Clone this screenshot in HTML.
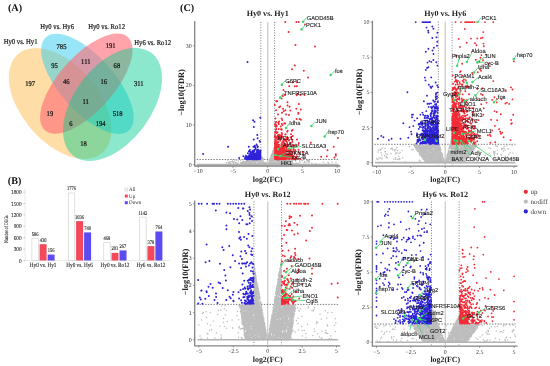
<!DOCTYPE html>
<html><head><meta charset="utf-8"><style>
html,body{margin:0;padding:0;background:#fff;}
svg{display:block;will-change:transform;text-rendering:geometricPrecision;}
</style></head><body>
<svg width="550" height="366" viewBox="0 0 550 366">
<rect width="550" height="366" fill="#fff"/>
<text x="7.9" y="10.8" font-family="Liberation Serif" font-size="10.2" font-weight="bold" text-anchor="start" fill="#111" >(A)</text>
<ellipse cx="60.14" cy="103.5" rx="64.9" ry="38.6" transform="rotate(49.7 60.14 103.5)" fill="rgb(255,182,67)" fill-opacity="0.467"/>
<ellipse cx="87.4" cy="83.9" rx="62.4" ry="27.5" transform="rotate(48.4 87.4 83.9)" fill="rgb(42,202,237)" fill-opacity="0.491"/>
<ellipse cx="86.3" cy="83.6" rx="62.4" ry="27.5" transform="rotate(-48.4 86.3 83.6)" fill="rgb(255,106,116)" fill-opacity="0.609"/>
<ellipse cx="112.5" cy="104.4" rx="64.6" ry="38.4" transform="rotate(-53.0 112.5 104.4)" fill="rgb(0,203,141)" fill-opacity="0.452"/>
<text x="0" y="0" transform="translate(20.60 43.60) scale(0.9 1)" font-family="Liberation Serif" font-size="7.4" font-weight="normal" text-anchor="middle" fill="#1a1a1a" stroke="#1a1a1a" stroke-width="0.22">Hy0 vs. Hy1</text>
<text x="0" y="0" transform="translate(57.10 29.40) scale(0.9 1)" font-family="Liberation Serif" font-size="7.4" font-weight="normal" text-anchor="middle" fill="#1a1a1a" stroke="#1a1a1a" stroke-width="0.22">Hy0 vs. Hy6</text>
<text x="0" y="0" transform="translate(106.60 29.40) scale(0.9 1)" font-family="Liberation Serif" font-size="7.4" font-weight="normal" text-anchor="middle" fill="#1a1a1a" stroke="#1a1a1a" stroke-width="0.22">Hy0 vs. Ro12</text>
<text x="0" y="0" transform="translate(152.70 44.60) scale(0.9 1)" font-family="Liberation Serif" font-size="7.4" font-weight="normal" text-anchor="middle" fill="#1a1a1a" stroke="#1a1a1a" stroke-width="0.22">Hy6 vs. Ro12</text>
<text x="0" y="0" transform="translate(61.50 48.80) scale(0.9 1)" font-family="Liberation Serif" font-size="7.3" font-weight="normal" text-anchor="middle" fill="#111" stroke="#111" stroke-width="0.22">785</text>
<text x="0" y="0" transform="translate(54.60 67.80) scale(0.9 1)" font-family="Liberation Serif" font-size="7.3" font-weight="normal" text-anchor="middle" fill="#111" stroke="#111" stroke-width="0.22">95</text>
<text x="0" y="0" transform="translate(30.20 86.30) scale(0.9 1)" font-family="Liberation Serif" font-size="7.3" font-weight="normal" text-anchor="middle" fill="#111" stroke="#111" stroke-width="0.22">197</text>
<text x="0" y="0" transform="translate(85.80 63.80) scale(0.9 1)" font-family="Liberation Serif" font-size="7.3" font-weight="normal" text-anchor="middle" fill="#111" stroke="#111" stroke-width="0.22">111</text>
<text x="0" y="0" transform="translate(66.30 84.30) scale(0.9 1)" font-family="Liberation Serif" font-size="7.3" font-weight="normal" text-anchor="middle" fill="#111" stroke="#111" stroke-width="0.22">46</text>
<text x="0" y="0" transform="translate(85.70 104.30) scale(0.9 1)" font-family="Liberation Serif" font-size="7.3" font-weight="normal" text-anchor="middle" fill="#111" stroke="#111" stroke-width="0.22">11</text>
<text x="0" y="0" transform="translate(49.90 116.30) scale(0.9 1)" font-family="Liberation Serif" font-size="7.3" font-weight="normal" text-anchor="middle" fill="#111" stroke="#111" stroke-width="0.22">19</text>
<text x="0" y="0" transform="translate(110.60 48.00) scale(0.9 1)" font-family="Liberation Serif" font-size="7.3" font-weight="normal" text-anchor="middle" fill="#111" stroke="#111" stroke-width="0.22">191</text>
<text x="0" y="0" transform="translate(116.90 67.80) scale(0.9 1)" font-family="Liberation Serif" font-size="7.3" font-weight="normal" text-anchor="middle" fill="#111" stroke="#111" stroke-width="0.22">68</text>
<text x="0" y="0" transform="translate(103.70 84.00) scale(0.9 1)" font-family="Liberation Serif" font-size="7.3" font-weight="normal" text-anchor="middle" fill="#111" stroke="#111" stroke-width="0.22">16</text>
<text x="0" y="0" transform="translate(138.80 85.90) scale(0.9 1)" font-family="Liberation Serif" font-size="7.3" font-weight="normal" text-anchor="middle" fill="#111" stroke="#111" stroke-width="0.22">311</text>
<text x="0" y="0" transform="translate(70.80 125.90) scale(0.9 1)" font-family="Liberation Serif" font-size="7.3" font-weight="normal" text-anchor="middle" fill="#111" stroke="#111" stroke-width="0.22">6</text>
<text x="0" y="0" transform="translate(100.70 125.90) scale(0.9 1)" font-family="Liberation Serif" font-size="7.3" font-weight="normal" text-anchor="middle" fill="#111" stroke="#111" stroke-width="0.22">194</text>
<text x="0" y="0" transform="translate(117.70 116.30) scale(0.9 1)" font-family="Liberation Serif" font-size="7.3" font-weight="normal" text-anchor="middle" fill="#111" stroke="#111" stroke-width="0.22">518</text>
<text x="0" y="0" transform="translate(83.60 145.50) scale(0.9 1)" font-family="Liberation Serif" font-size="7.3" font-weight="normal" text-anchor="middle" fill="#111" stroke="#111" stroke-width="0.22">18</text>
<text x="7.8" y="183.6" font-family="Liberation Serif" font-size="10.2" font-weight="bold" text-anchor="start" fill="#111" >(B)</text>
<line x1="25" y1="189" x2="25" y2="260.5" stroke="#ddd" stroke-width="0.6"/>
<line x1="25" y1="260.5" x2="170" y2="260.5" stroke="#ddd" stroke-width="0.6"/>
<line x1="23.4" y1="260.5" x2="25" y2="260.5" stroke="#999" stroke-width="0.5"/>
<text x="0" y="0" transform="translate(21.60 262.50) scale(0.9 1)" font-family="Liberation Serif" font-size="5.9" font-weight="normal" text-anchor="end" fill="#222" stroke="#222" stroke-width="0.08">0</text>
<line x1="23.4" y1="249.1" x2="25" y2="249.1" stroke="#999" stroke-width="0.5"/>
<text x="0" y="0" transform="translate(21.60 251.10) scale(0.9 1)" font-family="Liberation Serif" font-size="5.9" font-weight="normal" text-anchor="end" fill="#222" stroke="#222" stroke-width="0.08">300</text>
<line x1="23.4" y1="237.7" x2="25" y2="237.7" stroke="#999" stroke-width="0.5"/>
<text x="0" y="0" transform="translate(21.60 239.70) scale(0.9 1)" font-family="Liberation Serif" font-size="5.9" font-weight="normal" text-anchor="end" fill="#222" stroke="#222" stroke-width="0.08">600</text>
<line x1="23.4" y1="226.3" x2="25" y2="226.3" stroke="#999" stroke-width="0.5"/>
<text x="0" y="0" transform="translate(21.60 228.30) scale(0.9 1)" font-family="Liberation Serif" font-size="5.9" font-weight="normal" text-anchor="end" fill="#222" stroke="#222" stroke-width="0.08">900</text>
<line x1="23.4" y1="214.9" x2="25" y2="214.9" stroke="#999" stroke-width="0.5"/>
<text x="0" y="0" transform="translate(21.60 216.90) scale(0.9 1)" font-family="Liberation Serif" font-size="5.9" font-weight="normal" text-anchor="end" fill="#222" stroke="#222" stroke-width="0.08">1200</text>
<line x1="23.4" y1="203.5" x2="25" y2="203.5" stroke="#999" stroke-width="0.5"/>
<text x="0" y="0" transform="translate(21.60 205.50) scale(0.9 1)" font-family="Liberation Serif" font-size="5.9" font-weight="normal" text-anchor="end" fill="#222" stroke="#222" stroke-width="0.08">1500</text>
<line x1="23.4" y1="192.1" x2="25" y2="192.1" stroke="#999" stroke-width="0.5"/>
<text x="0" y="0" transform="translate(21.60 194.10) scale(0.9 1)" font-family="Liberation Serif" font-size="5.9" font-weight="normal" text-anchor="end" fill="#222" stroke="#222" stroke-width="0.08">1800</text>
<text x="0" y="0" transform="translate(8.0 229.2) rotate(-90) scale(0.74 1)" font-family="Liberation Serif" font-size="5.3" text-anchor="middle" fill="#222" stroke="#222" stroke-width="0.1">Number of DEGs</text>
<rect x="31.9" y="238.2" width="6.4" height="22.3" fill="#fff" stroke="#ccc" stroke-width="0.6"/>
<text x="0" y="0" transform="translate(35.00 235.63) scale(0.8 1)" font-family="Liberation Serif" font-size="5.6" font-weight="normal" text-anchor="middle" fill="#222" stroke="#222" stroke-width="0.12">586</text>
<rect x="39.6" y="244.2" width="7" height="16.3" fill="#F5485B"/>
<text x="0" y="0" transform="translate(43.00 241.56) scale(0.8 1)" font-family="Liberation Serif" font-size="5.6" font-weight="normal" text-anchor="middle" fill="#222" stroke="#222" stroke-width="0.12">430</text>
<rect x="47.6" y="254.6" width="7" height="5.9" fill="#5B4BF0"/>
<text x="0" y="0" transform="translate(51.00 251.97) scale(0.8 1)" font-family="Liberation Serif" font-size="5.6" font-weight="normal" text-anchor="middle" fill="#222" stroke="#222" stroke-width="0.12">156</text>
<text x="0" y="0" transform="translate(43.10 267.30) scale(0.82 1)" font-family="Liberation Serif" font-size="6.4" font-weight="normal" text-anchor="middle" fill="#1a1a1a" stroke="#1a1a1a" stroke-width="0.1">Hy0 vs. Hy1</text>
<rect x="68.4" y="193.0" width="6.4" height="67.5" fill="#fff" stroke="#ccc" stroke-width="0.6"/>
<text x="0" y="0" transform="translate(71.50 190.41) scale(0.8 1)" font-family="Liberation Serif" font-size="5.6" font-weight="normal" text-anchor="middle" fill="#222" stroke="#222" stroke-width="0.12">1776</text>
<rect x="76.1" y="221.1" width="7" height="39.4" fill="#F5485B"/>
<text x="0" y="0" transform="translate(79.50 218.53) scale(0.8 1)" font-family="Liberation Serif" font-size="5.6" font-weight="normal" text-anchor="middle" fill="#222" stroke="#222" stroke-width="0.12">1036</text>
<rect x="84.1" y="232.4" width="7" height="28.1" fill="#5B4BF0"/>
<text x="0" y="0" transform="translate(87.50 229.78) scale(0.8 1)" font-family="Liberation Serif" font-size="5.6" font-weight="normal" text-anchor="middle" fill="#222" stroke="#222" stroke-width="0.12">740</text>
<text x="0" y="0" transform="translate(79.60 267.30) scale(0.82 1)" font-family="Liberation Serif" font-size="6.4" font-weight="normal" text-anchor="middle" fill="#1a1a1a" stroke="#1a1a1a" stroke-width="0.1">Hy0 vs. Hy6</text>
<rect x="103.8" y="242.7" width="6.4" height="17.8" fill="#fff" stroke="#ccc" stroke-width="0.6"/>
<text x="0" y="0" transform="translate(106.90 240.12) scale(0.8 1)" font-family="Liberation Serif" font-size="5.6" font-weight="normal" text-anchor="middle" fill="#222" stroke="#222" stroke-width="0.12">468</text>
<rect x="111.5" y="252.9" width="7" height="7.6" fill="#F5485B"/>
<text x="0" y="0" transform="translate(114.90 250.26) scale(0.8 1)" font-family="Liberation Serif" font-size="5.6" font-weight="normal" text-anchor="middle" fill="#222" stroke="#222" stroke-width="0.12">201</text>
<rect x="119.5" y="250.4" width="7" height="10.1" fill="#5B4BF0"/>
<text x="0" y="0" transform="translate(122.90 247.75) scale(0.8 1)" font-family="Liberation Serif" font-size="5.6" font-weight="normal" text-anchor="middle" fill="#222" stroke="#222" stroke-width="0.12">267</text>
<text x="0" y="0" transform="translate(115.00 267.30) scale(0.82 1)" font-family="Liberation Serif" font-size="6.4" font-weight="normal" text-anchor="middle" fill="#1a1a1a" stroke="#1a1a1a" stroke-width="0.1">Hy0 vs. Ro12</text>
<rect x="139.7" y="217.1" width="6.4" height="43.4" fill="#fff" stroke="#ccc" stroke-width="0.6"/>
<text x="0" y="0" transform="translate(142.80 214.50) scale(0.8 1)" font-family="Liberation Serif" font-size="5.6" font-weight="normal" text-anchor="middle" fill="#222" stroke="#222" stroke-width="0.12">1142</text>
<rect x="147.4" y="246.1" width="7" height="14.4" fill="#F5485B"/>
<text x="0" y="0" transform="translate(150.80 243.54) scale(0.8 1)" font-family="Liberation Serif" font-size="5.6" font-weight="normal" text-anchor="middle" fill="#222" stroke="#222" stroke-width="0.12">378</text>
<rect x="155.4" y="231.5" width="7" height="29.0" fill="#5B4BF0"/>
<text x="0" y="0" transform="translate(158.80 228.87) scale(0.8 1)" font-family="Liberation Serif" font-size="5.6" font-weight="normal" text-anchor="middle" fill="#222" stroke="#222" stroke-width="0.12">764</text>
<text x="0" y="0" transform="translate(150.90 267.30) scale(0.82 1)" font-family="Liberation Serif" font-size="6.4" font-weight="normal" text-anchor="middle" fill="#1a1a1a" stroke="#1a1a1a" stroke-width="0.1">Hy6 vs. Ro12</text>
<rect x="125" y="188.0" width="2.6" height="3" fill="#fff" stroke="#bbb" stroke-width="0.5"/>
<text x="0" y="0" transform="translate(129.10 191.10) scale(0.9 1)" font-family="Liberation Serif" font-size="5.5" font-weight="normal" text-anchor="start" fill="#222" >All</text>
<rect x="124.8" y="194.6" width="3" height="3" fill="#F5485B"/>
<text x="0" y="0" transform="translate(129.10 197.70) scale(0.9 1)" font-family="Liberation Serif" font-size="5.5" font-weight="normal" text-anchor="start" fill="#222" >Up</text>
<rect x="124.8" y="201.2" width="3" height="3" fill="#5B4BF0"/>
<text x="0" y="0" transform="translate(129.10 204.30) scale(0.9 1)" font-family="Liberation Serif" font-size="5.5" font-weight="normal" text-anchor="start" fill="#222" >Down</text>
<text x="180.0" y="10.8" font-family="Liberation Serif" font-size="10.2" font-weight="bold" text-anchor="start" fill="#111" >(C)</text>
<line x1="267.7" y1="22" x2="267.7" y2="165" stroke="#cfcfcf" stroke-width="1.4"/>
<line x1="260.8" y1="22" x2="260.8" y2="165" stroke="#444" stroke-width="0.7" stroke-dasharray="1 1.6"/>
<line x1="274.6" y1="22" x2="274.6" y2="165" stroke="#444" stroke-width="0.7" stroke-dasharray="1 1.6"/>
<line x1="196.7" y1="159.5" x2="338.3" y2="159.5" stroke="#444" stroke-width="0.7" stroke-dasharray="1.4 1.4"/>
<line x1="445.2" y1="21.7" x2="445.2" y2="165.2" stroke="#cfcfcf" stroke-width="1.4"/>
<line x1="438.3" y1="21.7" x2="438.3" y2="165.2" stroke="#444" stroke-width="0.7" stroke-dasharray="1 1.6"/>
<line x1="452.1" y1="21.7" x2="452.1" y2="165.2" stroke="#444" stroke-width="0.7" stroke-dasharray="1 1.6"/>
<line x1="374.4" y1="144.3" x2="515.5" y2="144.3" stroke="#444" stroke-width="0.7" stroke-dasharray="1.4 1.4"/>
<line x1="267.7" y1="201.5" x2="267.7" y2="344.8" stroke="#cfcfcf" stroke-width="1.4"/>
<line x1="253.9" y1="201.5" x2="253.9" y2="344.8" stroke="#444" stroke-width="0.7" stroke-dasharray="1 1.6"/>
<line x1="281.5" y1="201.5" x2="281.5" y2="344.8" stroke="#444" stroke-width="0.7" stroke-dasharray="1 1.6"/>
<line x1="196.7" y1="304.4" x2="338.3" y2="304.4" stroke="#444" stroke-width="0.7" stroke-dasharray="1.4 1.4"/>
<line x1="445.3" y1="201.5" x2="445.3" y2="345.2" stroke="#cfcfcf" stroke-width="1.4"/>
<line x1="431.5" y1="201.5" x2="431.5" y2="345.2" stroke="#444" stroke-width="0.7" stroke-dasharray="1 1.6"/>
<line x1="459.1" y1="201.5" x2="459.1" y2="345.2" stroke="#444" stroke-width="0.7" stroke-dasharray="1 1.6"/>
<line x1="374.4" y1="324.0" x2="515.5" y2="324.0" stroke="#444" stroke-width="0.7" stroke-dasharray="1.4 1.4"/>
<circle cx="525.8" cy="191.8" r="2.1" fill="#F42A36"/>
<text x="530.6" y="194.0" font-family="Liberation Serif" font-size="7.0" font-weight="normal" text-anchor="start" fill="#444" >up</text>
<circle cx="525.8" cy="201.6" r="2.1" fill="#bdbdbd"/>
<text x="530.6" y="203.8" font-family="Liberation Serif" font-size="7.0" font-weight="normal" text-anchor="start" fill="#444" >nodiff</text>
<circle cx="525.8" cy="211.4" r="2.1" fill="#2E22D8"/>
<text x="530.6" y="213.6" font-family="Liberation Serif" font-size="7.0" font-weight="normal" text-anchor="start" fill="#444" >down</text><path d="M278.5 163.8h0M248.7 164.3h0M269.3 163.5h0M250.5 160.1h0M257.4 160.3h0M256.0 163.3h0M283.2 159.6h0M246.5 160.0h0M245.5 163.5h0M284.2 161.3h0M271.0 156.3h0M251.7 159.6h0M251.8 159.8h0M256.4 163.2h0M250.1 161.7h0M253.8 161.1h0M263.3 162.7h0M273.1 159.1h0M274.1 159.4h0M264.7 163.5h0M271.7 162.2h0M247.7 163.9h0M274.6 157.5h0M272.3 153.3h0M254.1 164.4h0M251.2 161.4h0M272.3 158.7h0M255.3 161.5h0M244.1 164.0h0M288.4 163.8h0M265.2 164.1h0M286.0 160.2h0M247.7 163.7h0M278.0 160.9h0M279.6 161.3h0M274.1 150.5h0M290.3 163.0h0M276.1 160.8h0M267.0 164.1h0M284.9 163.4h0M284.4 161.4h0M247.7 161.8h0M292.7 163.0h0M271.8 160.9h0M273.6 164.1h0M271.2 155.5h0M278.3 163.4h0M291.3 162.2h0M283.2 164.2h0M250.7 160.4h0M253.8 160.9h0M260.8 156.9h0M269.3 161.6h0M287.5 160.3h0M289.2 162.1h0M254.3 162.8h0M283.8 162.3h0M250.4 163.3h0M245.8 163.9h0M271.5 161.9h0M250.2 160.8h0M291.4 162.8h0M273.3 164.4h0M250.7 161.5h0M268.4 164.3h0M273.2 155.2h0M280.1 163.3h0M294.4 164.2h0M274.1 150.8h0M260.8 162.8h0M284.9 163.2h0M273.1 150.5h0M273.9 163.5h0M256.4 164.3h0M253.5 163.8h0M281.5 163.7h0M273.5 162.5h0M274.6 156.1h0M251.2 163.6h0M269.3 162.3h0M272.3 156.8h0M280.7 160.2h0M259.9 159.5h0M272.8 152.8h0M281.8 161.1h0M242.1 163.5h0M274.6 162.7h0M270.0 163.3h0M244.0 162.4h0M282.6 160.6h0M263.5 159.8h0M244.3 163.1h0M271.3 155.6h0M283.0 163.2h0M255.6 161.9h0M260.3 162.4h0M261.9 157.4h0M284.6 163.4h0M244.6 163.1h0M276.0 160.0h0M261.8 158.3h0M263.3 161.9h0M260.8 161.5h0M283.0 161.3h0M250.2 160.6h0M273.0 160.4h0M276.5 160.2h0M248.6 161.7h0M257.8 159.8h0M279.7 162.8h0M290.9 162.9h0M285.8 160.7h0M279.4 160.2h0M271.3 156.1h0M284.3 160.8h0M274.2 159.2h0M254.2 160.9h0M285.9 162.9h0M247.7 162.8h0M248.6 162.3h0M262.5 163.2h0M261.4 158.4h0M262.8 164.3h0M274.8 160.9h0M271.1 159.7h0M286.1 161.1h0M270.4 163.2h0M284.6 164.3h0M271.6 161.4h0M271.5 158.4h0M275.6 163.9h0M277.2 161.9h0M274.6 151.8h0M257.7 163.6h0M272.9 163.3h0M253.0 163.3h0M292.8 164.6h0M258.0 163.4h0M262.0 158.0h0M272.5 163.7h0M289.8 161.0h0M242.7 162.6h0M279.6 162.1h0M264.7 163.1h0M279.4 160.9h0M250.0 160.2h0M269.4 163.8h0M273.2 159.3h0M281.9 160.0h0M283.2 161.5h0M273.7 160.2h0M273.1 151.3h0M249.9 161.8h0M271.5 154.5h0M283.9 160.2h0M274.4 154.8h0M249.4 159.9h0M260.2 160.6h0M293.9 163.8h0M289.4 162.0h0M261.7 159.1h0M263.5 163.2h0M252.7 159.9h0M270.6 160.1h0M276.0 163.5h0M249.0 160.8h0M287.9 160.8h0M261.2 163.2h0M255.2 164.3h0M250.0 159.7h0M279.7 159.6h0M260.0 161.7h0M290.3 164.2h0M268.8 163.6h0M261.8 160.2h0M273.0 164.0h0M270.1 162.1h0M279.2 159.8h0M248.1 160.8h0M262.4 157.4h0M288.0 160.4h0M251.9 163.8h0M288.2 160.2h0M275.1 162.9h0M255.5 161.6h0M253.2 162.9h0M278.8 164.2h0M261.7 157.8h0M272.5 155.9h0M258.0 159.9h0M290.5 163.9h0M250.6 160.3h0M277.7 160.2h0M261.8 160.1h0M253.1 160.0h0M258.0 161.3h0M243.4 163.3h0M288.3 163.6h0M279.7 159.9h0M271.5 156.8h0M277.1 160.3h0M250.2 164.3h0M246.5 163.8h0M258.3 164.1h0M274.2 150.4h0M284.4 161.9h0M249.6 162.6h0M257.9 164.2h0M271.4 161.9h0M260.2 159.8h0M242.7 163.4h0M280.2 161.3h0M246.5 163.2h0M293.2 164.4h0M279.1 159.9h0M290.5 164.2h0M272.0 160.4h0M261.5 157.7h0M281.1 160.7h0M277.7 161.3h0M245.8 161.9h0M262.3 158.6h0M279.2 161.3h0M275.7 160.6h0M274.2 148.1h0M261.3 160.3h0M273.3 153.9h0M268.5 164.0h0M272.9 153.5h0M288.0 161.0h0M284.2 161.8h0M260.2 162.7h0M246.4 161.2h0M274.2 147.8h0M263.9 164.3h0M273.4 151.7h0M249.9 162.2h0M247.1 162.4h0M259.8 160.9h0M264.8 163.4h0M263.2 159.4h0M277.3 160.0h0M262.8 162.1h0M272.7 154.4h0M281.1 163.0h0M274.5 150.8h0M247.1 163.0h0M283.1 160.0h0M262.9 163.6h0M270.9 156.1h0M287.2 162.7h0M287.2 161.7h0M262.9 164.4h0M261.8 159.0h0M281.0 159.8h0M252.3 162.8h0M293.6 164.5h0M273.8 153.6h0M242.8 162.9h0M253.9 159.6h0M275.4 164.2h0M272.1 164.5h0M290.9 163.2h0M280.7 163.3h0M246.2 162.4h0M266.2 164.0h0M272.8 154.9h0M272.4 155.7h0M278.7 160.3h0M271.9 159.8h0M281.8 162.7h0M258.4 161.8h0M284.7 162.8h0M283.5 160.5h0M273.8 162.4h0M280.3 159.7h0M253.8 164.2h0M269.8 159.9h0M256.2 159.9h0M288.5 161.6h0M273.8 154.5h0M283.0 159.8h0M271.4 158.1h0M276.4 163.3h0M290.0 162.7h0M271.3 162.4h0M288.4 163.5h0M276.9 163.3h0M268.9 163.2h0M269.2 161.2h0M272.7 151.8h0M274.0 153.2h0M291.8 163.0h0M241.2 164.0h0M249.7 161.8h0M250.2 160.3h0M253.5 160.5h0M261.4 162.1h0M261.0 159.3h0M272.9 150.8h0M261.1 163.4h0M290.7 161.9h0M260.6 162.4h0M259.2 163.7h0M257.0 161.2h0M292.6 163.1h0M252.3 163.2h0M271.5 159.1h0M294.3 164.1h0M251.7 164.2h0M274.3 157.7h0M288.9 161.6h0M255.9 161.4h0M280.1 160.2h0M272.3 161.7h0M264.5 163.0h0M284.4 160.2h0M250.8 160.6h0M284.5 161.3h0M274.5 162.3h0M280.3 163.5h0M261.3 158.0h0M284.1 160.3h0M281.3 160.0h0M243.8 163.6h0M269.2 161.1h0M282.5 163.5h0M263.9 162.6h0M289.3 163.6h0M247.0 163.6h0M266.2 164.3h0M266.0 162.6h0M274.6 156.9h0M282.5 159.8h0M274.0 160.5h0M263.3 161.9h0M273.6 156.0h0M269.8 164.2h0M253.8 161.3h0M246.4 163.0h0M278.6 164.1h0M288.7 160.5h0M279.2 160.6h0M245.2 163.8h0M243.4 162.7h0M254.4 164.3h0M254.8 162.5h0M274.5 152.3h0M252.4 164.2h0M256.6 164.0h0M255.8 161.0h0M295.1 164.4h0M275.5 162.5h0M272.8 153.8h0M270.1 158.3h0M276.4 160.6h0M271.0 162.7h0M275.3 159.7h0M282.1 163.5h0M247.7 160.8h0M257.8 159.8h0M285.9 161.2h0M291.9 163.8h0M271.2 157.5h0M285.7 159.9h0M279.7 161.2h0M242.6 164.1h0M258.2 161.8h0M271.3 160.2h0M274.4 150.7h0M248.1 161.6h0M242.0 164.1h0M244.7 163.7h0M290.8 163.9h0M250.5 162.5h0M249.2 161.5h0M266.3 163.9h0M274.1 161.0h0M258.6 164.4h0M290.4 163.8h0M271.3 162.2h0M283.3 163.4h0M278.5 161.1h0M287.1 160.9h0M270.9 158.3h0M240.0 164.6h0M275.4 163.4h0M279.7 160.3h0M263.3 158.7h0M262.0 158.8h0M278.0 161.8h0M248.9 163.9h0M262.9 161.2h0M243.1 162.8h0M260.6 162.5h0M275.6 164.1h0M252.7 164.0h0M248.9 163.4h0M269.5 162.2h0M273.5 149.3h0M259.0 162.4h0M273.6 151.9h0M262.1 163.1h0M277.6 161.8h0M273.4 150.4h0M251.8 164.4h0M247.3 162.1h0M273.5 163.7h0M246.0 163.9h0M251.4 163.8h0M273.4 155.8h0M257.5 161.5h0M265.7 162.4h0M245.2 161.4h0M260.4 161.3h0M273.1 153.2h0M260.9 162.4h0M289.5 163.0h0M263.5 159.4h0M280.4 164.0h0M258.0 161.0h0M246.6 163.2h0M273.2 158.7h0M245.3 162.9h0M262.7 161.7h0M277.1 161.7h0M245.0 161.9h0M271.3 159.4h0M277.5 162.6h0M247.5 160.9h0M246.6 161.5h0M271.4 161.9h0M259.9 164.0h0M249.7 162.6h0M283.9 163.0h0M284.0 159.7h0M284.6 162.3h0M285.5 163.3h0M258.8 160.4h0M243.4 163.7h0M256.1 164.3h0M254.9 163.6h0M246.3 164.1h0M266.6 164.2h0M287.6 163.6h0M280.6 163.5h0M258.7 162.7h0M252.6 160.1h0M273.6 158.1h0M286.6 163.8h0M253.1 160.1h0M254.5 162.7h0M251.7 160.4h0M271.4 163.2h0M286.5 163.8h0M275.5 163.3h0M245.9 164.5h0M262.0 160.0h0M252.5 160.5h0M273.8 151.0h0M274.0 158.0h0M258.8 163.3h0M276.8 163.6h0M265.5 164.3h0M274.1 152.7h0M260.1 164.5h0M261.9 159.5h0M278.3 162.8h0M252.5 164.3h0M269.6 163.4h0M274.6 153.3h0M254.3 160.5h0M244.1 162.8h0M264.7 164.1h0M278.8 163.9h0M277.6 162.4h0M272.1 156.9h0M260.3 161.1h0M272.6 163.4h0M249.0 163.7h0M273.9 153.0h0M252.9 160.5h0M248.1 164.1h0M269.5 162.7h0M288.5 163.7h0M278.9 160.3h0M280.3 160.0h0M270.0 163.6h0M259.6 163.1h0M259.7 160.8h0M276.5 162.8h0M269.6 163.6h0M284.0 164.5h0M278.5 160.4h0M263.1 163.7h0M273.6 155.7h0M247.5 162.1h0M272.9 152.6h0M284.7 160.6h0M259.1 163.6h0M264.4 163.6h0M262.6 161.9h0M265.4 163.4h0M246.6 163.1h0M263.5 162.0h0M254.3 163.7h0M271.0 157.0h0M251.3 164.3h0M288.3 161.7h0M272.3 159.8h0M246.2 163.9h0M273.8 160.1h0M274.5 153.8h0M271.6 160.0h0M280.0 160.4h0M273.6 154.3h0M270.6 160.2h0M255.4 160.8h0M250.7 163.1h0M269.0 161.4h0M274.6 155.7h0M274.0 159.1h0M274.2 154.4h0M261.3 163.0h0M259.8 161.5h0M289.3 161.3h0M279.5 161.4h0M273.2 159.6h0M248.8 160.3h0M273.3 159.6h0M274.4 155.8h0M270.3 158.4h0M272.0 154.9h0M272.6 162.9h0M253.3 161.1h0M245.6 164.0h0M250.8 159.7h0M283.6 160.0h0M283.3 162.7h0M262.1 162.3h0M280.6 159.9h0M262.3 160.0h0M273.1 156.6h0M281.0 161.7h0M274.9 162.4h0M252.2 162.2h0M276.8 163.8h0M282.5 163.3h0M282.6 160.2h0M273.5 154.8h0M250.2 163.3h0M273.0 156.0h0M253.7 162.7h0M276.7 160.0h0M273.9 154.4h0M273.7 156.6h0M260.1 164.4h0M247.7 159.8h0M288.5 161.3h0M277.7 163.7h0M270.6 159.8h0M248.2 159.9h0M246.5 164.1h0M273.7 152.3h0M277.9 161.3h0M280.6 161.7h0M261.3 157.6h0M272.9 163.3h0M274.5 164.5h0M281.8 163.2h0M259.3 160.1h0M292.2 163.1h0M277.4 162.9h0M256.8 161.2h0M255.9 162.5h0M282.0 161.6h0M244.3 162.0h0M269.9 161.7h0M273.3 155.7h0M277.8 162.7h0M279.7 161.5h0M273.8 150.9h0M261.5 157.2h0M281.9 164.1h0M278.4 163.1h0M274.1 155.5h0M249.9 160.9h0M254.7 161.1h0M249.2 163.8h0M274.5 152.8h0M280.7 162.5h0M252.7 163.1h0M278.9 160.7h0M281.6 164.4h0M293.1 163.9h0M282.3 159.6h0M271.4 163.0h0M282.1 161.5h0M270.6 158.6h0M283.6 163.4h0M251.3 164.3h0M265.0 163.7h0M273.5 154.5h0M252.3 161.7h0M272.5 152.1h0M259.8 159.6h0M274.7 162.2h0M249.7 162.8h0M257.7 163.6h0M256.5 164.4h0M244.3 163.1h0M269.4 162.9h0M271.4 161.4h0M247.8 163.1h0M293.0 163.7h0M282.1 162.4h0M272.4 157.2h0M259.4 162.0h0M274.4 160.9h0M265.4 164.3h0M268.5 163.3h0M269.8 160.6h0M272.3 158.8h0M279.0 163.6h0M274.8 162.8h0M262.7 163.2h0M250.3 161.3h0M247.9 160.5h0M273.5 160.1h0M287.4 160.6h0M274.1 152.9h0M270.7 160.2h0M253.2 163.0h0M273.0 152.3h0M275.3 164.6h0M266.0 162.5h0M274.0 153.2h0M251.7 160.3h0M291.3 162.9h0M274.1 150.6h0M255.5 162.7h0M249.5 159.8h0M271.6 158.6h0M248.2 163.0h0M292.2 163.5h0M276.6 163.6h0M280.2 162.9h0M262.9 158.4h0M249.4 163.2h0M273.2 153.2h0M259.7 164.5h0M289.3 162.2h0M279.7 162.4h0M274.4 162.2h0M269.4 162.9h0M259.4 160.7h0M251.7 161.0h0M242.5 161.7h0M229.4 163.4h0M295.6 161.1h0M300.0 163.9h0M241.7 163.0h0M295.6 160.2h0M227.4 164.5h0M226.5 162.8h0M236.7 160.2h0M240.6 160.3h0M235.4 162.4h0M308.9 161.0h0M307.5 159.7h0M230.1 161.8h0M309.3 160.5h0M246.2 159.6h0M243.3 159.7h0M292.4 160.8h0M304.1 163.1h0M302.6 160.4h0M240.6 162.8h0M306.8 160.5h0M236.5 162.7h0M232.6 160.0h0M294.0 160.1h0M236.8 160.1h0M306.0 162.8h0M291.9 160.9h0M291.3 159.8h0M231.7 161.7h0M227.7 160.1h0M291.1 161.0h0M242.2 162.5h0M288.9 159.6h0M301.9 160.3h0M307.4 160.9h0M234.8 160.0h0M232.8 161.9h0M239.1 164.4h0M230.6 163.4h0M234.0 161.8h0M229.1 161.9h0M298.2 163.2h0M243.4 161.5h0M232.2 161.4h0M299.6 160.7h0M296.8 163.2h0M304.6 161.4h0M233.6 162.9h0M302.0 164.6h0M241.3 162.8h0M309.3 161.6h0M233.3 164.0h0M291.2 161.2h0M235.6 164.0h0M236.1 159.8h0M308.1 160.0h0M237.4 163.6h0M299.3 164.5h0M238.4 161.3h0M332.2 162.0h0M315.6 163.7h0M300.2 162.0h0M323.3 161.9h0M304.1 162.4h0M295.8 163.4h0M277.9 162.0h0M277.7 164.5h0M260.4 162.2h0M296.8 163.3h0M328.0 162.5h0M229.4 162.7h0M319.1 164.6h0M328.4 163.4h0M316.1 164.6h0M242.7 163.8h0M228.4 162.8h0M308.8 162.8h0M324.7 164.3h0M238.1 163.5h0M308.4 162.6h0M335.9 162.2h0M271.9 162.6h0M311.9 163.2h0M292.6 162.2h0" stroke="#BDBDBD" stroke-width="1.5" stroke-linecap="round" fill="none"/>
<line x1="196.8" y1="164.6" x2="338.6" y2="164.6" stroke="#b3b3b3" stroke-width="1.6"/>
<path d="M245.7 158.8h0M260.4 155.5h0M246.5 158.7h0M259.1 158.8h0M251.7 156.3h0M259.2 151.8h0M258.6 153.7h0M250.5 156.8h0M256.2 158.5h0M245.0 158.2h0M249.9 149.9h0M257.4 156.5h0M256.2 159.2h0M245.4 157.2h0M247.1 159.3h0M259.1 158.5h0M246.5 159.3h0M260.4 157.9h0M256.5 153.4h0M249.3 158.0h0M248.5 156.0h0M260.0 157.4h0M256.0 157.4h0M253.9 155.7h0M256.3 157.1h0M246.0 155.8h0M258.8 158.9h0M258.0 149.8h0M256.5 152.7h0M256.8 155.0h0M254.8 149.7h0M254.8 156.2h0M251.0 156.2h0M259.0 156.7h0M255.9 155.8h0M248.2 158.6h0M256.8 158.4h0M255.6 148.8h0M247.9 153.2h0M254.8 158.9h0M256.7 159.1h0M256.4 157.5h0M255.2 147.2h0M254.3 158.8h0M259.0 155.8h0M254.6 157.7h0M254.9 157.7h0M251.2 156.5h0M260.2 157.2h0M258.2 156.6h0M255.4 154.8h0M252.6 157.1h0M259.6 155.2h0M258.8 157.9h0M253.3 158.4h0M255.4 158.1h0M253.5 156.1h0M253.2 150.5h0M255.8 157.9h0M249.1 156.8h0M258.0 151.3h0M258.5 159.1h0M254.2 151.7h0M252.7 157.1h0M257.7 158.8h0M255.7 153.7h0M253.9 146.7h0M247.2 156.9h0M253.2 157.7h0M259.0 152.0h0M251.2 158.0h0M249.2 157.6h0M250.7 157.1h0M252.3 151.3h0M256.5 155.4h0M251.4 159.1h0M254.7 158.3h0M251.9 158.8h0M257.7 158.5h0M257.9 156.7h0M251.9 154.8h0M256.5 157.6h0M251.8 158.6h0M248.9 151.3h0M259.4 156.3h0M257.1 158.7h0M252.8 156.9h0M254.2 157.1h0M252.6 154.6h0M250.0 155.5h0M246.0 157.4h0M252.1 159.0h0M259.9 157.5h0M251.1 158.5h0M255.0 157.4h0M258.2 156.2h0M256.9 158.0h0M259.4 151.5h0M255.7 156.6h0M258.3 150.7h0M259.7 155.6h0M260.0 157.0h0M257.3 149.8h0M255.8 153.6h0M260.4 158.5h0M260.3 158.4h0M256.9 157.0h0M256.6 158.2h0M255.2 157.4h0M258.9 157.1h0M253.4 156.7h0M249.4 157.5h0M258.6 150.3h0M259.6 158.2h0M256.1 157.7h0M258.6 153.1h0M257.6 156.9h0M252.8 158.9h0M255.9 158.9h0M254.1 155.2h0M259.6 157.4h0M251.5 157.9h0M256.5 155.6h0M245.4 157.2h0M256.2 155.5h0M254.6 159.0h0M248.1 159.2h0M254.8 158.2h0M254.7 157.8h0M254.0 157.6h0M248.7 156.0h0M257.9 158.7h0M258.3 158.1h0M256.0 157.2h0M258.1 158.3h0M254.5 159.4h0M252.2 159.3h0M253.1 156.6h0M256.6 144.6h0M257.5 159.3h0M259.7 158.5h0M249.4 155.1h0M257.0 152.6h0M259.1 158.6h0M253.6 157.0h0M247.6 158.2h0M250.9 156.7h0M258.6 156.7h0M257.3 158.2h0M258.2 154.7h0M251.9 158.9h0M250.4 152.7h0M260.0 159.3h0M252.9 152.6h0M253.9 157.1h0M256.3 156.7h0M249.2 157.4h0M254.7 158.2h0M257.6 147.1h0M252.1 159.1h0M254.5 157.6h0M253.0 158.3h0M245.9 158.4h0M254.0 157.6h0M254.2 157.9h0M255.5 158.4h0M255.7 158.4h0M259.9 157.9h0M260.4 155.9h0M259.8 151.9h0M257.4 158.4h0M254.0 158.3h0M249.9 158.2h0M260.1 152.6h0M250.9 158.4h0M252.0 158.0h0M254.7 158.4h0M254.1 156.1h0M245.0 158.4h0M253.6 156.7h0M256.2 157.7h0M254.3 154.6h0M252.9 157.1h0M251.7 158.4h0M256.7 159.3h0M250.0 153.9h0M248.9 159.0h0M257.4 151.3h0M259.7 152.7h0M247.3 158.9h0M258.7 155.2h0M251.8 159.3h0M254.3 158.7h0M260.5 157.8h0M260.5 151.9h0M260.6 150.6h0M258.1 156.0h0M248.6 156.8h0M259.6 158.5h0M249.7 159.0h0M256.7 150.9h0M256.2 158.8h0M251.9 158.0h0M247.6 157.9h0M259.0 156.9h0M255.7 159.0h0M252.7 159.2h0M251.0 158.9h0M251.5 157.4h0M255.3 158.6h0M259.6 140.9h0M254.8 145.8h0M252.2 154.3h0M255.6 155.8h0M254.0 153.8h0M251.0 156.0h0M257.6 158.5h0M260.4 157.0h0M260.5 153.9h0M257.6 138.2h0M260.3 117.8h0M260.0 141.8h0M257.8 156.6h0M254.7 155.0h0M260.5 158.0h0M253.5 146.8h0M251.4 155.2h0M256.1 156.1h0M257.3 135.1h0M258.8 153.9h0M250.1 151.8h0M257.9 146.8h0M254.0 154.6h0M248.8 146.7h0M252.9 153.0h0M252.0 158.9h0M253.7 139.5h0M257.3 146.0h0M253.2 152.5h0M251.4 152.8h0M203.1 153.9h0M228.1 146.8h0M239.2 157.9h0M247.5 62.0h0M243.4 156.3h0M253.1 120.2h0M254.5 121.8h0M253.8 127.0h0" stroke="#2E22D8" stroke-width="2.0" stroke-linecap="round" fill="none"/>
<path d="M275.6 153.5h0M284.0 158.0h0M278.9 145.1h0M274.9 143.6h0M277.6 155.8h0M282.7 152.6h0M277.0 158.0h0M278.4 141.9h0M282.7 150.2h0M291.0 158.0h0M275.8 144.7h0M274.9 153.5h0M278.2 139.5h0M281.3 157.4h0M275.2 154.3h0M280.1 154.4h0M280.5 158.9h0M277.7 145.3h0M277.0 157.7h0M276.1 137.3h0M288.2 155.3h0M277.4 155.7h0M288.9 140.4h0M282.3 158.4h0M293.6 157.9h0M283.7 155.9h0M275.0 150.9h0M276.7 142.0h0M276.1 150.7h0M278.6 159.0h0M277.0 156.4h0M284.6 147.7h0M292.9 157.9h0M276.4 155.7h0M277.3 157.5h0M284.0 159.3h0M279.9 158.2h0M277.3 156.6h0M278.9 137.2h0M283.6 154.9h0M276.2 151.4h0M284.5 149.2h0M279.5 149.2h0M277.5 135.9h0M283.7 146.6h0M279.9 139.6h0M279.0 135.5h0M278.7 135.5h0M277.3 153.6h0M280.2 153.1h0M287.0 144.5h0M276.1 149.7h0M279.7 155.3h0M275.6 140.3h0M280.4 158.7h0M277.3 156.2h0M275.4 155.6h0M277.8 155.2h0M275.3 158.3h0M294.8 153.0h0M276.5 154.6h0M277.8 154.1h0M276.1 148.6h0M292.6 151.5h0M279.9 153.5h0M282.5 155.7h0M275.3 154.6h0M286.0 150.5h0M275.1 145.5h0M275.1 153.6h0M276.1 156.5h0M276.5 151.8h0M283.0 142.3h0M279.4 158.9h0M275.0 158.7h0M275.7 157.8h0M277.1 158.1h0M287.3 155.8h0M279.1 147.2h0M276.1 153.9h0M275.1 154.1h0M292.2 152.7h0M277.2 151.4h0M279.4 153.9h0M281.5 149.5h0M282.4 146.6h0M276.2 157.6h0M287.0 154.8h0M274.9 148.6h0M275.7 156.9h0M291.6 157.7h0M286.4 156.9h0M285.2 155.6h0M280.2 150.3h0M283.1 157.5h0M282.1 157.9h0M276.6 147.4h0M275.9 155.1h0M275.6 152.5h0M276.1 155.8h0M279.4 159.1h0M276.8 158.5h0M281.2 158.0h0M276.1 158.1h0M283.7 151.0h0M277.1 156.4h0M276.9 153.1h0M280.4 158.2h0M275.9 151.6h0M277.0 150.7h0M276.1 158.6h0M275.3 144.0h0M279.9 159.2h0M277.7 151.5h0M276.4 145.3h0M274.8 153.5h0M280.4 157.7h0M275.7 148.2h0M275.0 150.3h0M286.7 151.3h0M274.9 158.8h0M286.5 144.5h0M276.9 138.5h0M285.9 158.5h0M289.1 159.3h0M277.4 157.5h0M276.3 153.9h0M275.1 132.7h0M276.3 150.3h0M277.7 139.6h0M280.2 153.9h0M284.2 152.8h0M278.7 157.9h0M285.4 151.5h0M278.9 124.1h0M278.9 148.7h0M276.0 155.8h0M281.4 157.0h0M281.6 149.3h0M276.9 147.7h0M287.8 154.5h0M280.3 151.0h0M276.7 159.0h0M276.1 153.5h0M281.5 144.0h0M276.8 157.9h0M278.4 158.0h0M276.8 154.1h0M282.4 158.5h0M276.0 154.3h0M279.6 157.8h0M281.9 152.8h0M281.3 158.6h0M279.7 156.9h0M276.9 158.7h0M282.5 150.9h0M276.9 157.3h0M282.7 157.1h0M293.6 149.3h0M279.5 158.4h0M278.6 159.2h0M276.3 147.3h0M275.6 157.6h0M277.5 132.2h0M276.0 155.1h0M279.8 159.0h0M280.3 158.8h0M277.3 156.3h0M277.1 156.2h0M277.1 158.0h0M277.3 150.1h0M277.7 157.3h0M275.0 147.1h0M277.1 156.9h0M287.2 131.8h0M280.1 158.8h0M286.7 148.0h0M274.9 156.7h0M286.7 154.3h0M276.1 126.2h0M276.4 157.8h0M282.6 125.1h0M282.9 159.2h0M274.9 157.5h0M282.0 134.0h0M275.6 150.6h0M282.2 159.1h0M290.2 156.4h0M277.9 146.9h0M280.0 151.6h0M275.2 151.7h0M275.9 145.6h0M284.6 151.1h0M281.6 129.7h0M286.5 149.4h0M277.7 159.3h0M275.1 152.2h0M276.3 159.2h0M276.0 155.8h0M277.6 156.9h0M282.7 158.0h0M278.9 153.9h0M277.3 147.2h0M276.4 146.5h0M284.4 151.5h0M275.3 158.3h0M285.6 134.2h0M276.6 150.7h0M284.2 143.3h0M275.8 157.6h0M275.2 150.0h0M277.7 149.9h0M276.0 151.3h0M276.9 154.8h0M280.7 135.5h0M276.2 147.3h0M275.1 157.8h0M282.7 158.7h0M286.9 142.0h0M276.4 149.7h0M281.7 129.2h0M279.3 155.7h0M288.7 156.9h0M290.9 155.8h0M278.2 145.1h0M284.1 157.8h0M281.9 123.9h0M278.2 152.9h0M281.8 149.3h0M278.1 155.6h0M276.1 151.6h0M277.4 147.1h0M275.1 148.1h0M275.9 143.3h0M286.2 155.9h0M275.5 157.5h0M276.3 128.9h0M285.6 159.2h0M274.8 152.9h0M278.8 153.0h0M286.9 145.0h0M275.7 131.9h0M278.8 154.3h0M275.9 157.2h0M276.1 156.8h0M280.0 157.0h0M276.9 158.4h0M275.3 140.2h0M278.6 154.6h0M275.7 126.7h0M274.9 147.2h0M275.1 156.7h0M279.2 154.6h0M282.8 152.7h0M282.8 158.8h0M277.1 156.8h0M279.1 155.1h0M275.5 158.3h0M275.2 158.9h0M281.7 133.1h0M280.7 157.6h0M281.0 154.0h0M277.0 146.5h0M276.8 156.5h0M275.1 157.2h0M291.7 154.2h0M283.4 154.0h0M276.8 155.9h0M279.5 156.5h0M279.6 159.2h0M278.0 158.4h0M279.1 153.4h0M290.8 143.1h0M289.6 154.7h0M277.1 144.5h0M275.6 155.6h0M275.2 146.1h0M283.8 138.7h0M276.1 145.0h0M282.7 153.1h0M278.7 146.4h0M279.0 136.3h0M291.9 155.7h0M279.9 154.9h0M290.1 144.1h0M278.2 155.7h0M277.3 150.7h0M282.0 151.7h0M279.7 150.6h0M274.8 154.2h0M282.6 149.0h0M285.9 157.3h0M281.2 145.8h0M276.2 157.7h0M276.4 153.3h0M289.6 156.0h0M292.7 145.3h0M275.1 159.1h0M284.8 143.7h0M277.2 159.3h0M288.1 138.1h0M278.2 150.8h0M274.9 137.2h0M281.0 129.2h0M282.5 155.8h0M276.1 153.7h0M288.0 153.3h0M279.9 157.4h0M275.8 157.2h0M277.2 154.3h0M293.6 156.9h0M276.5 148.7h0M293.1 157.2h0M277.1 155.1h0M275.2 158.6h0M280.1 157.1h0M276.5 146.4h0M279.1 152.8h0M281.8 148.6h0M275.6 148.7h0M275.0 158.4h0M276.7 158.3h0M275.9 157.3h0M285.8 147.1h0M279.4 153.1h0M283.9 152.3h0M275.3 154.5h0M276.3 154.3h0M277.4 152.5h0M281.9 156.5h0M278.1 153.9h0M292.3 159.0h0M289.4 152.9h0M291.2 155.5h0M281.7 159.2h0M276.5 151.1h0M277.4 153.6h0M282.1 152.8h0M276.7 125.6h0M277.9 159.2h0M278.4 155.1h0M276.3 155.0h0M275.3 137.0h0M279.6 156.7h0M280.0 152.3h0M278.0 146.2h0M278.8 139.1h0M284.4 150.0h0M276.0 149.7h0M275.1 156.7h0M274.8 150.7h0M289.2 150.2h0M282.0 153.2h0M283.4 153.1h0M285.4 158.0h0M279.0 151.5h0M275.3 152.8h0M291.1 158.6h0M283.5 149.3h0M281.5 152.2h0M281.5 150.2h0M284.4 152.8h0M291.5 146.8h0M280.7 147.9h0M287.7 130.7h0M292.4 139.8h0M277.7 159.4h0M276.1 158.0h0M282.2 158.1h0M281.5 137.0h0M280.8 126.6h0M279.4 148.9h0M278.0 157.2h0M283.8 157.3h0M276.5 153.9h0M277.3 155.0h0M286.0 154.9h0M274.8 104.9h0M285.7 155.2h0M281.5 153.7h0M290.3 151.3h0M275.7 124.5h0M279.0 156.3h0M287.3 157.2h0M284.5 150.1h0M276.1 110.3h0M287.1 158.5h0M298.8 143.0h0M292.8 136.0h0M276.7 153.4h0M276.8 133.0h0M282.5 150.2h0M276.1 156.0h0M294.6 158.9h0M277.1 147.5h0M277.6 151.7h0M275.1 141.9h0M275.6 154.0h0M275.9 140.5h0M277.3 146.6h0M275.1 146.1h0M279.2 121.6h0M277.0 153.8h0M296.0 158.4h0M281.8 148.9h0M278.4 156.5h0M282.0 158.9h0M274.9 154.0h0M279.7 154.6h0M287.7 150.9h0M284.6 145.3h0M283.4 140.6h0M283.3 158.1h0M293.5 147.5h0M275.2 137.9h0M282.0 112.7h0M280.4 149.3h0M290.1 150.1h0M280.7 138.3h0M298.5 149.7h0M287.4 146.3h0M283.1 155.6h0M278.2 154.7h0M277.4 155.8h0M292.4 141.7h0M278.6 157.6h0M286.4 137.6h0M285.5 139.5h0M284.3 158.9h0M276.7 151.7h0M292.5 130.0h0M276.6 126.4h0M292.8 155.8h0M275.8 156.4h0M291.9 156.4h0M279.3 134.7h0M293.3 151.3h0M280.3 140.5h0M279.2 155.0h0M276.9 144.4h0M288.1 155.4h0M289.0 144.7h0M283.7 147.5h0M280.3 159.1h0M282.8 142.2h0M285.7 156.6h0M295.2 150.9h0M275.8 158.5h0M275.3 141.5h0M281.9 143.9h0M278.9 145.1h0M275.8 155.7h0M288.6 155.3h0M276.0 142.8h0M297.0 139.6h0M274.9 156.7h0M283.9 147.3h0M293.7 158.9h0M285.0 158.2h0M289.5 157.9h0M281.7 135.9h0M290.7 153.8h0M285.4 147.0h0M281.9 145.0h0M280.9 151.8h0M289.8 142.9h0M291.6 157.5h0M282.1 148.5h0M277.1 159.2h0M279.1 144.8h0M279.9 151.7h0M285.4 140.7h0M298.9 152.2h0M281.9 149.9h0M275.1 136.0h0M276.0 148.5h0M285.2 158.1h0M283.8 140.7h0M279.2 147.1h0M280.0 156.8h0M277.9 114.5h0M285.3 147.0h0M291.9 130.7h0M289.5 151.3h0M282.9 153.2h0M275.5 118.4h0M275.7 152.0h0M294.7 153.5h0M300.1 159.0h0M276.5 150.0h0M285.3 134.4h0M276.9 101.2h0M275.3 149.4h0M279.3 159.0h0M277.2 101.2h0M275.1 144.8h0M277.2 154.2h0M288.0 155.7h0M279.3 159.3h0M278.8 153.6h0M276.0 157.8h0M280.2 158.0h0M303.5 154.6h0M279.6 158.3h0M292.2 156.1h0M275.6 152.0h0M281.3 145.6h0M275.6 122.4h0M289.4 154.9h0M293.9 156.6h0M281.7 154.0h0M283.5 154.8h0M283.0 154.7h0M275.0 157.5h0M291.0 150.0h0M282.3 142.3h0M277.9 156.1h0M280.3 137.3h0M288.5 149.6h0M284.5 154.7h0M291.8 152.1h0M283.8 139.7h0M282.7 136.7h0M278.1 135.0h0M278.8 147.9h0M276.4 151.2h0M297.5 158.9h0M277.0 147.0h0M286.0 141.0h0M286.9 139.2h0M284.4 156.7h0M283.0 154.2h0M274.8 148.2h0M289.7 143.9h0M275.2 146.8h0M278.5 122.1h0M294.5 145.5h0M281.4 147.4h0M278.8 129.0h0M276.2 101.2h0M279.1 150.2h0M284.6 153.5h0M284.6 158.5h0M296.0 157.6h0M290.9 137.4h0M276.9 146.1h0M275.5 137.7h0M291.0 155.6h0M280.9 157.9h0M286.3 140.4h0M275.4 144.3h0M296.8 156.3h0M299.6 154.3h0M275.0 158.0h0M289.5 156.0h0M295.3 150.3h0M275.7 132.5h0M278.9 157.1h0M274.8 153.7h0M281.2 148.5h0M283.9 158.0h0M274.8 124.8h0M280.6 139.0h0M298.3 145.1h0M288.9 155.4h0M277.3 148.0h0M277.5 143.4h0M278.4 152.3h0M279.8 149.5h0M275.7 129.5h0M275.7 131.4h0M277.6 155.1h0M275.2 152.5h0M279.0 137.8h0M277.5 137.0h0M275.2 135.3h0M291.0 134.3h0M283.8 157.6h0M286.6 145.6h0M281.7 136.3h0M276.9 151.9h0M285.2 123.4h0M278.0 150.7h0M282.5 149.6h0M275.6 152.2h0M302.7 151.9h0M282.3 120.0h0M278.7 152.2h0M276.5 125.5h0M283.4 145.2h0M284.3 123.3h0M282.4 146.7h0M281.0 152.9h0M281.9 157.9h0M285.4 158.7h0M281.4 155.6h0M280.0 155.4h0M277.4 150.3h0M276.1 154.8h0M288.1 157.7h0M298.4 112.7h0M281.6 98.4h0M286.0 114.4h0M276.1 121.9h0M300.8 109.4h0M287.5 105.6h0M278.4 123.0h0M298.8 104.0h0M284.5 94.8h0M283.7 111.3h0M296.8 95.2h0M283.5 90.1h0M281.6 118.4h0M289.6 106.7h0M290.3 110.5h0M296.6 119.0h0M287.5 102.2h0M299.6 118.9h0M285.4 110.3h0M283.1 108.7h0M300.9 119.7h0M298.0 93.8h0M289.0 115.1h0M279.2 107.2h0M298.3 113.8h0M282.8 96.1h0M280.2 106.6h0M296.3 108.8h0M326.8 156.3h0M333.7 146.8h0M334.4 157.5h0M337.9 138.1h0M327.5 150.3h0M335.8 154.3h0M321.2 156.7h0M335.8 155.5h0M310.8 142.8h0M285.3 22.0h0M296.4 22.0h0M298.7 22.0h0M305.0 24.4h0M288.6 31.9h0M295.5 45.0h0M315.0 46.6h0M294.8 65.6h0M292.0 69.2h0M303.8 70.7h0M308.0 77.5h0M288.6 82.2h0M292.7 82.2h0M296.9 82.2h0M289.2 86.2h0M294.8 86.2h0M296.9 86.2h0M285.1 94.9h0M296.9 94.9h0M300.4 94.9h0M304.5 94.9h0" stroke="#F42A36" stroke-width="2.0" stroke-linecap="round" fill="none"/>
<path d="M431.8 146.6h0M434.6 144.7h0M462.9 159.3h0M430.3 144.8h0M441.3 161.0h0M447.7 154.0h0M449.6 146.8h0M475.4 146.5h0M429.8 158.9h0M448.7 158.2h0M424.7 157.1h0M456.2 149.2h0M461.9 151.5h0M425.4 152.7h0M451.1 144.2h0M422.6 145.3h0M466.1 151.6h0M430.3 155.9h0M452.1 159.4h0M426.6 154.6h0M448.0 158.6h0M435.8 161.0h0M467.0 156.0h0M430.7 158.8h0M448.5 154.0h0M421.2 155.3h0M462.6 157.9h0M456.1 149.2h0M439.5 147.1h0M425.6 158.7h0M420.6 153.8h0M424.6 152.0h0M448.3 158.4h0M432.3 161.6h0M419.1 152.0h0M455.3 157.1h0M433.4 153.5h0M450.6 150.7h0M461.9 158.8h0M426.6 159.2h0M431.2 160.5h0M422.9 154.5h0M432.0 159.8h0M453.1 152.9h0M436.5 155.2h0M419.1 150.0h0M471.5 153.0h0M431.0 157.9h0M463.3 154.5h0M445.3 162.6h0M450.5 150.8h0M426.4 157.5h0M433.0 154.1h0M434.8 153.4h0M440.6 158.6h0M463.2 153.3h0M438.8 145.3h0M462.0 156.9h0M461.1 157.8h0M448.4 162.2h0M475.6 145.3h0M428.8 146.5h0M433.1 147.7h0M476.3 145.0h0M466.5 157.6h0M453.3 157.4h0M458.0 158.7h0M426.1 158.1h0M429.9 158.4h0M426.6 159.9h0M439.5 153.6h0M439.0 160.7h0M432.1 161.4h0M460.6 159.3h0M443.2 159.0h0M458.4 160.3h0M425.5 158.2h0M466.8 151.2h0M439.9 153.2h0M455.1 149.7h0M458.5 150.9h0M467.3 146.6h0M430.4 151.3h0M419.6 144.7h0M421.5 155.2h0M433.1 160.6h0M472.9 146.8h0M448.3 150.7h0M448.4 153.8h0M424.3 147.0h0M471.5 146.5h0M426.1 147.7h0M461.7 152.6h0M441.1 160.5h0M456.0 151.3h0M426.5 157.5h0M447.1 155.9h0M434.4 150.6h0M473.0 146.8h0M459.9 145.0h0M464.2 156.2h0M447.3 157.6h0M428.1 145.9h0M452.8 146.2h0M433.0 159.4h0M422.8 150.0h0M457.4 146.0h0M426.5 161.0h0M423.1 149.0h0M431.8 162.3h0M454.6 144.9h0M461.0 150.7h0M430.6 151.1h0M426.2 145.7h0M438.0 150.3h0M436.6 157.9h0M451.0 143.2h0M435.5 159.2h0M452.6 146.0h0M449.3 148.8h0M426.2 154.0h0M436.4 155.5h0M430.6 157.7h0M419.6 147.8h0M433.8 147.4h0M436.1 151.4h0M453.4 155.1h0M450.9 146.7h0M454.4 148.4h0M417.7 151.4h0M472.6 147.3h0M438.1 157.0h0M456.9 146.0h0M431.3 146.0h0M414.3 145.6h0M425.2 152.7h0M458.4 147.7h0M442.2 157.8h0M426.3 156.4h0M416.4 144.9h0M465.4 155.6h0M425.5 151.1h0M428.9 155.7h0M458.9 159.5h0M456.1 145.1h0M423.7 155.1h0M455.2 154.1h0M451.7 137.8h0M475.8 144.9h0M456.8 149.6h0M428.5 157.3h0M461.3 147.4h0M462.6 157.4h0M441.7 159.5h0M424.1 153.3h0M419.7 148.9h0M433.3 153.0h0M419.2 145.9h0M417.6 144.8h0M447.3 155.3h0M421.2 151.1h0M465.1 150.3h0M425.1 146.9h0M435.3 154.7h0M426.8 152.7h0M451.7 161.9h0M423.9 148.6h0M454.5 146.5h0M425.3 158.6h0M428.4 152.2h0M436.7 150.6h0M467.1 149.6h0M434.7 162.5h0M432.5 153.3h0M440.9 152.9h0M451.5 157.1h0M419.5 145.3h0M422.4 147.1h0M420.0 151.2h0M436.3 153.1h0M439.3 148.9h0M420.1 148.5h0M461.7 160.6h0M435.9 149.8h0M424.1 150.4h0M435.6 158.9h0M450.9 151.0h0M421.0 148.3h0M427.5 147.4h0M451.5 162.5h0M461.5 151.2h0M443.9 160.3h0M431.9 155.6h0M435.9 162.2h0M437.9 155.8h0M423.2 151.1h0M432.9 159.7h0M463.3 151.4h0M428.1 149.3h0M434.4 146.1h0M431.0 146.0h0M462.4 155.1h0M427.2 147.5h0M465.4 150.3h0M450.1 159.4h0M437.6 159.5h0M454.0 161.1h0M439.1 162.1h0M462.4 150.4h0M440.6 151.9h0M429.6 159.4h0M459.4 149.2h0M436.5 153.1h0M427.3 155.2h0M428.9 149.0h0M440.0 150.1h0M466.9 153.2h0M452.1 149.0h0M474.1 146.7h0M425.4 157.1h0M465.8 159.6h0M438.3 156.7h0M426.7 159.1h0M448.7 160.6h0M433.3 161.1h0M441.3 153.3h0M454.1 151.7h0M442.3 156.0h0M426.1 160.3h0M435.3 152.8h0M439.4 150.8h0M472.1 148.8h0M420.6 154.6h0M426.6 148.9h0M426.4 152.2h0M439.1 154.1h0M458.7 149.4h0M464.3 153.2h0M469.6 152.5h0M449.5 154.7h0M472.1 151.4h0M447.1 156.6h0M460.1 148.3h0M430.8 159.0h0M459.6 151.4h0M464.9 151.2h0M420.1 149.8h0M434.9 153.1h0M436.3 155.5h0M426.6 155.1h0M459.7 159.3h0M461.8 156.1h0M452.2 147.0h0M455.4 150.6h0M461.8 159.9h0M430.3 149.4h0M439.8 146.3h0M421.5 149.0h0M464.0 149.6h0M464.7 155.9h0M433.9 147.9h0M424.0 156.6h0M449.8 146.7h0M426.6 159.2h0M468.5 148.6h0M442.7 157.5h0M468.7 152.2h0M451.3 153.0h0M456.1 147.3h0M428.5 147.1h0M455.9 155.7h0M443.0 160.7h0M456.4 151.1h0M464.5 156.8h0M464.7 146.4h0M458.4 162.3h0M438.5 161.5h0M458.9 146.7h0M462.9 159.1h0M440.6 162.3h0M425.5 149.2h0M466.8 157.2h0M437.8 147.2h0M457.6 147.4h0M452.7 155.4h0M449.5 154.7h0M469.7 152.2h0M449.9 145.4h0M447.3 160.9h0M476.6 145.7h0M452.6 157.8h0M428.6 156.6h0M433.8 162.1h0M447.7 159.2h0M463.4 156.9h0M416.1 148.2h0M450.7 145.5h0M459.0 161.3h0M461.1 162.4h0M431.7 157.1h0M438.5 157.0h0M460.1 159.4h0M436.3 156.6h0M428.1 161.3h0M437.0 162.3h0M451.2 148.6h0M450.9 152.9h0M467.7 154.7h0M422.4 150.7h0M469.9 153.8h0M460.7 151.7h0M465.9 145.4h0M448.3 156.2h0M449.6 162.4h0M466.3 159.9h0M438.7 143.6h0M451.5 140.2h0M424.9 153.5h0M444.8 162.5h0M446.3 159.6h0M432.8 145.1h0M465.6 150.4h0M424.4 153.6h0M427.8 160.9h0M461.3 151.8h0M420.3 148.9h0M431.4 145.8h0M468.2 153.0h0M459.6 161.0h0M462.4 157.0h0M453.4 158.8h0M440.4 162.0h0M476.1 146.2h0M434.7 156.6h0M463.5 149.5h0M449.5 161.5h0M436.5 150.1h0M467.2 157.1h0M416.1 148.2h0M426.9 161.6h0M419.9 149.8h0M440.5 155.5h0M458.4 161.3h0M431.9 149.4h0M434.8 150.4h0M474.3 148.7h0M428.0 149.9h0M433.0 160.6h0M418.1 151.4h0M462.2 152.7h0M451.0 160.3h0M456.6 155.8h0M416.1 147.2h0M462.1 146.2h0M455.4 161.2h0M462.3 154.4h0M464.3 146.6h0M419.0 150.8h0M417.3 150.6h0M431.1 148.5h0M464.2 161.1h0M434.3 161.7h0M452.9 148.3h0M470.4 148.8h0M433.4 145.2h0M452.8 158.2h0M460.0 146.6h0M459.6 150.3h0M451.1 158.4h0M433.9 151.7h0M422.1 155.1h0M459.3 159.9h0M459.3 155.9h0M434.1 144.9h0M459.5 161.5h0M451.3 152.7h0M434.6 151.7h0M472.0 147.4h0M419.9 150.1h0M447.3 161.2h0M439.3 153.6h0M451.8 138.8h0M418.0 148.2h0M425.3 150.5h0M428.6 157.0h0M435.9 148.3h0M440.4 149.8h0M419.6 148.9h0M453.8 146.6h0M462.4 153.5h0M454.0 153.6h0M464.4 156.0h0M416.1 148.9h0M462.1 153.7h0M428.7 156.4h0M469.4 148.4h0M461.2 162.0h0M458.6 148.8h0M419.9 148.9h0M452.7 155.2h0M462.5 145.5h0M435.3 150.7h0M448.6 160.2h0M418.0 150.8h0M430.1 145.3h0M426.6 161.4h0M424.9 148.6h0M426.6 145.2h0M437.8 155.7h0M461.9 155.7h0M431.9 145.5h0M434.5 144.9h0M465.9 146.9h0M431.4 147.6h0M427.9 152.5h0M426.7 150.9h0M462.7 161.8h0M462.4 153.3h0M432.0 158.7h0M457.1 149.7h0M451.8 161.1h0M432.0 149.5h0M463.8 152.6h0M440.9 160.0h0M443.3 158.2h0M439.4 153.2h0M425.0 152.9h0M435.8 145.5h0M464.7 162.5h0M466.1 160.5h0M456.2 161.9h0M452.1 149.9h0M437.3 146.8h0M475.9 145.0h0M422.4 147.9h0M433.7 152.0h0M457.8 146.5h0M427.7 160.2h0M460.0 152.0h0M468.1 153.5h0M441.0 161.5h0M428.0 145.0h0M427.6 144.8h0M426.1 152.3h0M465.4 147.5h0M421.7 153.1h0M419.9 145.4h0M433.4 153.6h0M451.4 160.5h0M436.7 145.0h0M446.1 159.7h0M421.2 155.9h0M438.3 148.2h0M425.4 148.4h0M427.3 162.5h0M455.0 149.0h0M417.7 150.8h0M452.5 149.2h0M469.3 150.2h0M429.0 145.6h0M458.4 149.6h0M427.1 160.4h0M453.7 159.0h0M467.5 150.3h0M459.6 155.4h0M460.5 154.6h0M473.5 146.5h0M460.3 148.0h0M462.4 155.0h0M437.3 144.9h0M425.6 157.9h0M429.3 161.9h0M448.9 151.4h0M451.5 145.0h0M440.4 150.3h0M429.2 154.2h0M441.6 162.2h0M462.9 162.0h0M427.1 151.6h0M426.6 145.9h0M432.8 149.7h0M429.1 160.7h0M467.0 151.2h0M424.0 156.6h0M446.3 161.9h0M431.8 159.4h0M450.0 152.9h0M429.7 154.0h0M473.2 149.6h0M458.9 146.2h0M430.7 147.8h0M433.1 162.2h0M455.9 150.2h0M426.7 152.8h0M464.6 150.0h0M455.2 157.7h0M434.8 157.3h0M435.2 155.0h0M454.8 160.5h0M424.1 156.3h0M440.6 152.9h0M421.7 150.3h0M459.6 146.0h0M434.9 154.3h0M443.7 160.6h0M435.0 154.9h0M432.7 145.6h0M451.9 139.0h0M455.6 152.4h0M457.4 153.9h0M465.1 154.2h0M456.9 156.1h0M470.3 146.0h0M436.0 159.8h0M426.2 161.7h0M431.7 158.9h0M450.4 152.6h0M457.1 156.4h0M455.0 155.1h0M440.6 155.8h0M429.6 162.5h0M452.7 161.1h0M426.0 152.6h0M434.6 154.4h0M463.1 152.4h0M470.0 151.1h0M434.7 147.1h0M448.6 159.3h0M472.4 149.9h0M420.5 148.4h0M432.0 154.4h0M450.1 145.1h0M455.8 150.6h0M462.5 146.4h0M443.1 158.6h0M432.6 160.6h0M469.0 150.4h0M421.8 156.1h0M448.1 155.9h0M461.8 152.4h0M425.6 160.7h0M421.6 149.2h0M426.9 155.5h0M463.5 154.4h0M428.7 149.2h0M460.6 155.4h0M427.9 152.3h0M424.4 159.1h0M433.1 162.4h0M451.7 148.0h0M439.5 148.0h0M470.0 149.2h0M419.9 153.7h0M428.3 160.7h0M442.0 153.6h0M463.5 162.0h0M427.3 154.2h0M419.9 148.9h0M450.8 162.3h0M454.1 158.6h0M474.0 147.4h0M429.3 160.3h0M461.5 153.2h0M433.1 148.1h0M456.3 146.4h0M456.1 145.0h0M430.4 153.3h0M454.2 148.7h0M421.4 147.5h0M458.8 158.1h0M422.2 146.2h0M469.1 154.5h0M462.7 145.5h0M431.6 158.1h0M442.5 161.7h0M470.4 146.7h0M436.9 149.9h0M465.7 150.7h0M437.7 162.2h0M439.9 153.3h0M447.1 160.2h0M439.1 154.2h0M452.0 156.6h0M430.9 157.7h0M453.5 154.4h0M469.7 153.7h0M462.5 152.5h0M442.8 157.7h0M452.1 155.6h0M431.5 153.7h0M455.4 146.5h0M429.8 157.9h0M422.1 152.1h0M425.1 150.5h0M420.1 154.7h0M456.5 159.2h0M424.3 155.2h0M429.8 148.1h0M434.8 147.4h0M469.6 146.2h0M466.8 150.2h0M425.7 160.6h0M461.1 160.1h0M467.3 151.4h0M449.0 152.1h0M428.1 146.7h0M436.6 148.0h0M429.1 157.8h0M428.7 154.0h0M464.8 158.9h0M471.8 149.3h0M451.2 145.8h0M461.3 156.9h0M435.8 147.9h0M427.5 157.4h0M456.5 151.2h0M467.2 158.0h0M435.9 153.3h0M432.5 157.6h0M425.5 158.5h0M437.1 159.7h0M471.9 150.2h0M443.1 159.8h0M420.4 153.2h0M475.7 146.7h0M438.7 146.3h0M418.8 147.3h0M432.9 151.5h0M451.5 140.4h0M447.9 160.3h0M465.0 159.6h0M419.7 144.9h0M418.2 150.6h0M423.7 158.3h0M464.0 151.9h0M435.3 155.7h0M457.6 152.7h0M458.4 159.5h0M427.3 148.0h0M467.2 151.0h0M419.4 152.5h0M435.3 153.1h0M441.1 158.8h0M422.1 157.4h0M439.8 158.7h0M422.3 147.1h0M449.5 155.2h0M458.5 148.4h0M449.7 158.8h0M438.2 149.3h0M465.9 156.0h0M451.9 149.9h0M427.2 157.4h0M458.0 152.6h0M436.0 156.8h0M427.1 148.5h0M471.3 152.9h0M471.8 150.5h0M433.1 148.2h0M460.5 157.2h0M430.0 157.7h0M441.3 156.1h0M426.6 150.5h0M440.2 161.4h0M424.5 151.6h0M432.7 150.4h0M426.5 146.6h0M463.5 147.7h0M468.3 156.2h0M468.8 147.9h0M432.6 152.3h0M459.3 154.8h0M436.9 152.9h0M440.8 152.7h0M421.7 150.9h0M430.0 161.0h0M433.1 147.7h0M471.5 149.0h0M468.6 151.7h0M467.1 156.2h0M437.6 156.5h0M437.3 149.5h0M439.1 155.0h0M460.2 145.6h0M432.6 156.3h0M437.8 156.9h0M423.2 156.9h0M465.6 153.5h0M470.8 151.9h0M451.4 141.8h0M461.9 147.6h0M434.6 158.2h0M459.7 162.2h0M452.1 147.6h0M455.1 149.4h0M437.5 146.0h0M444.4 161.9h0M471.3 147.4h0M432.1 151.4h0M464.1 155.1h0M420.3 148.0h0M437.3 155.6h0M465.9 156.4h0M428.4 152.8h0M414.6 146.6h0M467.6 148.9h0M452.0 137.4h0M447.5 160.6h0M467.3 158.6h0M437.7 146.7h0M450.4 151.7h0M433.9 150.9h0M451.8 161.3h0M442.1 154.4h0M461.6 156.1h0M455.0 152.9h0M439.6 146.6h0M442.0 160.9h0M452.4 155.0h0M448.1 153.5h0M468.8 150.2h0M435.1 153.3h0M431.9 161.5h0M416.6 146.8h0M467.9 154.1h0M449.1 154.6h0M458.8 149.5h0M425.6 146.5h0M457.5 151.5h0M465.6 150.0h0M421.7 153.8h0M464.3 161.6h0M414.7 144.9h0M418.9 147.4h0M459.3 145.2h0M466.5 150.6h0M432.9 160.8h0M425.7 155.7h0M431.3 148.9h0M458.0 144.8h0M466.3 151.7h0M473.1 145.7h0M451.0 148.7h0M470.4 148.8h0M437.8 158.2h0M423.5 152.2h0M421.9 156.8h0M437.1 160.7h0M471.1 145.8h0M450.9 140.8h0M469.2 145.5h0M445.4 162.2h0M471.2 150.3h0M415.3 146.5h0M456.3 147.4h0M420.5 150.0h0M428.1 148.6h0M438.4 158.3h0M462.6 155.2h0M438.6 141.8h0M437.1 158.7h0M439.9 159.5h0M448.3 162.2h0M450.6 150.6h0M429.8 155.5h0M461.6 152.3h0M434.7 146.7h0M466.5 157.7h0M421.9 156.6h0M435.8 155.0h0M427.3 157.3h0M451.8 153.0h0M453.6 157.8h0M435.0 157.4h0M466.4 155.3h0M432.4 159.2h0M449.4 155.3h0M456.9 152.1h0M451.7 148.6h0M468.0 157.6h0M439.3 158.4h0M461.4 159.6h0M440.1 157.5h0M464.0 148.6h0M452.0 138.4h0M431.7 151.5h0M450.8 161.9h0M441.2 153.9h0M431.2 149.7h0M462.6 158.0h0M449.2 155.0h0M438.9 152.3h0M464.8 155.2h0M425.3 148.8h0M435.2 151.5h0M450.2 161.2h0M463.2 155.5h0M472.8 149.7h0M450.1 161.5h0M422.3 155.4h0M463.3 161.1h0M436.5 152.1h0M453.1 147.3h0M424.2 151.2h0M440.7 158.5h0M438.3 160.4h0M432.8 155.7h0M461.7 162.0h0M423.6 148.1h0M432.0 153.5h0M431.8 145.8h0M425.8 162.0h0M424.7 148.7h0M428.2 159.5h0M456.4 158.8h0M430.3 162.4h0M435.8 151.1h0M458.9 152.0h0M418.5 151.8h0M456.7 146.5h0M459.4 158.0h0M467.4 155.0h0M422.2 153.7h0M440.1 149.5h0M435.2 161.4h0M438.1 148.1h0M464.8 151.6h0M442.2 154.2h0M461.4 161.8h0M446.4 159.9h0M428.5 152.1h0M440.8 156.8h0M438.0 149.7h0M417.0 147.3h0M451.1 151.5h0M428.3 152.9h0M461.1 160.8h0M457.3 158.0h0M462.8 151.5h0M460.8 157.9h0M452.1 147.6h0M449.3 161.3h0M468.3 150.5h0M456.0 162.4h0M427.0 154.8h0M438.6 142.2h0M473.9 144.7h0M431.8 161.7h0M439.1 159.8h0M428.5 160.6h0M429.8 157.3h0M440.0 151.1h0M435.6 147.8h0M471.5 147.4h0M420.9 149.2h0M429.4 152.4h0M434.0 146.9h0M435.6 160.8h0M421.9 156.0h0M467.6 148.8h0M427.9 158.9h0M437.6 144.9h0M459.4 161.4h0M436.8 145.6h0M464.9 159.2h0M455.0 153.9h0M474.4 148.1h0M447.4 154.1h0M430.1 155.5h0M466.4 145.1h0M449.3 147.9h0M471.6 150.2h0M462.9 153.3h0M447.1 155.8h0M429.0 158.8h0M450.7 148.1h0M418.9 148.0h0M468.2 156.3h0M455.1 151.2h0M421.7 145.9h0M473.9 146.3h0M463.1 159.4h0M424.4 150.6h0M463.1 161.2h0M451.1 148.7h0M451.0 147.7h0M426.9 152.8h0M432.9 151.5h0M439.2 162.1h0M435.6 155.2h0M437.7 154.1h0M449.0 154.6h0M432.3 151.1h0M465.3 159.8h0M462.2 156.5h0M455.4 148.1h0M465.5 148.2h0M439.5 154.1h0M458.8 154.8h0M440.5 158.3h0M433.1 151.7h0M467.8 147.3h0M469.3 144.9h0M434.7 161.7h0M451.8 137.7h0M426.0 158.9h0M456.2 147.0h0M449.4 148.5h0M422.2 151.8h0M461.6 152.0h0M468.7 145.5h0M464.9 146.1h0M449.2 152.7h0M425.7 159.9h0M450.9 144.4h0M430.7 155.6h0M438.0 160.9h0M453.5 160.3h0M451.5 145.2h0M422.4 149.2h0M453.6 152.6h0M451.0 155.7h0M434.9 157.8h0M460.6 145.3h0M461.6 159.6h0M435.6 148.2h0M470.1 150.4h0M430.1 160.5h0M468.6 148.6h0M450.7 152.8h0M454.1 155.7h0M462.8 146.2h0M465.3 151.5h0M454.1 154.4h0M439.2 157.2h0M433.6 150.0h0M451.8 150.5h0M447.3 157.5h0M465.9 150.7h0M465.6 157.6h0M456.2 156.5h0M468.1 156.7h0M451.4 150.3h0M452.3 157.3h0M433.0 154.8h0M458.7 146.3h0M422.1 157.4h0M468.8 156.0h0M427.0 154.3h0M453.8 156.3h0M439.2 145.7h0M471.8 145.5h0M448.6 159.6h0M468.1 154.7h0M474.5 144.9h0M429.0 147.6h0M457.0 148.2h0M436.6 151.3h0M460.2 155.5h0M462.0 146.4h0M470.0 144.7h0M457.6 159.9h0M425.0 153.6h0M451.3 157.7h0M466.8 148.3h0M462.1 149.2h0M451.1 161.5h0M432.5 159.5h0M439.0 150.8h0M456.0 148.6h0M429.2 160.1h0M470.3 145.3h0M453.1 158.7h0M469.6 154.1h0M456.3 156.6h0M455.4 154.5h0M451.1 144.4h0M464.6 146.8h0M457.4 157.8h0M470.4 153.9h0M450.8 156.5h0M463.5 152.6h0M458.8 149.7h0M452.0 154.7h0M423.1 157.4h0M460.3 144.7h0M416.7 147.4h0M450.5 161.1h0M420.9 148.9h0M459.1 161.3h0M466.8 158.1h0M438.7 153.3h0M448.4 153.3h0M462.8 148.7h0M432.2 145.7h0M454.1 147.7h0M433.8 154.1h0M438.3 159.6h0M439.1 154.0h0M436.3 153.0h0M446.9 161.8h0M433.1 154.3h0M428.3 149.9h0M423.8 146.9h0M440.0 150.7h0M460.2 156.9h0M473.2 146.5h0M451.1 156.7h0M454.5 155.2h0M470.8 145.1h0M462.9 157.7h0M455.6 154.9h0M461.8 149.4h0M457.6 150.3h0M448.2 161.1h0M441.4 158.1h0M449.8 145.1h0M439.2 157.4h0M439.2 145.4h0M459.6 155.0h0M471.9 148.9h0M457.9 148.6h0M451.4 158.9h0M463.6 155.5h0M454.7 157.4h0M467.1 156.4h0M438.6 156.3h0M431.7 156.6h0M470.5 154.4h0M461.5 146.8h0M458.1 152.6h0M428.7 162.5h0M426.5 155.3h0M419.8 146.7h0M429.6 151.9h0M423.8 153.6h0M436.3 148.4h0M451.4 161.4h0M459.4 159.7h0M473.3 150.3h0M437.0 151.5h0M462.8 151.7h0M450.7 142.1h0M469.2 151.4h0M451.9 151.9h0M452.2 146.6h0M439.6 152.5h0M439.5 145.6h0M460.6 160.5h0M473.4 146.2h0M436.9 158.4h0M454.8 158.8h0M419.2 147.3h0M471.1 148.1h0M433.6 155.9h0M455.6 147.8h0M451.1 148.9h0M434.9 152.1h0M456.1 151.8h0M463.8 162.3h0M453.5 146.2h0M458.6 156.6h0M467.6 151.5h0M418.1 146.7h0M461.6 162.6h0M419.8 149.6h0M438.1 155.0h0M455.7 159.0h0M459.6 156.6h0M441.0 161.6h0M429.3 145.9h0M433.6 160.1h0M420.2 144.8h0M435.7 151.1h0M461.1 156.6h0M433.2 155.0h0M443.5 159.1h0M458.1 146.0h0M444.1 161.1h0M432.2 155.9h0M439.6 146.5h0M424.8 158.9h0M469.0 151.7h0M451.0 161.8h0M467.2 153.4h0M458.1 160.5h0M459.4 154.8h0M425.3 152.3h0M464.6 149.7h0M462.8 161.3h0M439.2 153.3h0M460.4 146.7h0M434.3 152.0h0M421.9 150.4h0M441.7 154.7h0M458.5 148.8h0M461.8 147.3h0M447.1 155.2h0M438.4 159.5h0M415.5 144.8h0M461.5 156.9h0M437.3 150.9h0M429.8 146.5h0M438.7 160.3h0M435.5 160.3h0M469.5 146.6h0M439.9 148.8h0M458.5 148.7h0M470.6 150.6h0M424.0 152.2h0M453.4 152.5h0M452.7 162.3h0M443.1 157.5h0M450.7 161.9h0M418.2 150.8h0M433.1 154.8h0M418.1 150.0h0M420.2 149.6h0M422.5 154.0h0M453.8 161.2h0M426.2 159.5h0M459.9 162.4h0M456.9 145.2h0M440.6 162.4h0M461.1 161.1h0M443.2 160.3h0M451.9 156.8h0M421.1 152.8h0M453.7 161.9h0M467.5 151.0h0M431.8 149.2h0M424.6 155.0h0M429.9 151.1h0M452.0 155.9h0M433.2 150.9h0M452.4 154.5h0M454.1 155.9h0M440.2 148.0h0M447.5 159.6h0M437.0 151.7h0M429.3 158.7h0M429.1 151.6h0M434.8 149.1h0M453.0 153.2h0M437.8 161.4h0M449.9 158.0h0M427.1 149.8h0M454.5 149.8h0M426.1 158.1h0M458.0 147.0h0M438.5 143.5h0M421.8 151.7h0M456.9 149.3h0M463.1 161.5h0M450.4 147.6h0M428.1 146.6h0M464.5 161.7h0M422.8 152.5h0M458.4 158.4h0M451.2 143.1h0M452.7 157.8h0M435.0 154.9h0M436.5 161.5h0M451.8 144.5h0M461.2 146.0h0M469.4 147.3h0M455.2 162.3h0M431.9 159.0h0M423.5 150.6h0M453.3 159.8h0M421.6 150.4h0M439.5 154.5h0M456.2 157.0h0M428.0 152.6h0M457.5 152.7h0M449.7 153.2h0M435.9 162.6h0M451.2 161.0h0M463.7 144.9h0M432.0 149.8h0M455.9 157.9h0M419.1 150.4h0M441.7 153.1h0M423.2 146.2h0M428.7 152.8h0M429.6 153.8h0M427.9 156.3h0M459.1 155.9h0M465.3 150.6h0M465.1 159.9h0M463.2 152.2h0M459.6 153.4h0M457.6 160.2h0M459.6 145.5h0M450.4 143.9h0M424.3 146.3h0M437.1 147.4h0M430.3 160.0h0M447.0 159.6h0M450.2 152.6h0M425.2 146.8h0M420.3 152.9h0M435.8 148.9h0M419.2 145.6h0M423.2 147.2h0M433.5 158.5h0M438.7 156.7h0M473.1 144.6h0M432.8 155.6h0M441.1 154.9h0M448.8 150.8h0M455.3 157.6h0M456.9 146.9h0M466.3 148.0h0M457.5 156.0h0M425.1 159.6h0M431.3 154.2h0M473.8 147.1h0M462.9 158.9h0M459.8 156.1h0M452.2 157.1h0M466.0 156.9h0M464.6 147.2h0M453.7 146.9h0M468.5 145.3h0M451.2 144.1h0M438.8 158.7h0M465.3 154.0h0M434.5 161.2h0M466.2 149.8h0M473.0 146.9h0M423.4 152.1h0M466.3 146.2h0M424.1 157.0h0M456.8 148.5h0M427.9 156.9h0M459.6 160.8h0M462.8 151.2h0M415.8 146.0h0M455.3 151.7h0M473.8 149.7h0M435.0 152.7h0M452.1 157.0h0M439.5 153.0h0M422.5 146.3h0M425.0 153.0h0M473.6 149.4h0M436.7 147.3h0M439.2 160.6h0M426.4 147.6h0M419.6 150.9h0M455.7 160.6h0M450.2 156.3h0M446.4 158.7h0M430.9 160.2h0M417.4 150.9h0M462.7 157.3h0M434.0 155.6h0M458.8 144.8h0M428.0 154.6h0M466.2 159.6h0M454.1 155.2h0M448.4 161.9h0M460.8 147.0h0M440.8 158.4h0M421.1 152.5h0M437.4 153.3h0M428.8 150.3h0M432.9 144.6h0M437.7 162.0h0M439.1 150.2h0M432.6 147.7h0M460.1 150.3h0M419.6 147.8h0M466.1 146.5h0M462.6 151.9h0M425.3 159.9h0M433.8 158.2h0M438.5 156.4h0M439.0 155.2h0M440.4 149.0h0M436.1 147.8h0M463.0 149.5h0M428.4 159.2h0M439.1 156.2h0M468.5 151.2h0M447.6 160.1h0M459.9 153.1h0M456.4 150.6h0M440.5 157.0h0M438.3 153.6h0M432.1 152.6h0M433.7 153.5h0M464.8 158.4h0M468.0 156.8h0M430.4 156.7h0M451.2 156.5h0M429.8 152.2h0M442.6 155.0h0M431.3 149.3h0M420.5 148.8h0M437.1 162.0h0M450.1 146.0h0M470.4 145.4h0M426.7 154.1h0M448.4 151.3h0M439.0 158.2h0M425.0 152.6h0M434.3 156.9h0M415.4 147.4h0M437.7 153.4h0M459.0 154.5h0M427.6 146.5h0M426.6 148.8h0M461.2 155.3h0M455.0 160.8h0M433.1 154.4h0M457.4 153.3h0M467.6 147.4h0M456.0 158.4h0M448.2 152.9h0M424.7 146.8h0M466.9 145.2h0M461.5 161.8h0M430.2 158.1h0M437.4 151.9h0M437.0 144.7h0M428.8 160.1h0M430.9 144.8h0M428.3 147.4h0M427.9 159.6h0M438.8 161.8h0M467.9 147.1h0M435.9 155.3h0M436.4 162.5h0M451.5 143.1h0M461.0 158.4h0M452.0 137.6h0M452.4 157.5h0M425.5 150.5h0M436.2 145.6h0M462.5 148.7h0M427.1 162.4h0M460.7 153.5h0M458.4 146.7h0M439.1 148.0h0M474.4 147.9h0M439.6 161.6h0M461.4 160.2h0M464.0 149.0h0M455.9 152.7h0M438.1 161.4h0M450.9 143.3h0M457.4 162.0h0M468.0 147.9h0M422.6 156.2h0M452.9 160.3h0M477.0 144.9h0M427.3 147.6h0M433.7 157.9h0M431.4 161.0h0M455.0 148.7h0M439.8 161.8h0M427.5 162.6h0M421.9 147.2h0M461.3 148.7h0M429.3 148.6h0M437.2 150.8h0M463.9 149.5h0M463.0 161.0h0M473.4 145.6h0M438.2 147.1h0M434.9 160.7h0M430.0 157.4h0M474.3 148.5h0M432.0 160.9h0M429.4 156.2h0M439.3 148.3h0M452.4 149.3h0M458.7 146.0h0M425.4 156.2h0M423.8 157.8h0M430.1 151.8h0M468.9 145.9h0M425.4 154.1h0M466.7 156.5h0M431.0 162.5h0M413.1 144.9h0M460.2 149.2h0M439.9 150.3h0M417.3 146.8h0M440.7 149.8h0M429.3 155.1h0M453.2 151.8h0M455.1 162.5h0M434.6 149.9h0M434.3 151.4h0M433.6 160.4h0M415.1 145.5h0M429.5 147.1h0M464.5 145.4h0M459.7 159.8h0M471.5 148.5h0M430.1 154.1h0M449.0 157.1h0M416.8 150.0h0M430.1 158.5h0M451.6 154.8h0M469.9 148.2h0M427.4 154.8h0M451.3 151.7h0M438.8 153.1h0M465.4 152.1h0M441.2 157.6h0M460.4 151.1h0M464.0 145.1h0M427.0 146.1h0M459.5 151.8h0M458.0 147.4h0M434.9 144.8h0M457.7 145.6h0M429.9 150.4h0M423.8 159.4h0M456.5 148.3h0M467.9 145.1h0M456.5 155.3h0M450.4 155.6h0M438.9 152.1h0M461.0 151.7h0M435.5 152.6h0M420.2 146.9h0M435.9 157.4h0M457.3 158.0h0M434.9 155.7h0M447.4 155.9h0M447.4 155.5h0M456.2 152.2h0M423.1 152.3h0M454.3 148.8h0M438.8 157.3h0M453.1 148.7h0M415.8 145.8h0M454.1 154.6h0M462.4 151.3h0M469.0 146.2h0M432.1 155.8h0M428.7 149.0h0M462.4 159.0h0M430.5 144.7h0M428.7 159.4h0M429.6 148.6h0M415.2 145.0h0M458.4 157.8h0M456.8 145.6h0M425.8 157.3h0M465.7 151.9h0M424.4 147.8h0M451.8 157.8h0M429.5 145.9h0M425.4 150.4h0M457.2 160.0h0M446.4 158.6h0M432.0 145.9h0M465.1 161.5h0M465.7 155.9h0M459.8 157.8h0M459.8 157.9h0M467.9 147.1h0M414.1 145.0h0M430.8 156.7h0M427.6 147.0h0M464.8 156.6h0M424.2 159.6h0M446.9 157.2h0M467.7 154.3h0M471.1 150.0h0M447.4 156.7h0M467.0 146.7h0M440.5 155.3h0M433.6 146.5h0M429.5 156.0h0M439.9 154.5h0M451.6 150.1h0M451.4 139.3h0M422.4 154.3h0M417.1 144.7h0M454.3 150.4h0M422.2 147.4h0M436.5 146.3h0M426.0 159.9h0M452.1 156.7h0M469.2 146.2h0M431.3 149.6h0M430.1 162.6h0M453.7 146.8h0M440.3 147.7h0M459.3 156.2h0M426.3 152.0h0M450.6 161.5h0M452.1 160.4h0M448.6 154.7h0M461.0 149.3h0M435.2 162.6h0M429.7 161.3h0M427.4 156.6h0M436.6 160.3h0M446.3 160.6h0M459.3 150.7h0M428.7 157.1h0M432.0 157.9h0M432.4 146.6h0M459.9 151.6h0M421.9 154.3h0M460.8 162.5h0M437.7 153.4h0M455.2 148.6h0M415.6 146.5h0M426.7 145.6h0M454.1 154.3h0M456.9 157.7h0M438.7 159.8h0M431.4 161.5h0M453.1 155.3h0M465.6 152.1h0M454.4 159.5h0M457.2 161.9h0M429.2 157.0h0M415.5 145.4h0M461.4 155.1h0M429.4 153.2h0M440.9 149.5h0M435.7 147.9h0M448.6 153.1h0M443.7 162.5h0M450.5 154.4h0M457.0 162.3h0M436.3 160.8h0M418.5 148.6h0M437.6 148.7h0M449.7 146.1h0M443.2 161.0h0M425.3 151.8h0M452.9 152.4h0M440.6 152.8h0M416.4 145.9h0M431.1 156.9h0M439.6 146.3h0M439.8 158.7h0M435.0 156.0h0M439.6 153.8h0M440.7 151.3h0M461.7 155.5h0M465.4 158.7h0M423.0 158.3h0M466.8 146.4h0M453.4 148.1h0M437.9 150.7h0M444.6 161.2h0M433.2 154.1h0M440.9 159.4h0M425.7 146.2h0M467.9 153.2h0M434.3 161.4h0M462.6 159.6h0M465.5 149.9h0M469.1 153.1h0M455.1 148.9h0M418.2 146.0h0M451.7 146.8h0M434.3 156.4h0M417.6 150.5h0M436.7 159.3h0M431.3 148.7h0M453.3 151.0h0M430.9 156.6h0M423.5 152.0h0M433.0 146.6h0M438.6 155.1h0M454.2 157.3h0M453.1 151.9h0M436.2 157.5h0M419.8 146.0h0M456.2 158.8h0M449.6 159.1h0M423.0 148.9h0M471.6 148.5h0M423.9 154.3h0M439.2 145.6h0M463.2 159.9h0M414.2 145.3h0M429.4 153.3h0M457.4 144.6h0M422.2 145.2h0M439.6 158.0h0M426.8 161.1h0M421.8 148.9h0M434.9 159.3h0M447.4 161.0h0M440.3 159.6h0M419.4 145.9h0M457.9 147.7h0M451.4 150.4h0M452.3 145.3h0M462.9 147.4h0M440.3 151.5h0M466.2 160.6h0M458.3 159.8h0M439.0 158.1h0M468.7 155.9h0M430.6 148.0h0M450.4 162.3h0M469.4 148.7h0M426.3 151.9h0M449.0 153.6h0M434.4 152.7h0M429.8 152.2h0M457.4 147.5h0M465.6 150.0h0M476.6 145.4h0M418.0 150.9h0M438.7 154.8h0M427.5 149.5h0M456.5 149.2h0M456.9 159.8h0M435.5 161.1h0M417.8 150.5h0M429.2 151.0h0M425.3 158.4h0M463.8 149.9h0M452.5 148.3h0M433.8 161.7h0M429.0 160.8h0M453.5 159.7h0M428.6 150.5h0M455.5 153.9h0M443.0 161.3h0M455.2 147.3h0M463.2 150.3h0M424.8 151.6h0M462.3 161.6h0M451.7 152.1h0M439.0 148.5h0M426.1 159.9h0M441.5 160.3h0M470.5 146.7h0M426.1 145.3h0M458.4 147.0h0M431.9 147.4h0M417.8 150.3h0M468.3 149.7h0M421.0 151.4h0M432.1 158.9h0M453.6 146.2h0M437.8 156.4h0M417.3 150.7h0M433.4 157.4h0M435.4 145.8h0M454.8 157.3h0M431.0 159.9h0M460.0 158.7h0M424.4 154.1h0M429.2 146.1h0M467.0 144.7h0M454.5 155.3h0M474.4 146.1h0M471.9 148.5h0M424.8 156.5h0M465.2 148.7h0M437.3 154.4h0M470.8 153.8h0M453.2 145.7h0M441.3 158.6h0M421.6 156.5h0M444.2 159.7h0M453.0 146.1h0M465.5 146.8h0M447.6 160.9h0M430.1 150.2h0M467.8 145.4h0M450.2 155.8h0M421.2 147.7h0M427.1 150.3h0M455.4 155.0h0M459.9 150.7h0M466.3 159.2h0M453.8 147.5h0M460.5 146.0h0M432.2 146.3h0M459.6 145.6h0M447.4 157.4h0M449.3 158.1h0M424.8 148.2h0M423.6 149.9h0M450.9 155.9h0M472.1 149.6h0M424.3 146.8h0M463.9 158.5h0M461.7 157.3h0M462.0 144.9h0M470.9 147.1h0M438.3 154.7h0M437.0 144.8h0M453.4 152.7h0M424.6 153.2h0M448.5 159.7h0M435.0 151.6h0M418.6 148.5h0M451.2 152.1h0M470.0 148.5h0M459.6 156.5h0M432.0 158.0h0M467.9 151.4h0M431.7 149.8h0M435.0 155.2h0M452.8 162.5h0M424.8 161.0h0M431.7 149.9h0M420.4 151.4h0M426.6 148.0h0M421.9 150.5h0M419.2 146.8h0M430.0 145.6h0M450.3 155.3h0M429.3 152.2h0M447.0 162.3h0M469.2 145.5h0M422.2 150.4h0M467.2 151.7h0M424.8 160.3h0M420.0 144.9h0M461.3 153.2h0M463.2 160.3h0M430.4 158.2h0M428.8 157.7h0M430.7 146.4h0M433.0 148.3h0M418.1 145.7h0M438.8 160.4h0M436.2 156.8h0M420.7 152.6h0M423.6 157.0h0M419.5 153.7h0M453.4 151.8h0M450.2 152.4h0M460.1 158.8h0M461.3 156.2h0M440.5 154.6h0M457.9 148.6h0M441.1 154.2h0M430.9 156.4h0M429.6 159.0h0M440.3 154.6h0M422.6 150.1h0M460.4 155.5h0M435.9 154.6h0M440.5 157.4h0M425.1 152.8h0M426.0 146.1h0M435.7 158.9h0M450.3 154.1h0M432.3 146.8h0M463.3 160.9h0M473.2 148.2h0M426.3 160.4h0M435.1 155.9h0M453.6 156.7h0M424.4 155.5h0M434.9 150.6h0M449.4 147.7h0M456.8 149.6h0M444.7 161.0h0M460.7 154.1h0M475.5 147.2h0M473.8 147.0h0M469.6 150.8h0M431.9 155.8h0M425.5 145.1h0M425.0 150.0h0M423.6 157.9h0M429.3 160.3h0M432.5 152.1h0M449.0 148.4h0M448.6 150.5h0M426.3 161.9h0M433.8 144.6h0M427.0 147.8h0M436.7 151.7h0M416.2 148.3h0M458.6 150.6h0M429.4 145.7h0M464.4 153.4h0M473.2 148.4h0M448.0 159.0h0M444.2 162.4h0M432.0 150.8h0M451.5 139.8h0M425.1 160.7h0M436.9 146.8h0M433.3 159.3h0M420.5 151.5h0M435.7 157.1h0M430.2 152.0h0M430.2 145.6h0M456.8 156.0h0M420.1 147.8h0M452.0 141.1h0M430.1 154.1h0M455.1 160.7h0M430.2 146.1h0M439.5 152.3h0M436.6 152.3h0M422.0 147.5h0M437.1 160.5h0M463.0 149.4h0M452.0 142.0h0M468.8 146.8h0M466.5 149.7h0M423.4 158.6h0M440.2 152.6h0M434.1 153.8h0M436.1 151.3h0M423.9 149.3h0M443.9 161.4h0M472.9 145.1h0M457.7 155.2h0M450.9 161.8h0M472.5 146.2h0M473.8 144.8h0M439.6 157.8h0M461.0 158.6h0M419.5 148.7h0M438.3 154.7h0M450.3 151.4h0M435.6 146.0h0M465.6 159.2h0M456.3 151.3h0M423.4 145.4h0M423.2 146.4h0M420.4 154.5h0M467.2 147.5h0M465.9 147.5h0M440.8 157.7h0M433.9 146.7h0M418.5 145.7h0M436.2 150.8h0M461.2 158.3h0M434.4 161.1h0M456.0 154.8h0M453.7 151.9h0M450.2 150.9h0M417.8 147.9h0M431.6 160.0h0M431.3 153.2h0M456.0 154.4h0M416.8 148.3h0M439.9 159.9h0M422.7 155.7h0M476.5 145.9h0M469.7 146.3h0M460.4 157.8h0M454.7 145.9h0M459.6 158.3h0M418.4 150.3h0M451.1 144.1h0M429.3 156.3h0M462.2 157.5h0M434.8 149.4h0M426.8 154.3h0M463.7 161.9h0M430.2 148.1h0M425.9 162.6h0M429.5 147.3h0M459.3 156.9h0M463.0 153.9h0M465.2 150.6h0M429.7 153.3h0M415.8 145.5h0M423.3 154.5h0M428.9 147.7h0M436.5 144.8h0M459.2 151.9h0M451.9 162.0h0M433.3 146.5h0M431.8 149.2h0M460.0 149.4h0M437.6 150.3h0M451.2 160.4h0M425.4 146.8h0M459.5 150.3h0M440.0 160.5h0M435.2 159.6h0M426.0 159.1h0M448.0 156.5h0M462.2 158.4h0M436.2 146.5h0M438.1 159.9h0M456.4 154.9h0M421.1 153.9h0M420.0 150.6h0M473.0 148.0h0M438.5 147.0h0M439.5 156.1h0M472.8 145.2h0M448.6 162.4h0M454.9 162.2h0M471.2 145.6h0M424.2 147.9h0M419.2 152.0h0M464.7 147.6h0M428.8 159.3h0M467.9 156.6h0M454.0 154.5h0M436.6 162.4h0M465.9 154.5h0M427.0 155.7h0M454.8 159.1h0M451.5 158.1h0M470.0 151.3h0M455.8 160.0h0M459.2 162.0h0M461.5 150.9h0M426.7 145.0h0M432.4 154.7h0M463.9 157.4h0M435.6 153.5h0M435.3 150.5h0M432.8 162.4h0M421.2 149.8h0M424.4 157.6h0M451.2 148.3h0M434.2 145.2h0M416.6 145.4h0M429.0 144.9h0M458.2 152.4h0M465.7 160.7h0M466.8 154.7h0M421.9 149.8h0M433.8 158.2h0M425.4 145.4h0M451.7 152.2h0M465.3 147.9h0M425.6 152.6h0M459.3 153.0h0M459.7 162.0h0M451.4 143.2h0M430.7 160.9h0M433.3 150.0h0M439.9 158.2h0M465.5 147.0h0M422.5 149.7h0M460.6 155.6h0M431.4 159.1h0M467.6 153.9h0M449.1 156.4h0M450.6 155.3h0M465.9 150.7h0M423.4 155.1h0M417.8 146.4h0M428.4 150.0h0M459.4 159.3h0M457.9 148.7h0M469.6 155.7h0M419.4 148.6h0M418.0 148.6h0M424.2 149.4h0M463.2 147.1h0M449.5 147.3h0M435.1 147.5h0M425.6 159.8h0M443.5 159.2h0M466.7 157.8h0M459.7 145.2h0M466.0 148.1h0M423.6 147.3h0M422.3 156.4h0M427.0 148.7h0M415.6 147.6h0M423.5 158.8h0M416.3 146.7h0M452.8 162.6h0M419.9 150.9h0M430.6 147.2h0M442.8 160.6h0M426.8 153.8h0M434.6 149.4h0M435.4 159.8h0M421.2 151.2h0M459.1 154.4h0M423.0 158.9h0M451.3 161.7h0M430.4 161.7h0M454.8 153.6h0M456.0 159.3h0M466.8 156.4h0M457.4 145.2h0M448.0 157.8h0M429.4 157.8h0M450.4 157.2h0M429.1 159.5h0M461.8 147.3h0M452.2 153.0h0M449.9 155.1h0M423.4 154.1h0M420.3 146.4h0M473.4 144.6h0M429.5 151.8h0M450.2 153.2h0M437.1 155.6h0M443.6 158.7h0M440.2 160.5h0M420.9 145.9h0M434.3 160.9h0M456.0 152.0h0M434.1 152.0h0M421.2 150.6h0M464.8 158.2h0M433.1 153.4h0M471.7 149.9h0M439.2 158.5h0M425.2 152.3h0M414.9 146.1h0M464.1 156.4h0M434.9 158.2h0M450.6 156.6h0M461.3 158.3h0M472.8 147.0h0M457.5 159.2h0M421.9 148.3h0M437.9 158.5h0M430.8 162.1h0M427.7 162.0h0M440.0 159.0h0M434.2 157.8h0M431.1 160.3h0M449.9 159.6h0M433.6 154.9h0M459.2 150.1h0M422.4 147.1h0M438.8 160.4h0M461.9 147.8h0M450.4 152.9h0M454.3 149.4h0M458.7 162.1h0M457.0 154.7h0M425.5 151.8h0M421.7 150.8h0M428.4 148.3h0M512.9 153.0h0M392.8 150.1h0M476.8 153.1h0M402.6 157.8h0M398.8 156.6h0M387.6 162.5h0M495.7 145.7h0M376.7 158.8h0M507.6 161.9h0M511.3 144.8h0M512.4 144.9h0M399.7 159.4h0M493.6 152.7h0M505.1 156.2h0M391.0 153.8h0M486.5 158.2h0M395.4 159.3h0M489.1 153.2h0M380.3 158.0h0M384.9 151.7h0M420.3 161.3h0M497.2 146.2h0M402.1 150.6h0M477.1 161.8h0M485.3 155.2h0M400.1 152.5h0M494.4 154.0h0M506.1 159.1h0M485.5 159.7h0M504.2 146.2h0M413.0 149.4h0M405.4 161.8h0M381.0 150.0h0M381.1 152.8h0M492.6 159.0h0M487.0 158.5h0M473.0 159.3h0M504.7 159.9h0M385.8 154.1h0M479.0 151.2h0M419.3 160.2h0M393.5 162.0h0M469.9 162.1h0M390.8 148.9h0M473.5 160.9h0M497.2 154.2h0M477.4 156.3h0M510.2 152.7h0M396.8 147.4h0M398.9 153.7h0M497.5 149.9h0M382.0 158.8h0M506.9 146.1h0M411.8 150.0h0M488.9 148.0h0M419.7 154.9h0M501.7 149.6h0M487.4 158.4h0M501.0 154.5h0M409.3 146.5h0M381.9 157.9h0M381.7 155.3h0M386.4 156.4h0M394.8 151.0h0M380.6 149.4h0M398.3 159.1h0M396.1 153.1h0M385.0 148.4h0M399.7 158.5h0M397.3 159.6h0M387.5 157.9h0M378.1 151.9h0M378.8 158.1h0M387.4 154.4h0M393.8 159.1h0M392.2 148.7h0M397.0 152.9h0M382.1 148.2h0M395.6 153.9h0M386.1 157.6h0M395.8 149.5h0M377.7 159.5h0M384.6 155.7h0M395.6 157.7h0M394.7 149.7h0M385.4 151.8h0M380.2 149.5h0M397.5 150.6h0M378.6 150.3h0M391.9 148.1h0M508.1 148.7h0M490.7 155.2h0M497.3 153.4h0M498.1 156.9h0M503.1 148.3h0M504.2 148.6h0M498.3 158.5h0M503.5 150.9h0M508.9 154.6h0M502.0 148.6h0M495.5 158.0h0M494.5 153.5h0M508.5 149.0h0M494.5 155.6h0M495.1 152.1h0M511.0 158.5h0M505.2 150.2h0M493.8 151.5h0M509.4 158.6h0M504.4 158.8h0M507.8 156.7h0M494.3 159.1h0M490.5 148.6h0M507.4 159.0h0M501.5 155.5h0" stroke="#BDBDBD" stroke-width="1.5" stroke-linecap="round" fill="none"/>
<line x1="375.1" y1="162.6" x2="515.3" y2="162.6" stroke="#b3b3b3" stroke-width="1.6"/>
<path d="M434.8 129.7h0M432.4 111.0h0M434.3 121.2h0M419.7 124.1h0M429.4 143.8h0M427.8 128.6h0M433.6 116.1h0M430.8 144.0h0M433.1 142.7h0M423.4 131.2h0M422.4 112.6h0M427.7 138.8h0M428.0 126.9h0M438.0 142.8h0M437.3 127.0h0M437.6 102.0h0M435.6 136.7h0M437.4 142.0h0M431.0 103.4h0M438.2 142.3h0M437.9 137.1h0M436.3 108.5h0M425.5 139.6h0M420.2 143.8h0M427.7 131.0h0M436.7 118.3h0M436.1 131.9h0M436.5 133.8h0M419.5 139.0h0M429.5 140.4h0M437.3 137.1h0M422.9 137.4h0M425.7 142.8h0M426.0 140.1h0M436.9 115.6h0M430.5 122.9h0M435.0 139.6h0M422.7 141.6h0M436.8 132.8h0M435.9 141.1h0M436.3 133.4h0M429.8 119.5h0M434.2 112.3h0M437.9 136.9h0M427.5 135.3h0M429.9 131.0h0M433.6 142.3h0M437.1 115.5h0M435.6 127.7h0M429.7 137.9h0M430.0 139.1h0M437.7 130.6h0M418.7 139.4h0M436.3 133.7h0M437.3 140.9h0M428.3 141.1h0M434.2 140.7h0M431.4 143.3h0M421.7 133.8h0M435.5 128.5h0M432.8 134.7h0M423.9 133.9h0M432.9 133.8h0M434.9 118.0h0M437.7 142.7h0M423.6 142.6h0M416.9 135.2h0M436.2 121.4h0M436.5 136.4h0M428.1 125.8h0M437.0 131.1h0M428.8 140.9h0M433.7 115.1h0M431.9 119.6h0M428.3 136.6h0M433.6 129.3h0M433.5 140.4h0M435.9 127.2h0M437.0 136.0h0M433.5 113.4h0M421.7 143.4h0M433.1 137.1h0M425.0 132.7h0M434.9 115.4h0M437.0 135.7h0M429.4 136.2h0M430.2 134.5h0M437.9 116.5h0M434.4 141.5h0M435.4 133.4h0M417.4 141.7h0M437.8 137.7h0M430.1 133.8h0M421.8 137.8h0M427.2 139.3h0M435.1 137.0h0M430.9 116.6h0M427.8 128.4h0M428.9 130.6h0M432.8 135.2h0M434.8 138.9h0M426.2 142.3h0M437.6 125.2h0M432.8 127.4h0M435.9 137.1h0M424.9 140.4h0M436.3 135.2h0M438.1 137.2h0M436.1 93.2h0M437.4 138.4h0M431.4 131.4h0M425.8 132.9h0M437.1 130.8h0M435.7 142.7h0M437.6 119.3h0M436.0 138.6h0M427.2 120.8h0M435.2 139.7h0M431.1 140.8h0M436.3 122.1h0M436.2 131.0h0M425.4 124.3h0M433.0 141.2h0M434.9 136.6h0M425.8 123.9h0M432.9 122.1h0M434.0 124.9h0M432.1 135.9h0M418.3 140.4h0M436.5 137.6h0M427.4 127.9h0M435.9 126.5h0M430.4 142.1h0M427.3 125.4h0M437.4 92.6h0M429.4 140.5h0M435.7 97.0h0M437.4 142.6h0M431.8 108.4h0M420.1 126.9h0M430.7 143.2h0M435.3 140.5h0M422.1 122.4h0M434.8 143.4h0M421.2 133.9h0M435.0 104.5h0M429.9 127.1h0M436.8 136.3h0M424.0 131.8h0M437.4 142.5h0M430.9 142.7h0M433.1 140.1h0M422.0 138.7h0M434.9 141.8h0M437.2 132.0h0M425.5 130.3h0M430.4 86.6h0M436.5 139.8h0M436.4 128.8h0M435.9 141.9h0M432.3 134.2h0M436.4 143.4h0M427.2 120.5h0M435.5 132.6h0M431.5 112.6h0M438.2 132.1h0M437.0 133.9h0M430.5 136.9h0M436.4 140.2h0M419.4 140.1h0M432.6 138.8h0M429.9 118.7h0M422.9 137.9h0M437.2 135.1h0M425.1 139.2h0M436.5 125.6h0M430.0 138.9h0M432.5 117.7h0M424.8 131.2h0M437.4 139.5h0M427.6 124.0h0M430.1 135.4h0M436.3 139.9h0M433.2 134.5h0M431.8 134.8h0M427.8 138.7h0M436.0 111.3h0M437.7 141.6h0M431.2 139.3h0M431.0 124.5h0M431.6 130.7h0M437.1 116.0h0M427.5 141.6h0M438.2 131.3h0M426.4 131.5h0M433.8 126.4h0M438.0 134.3h0M423.7 141.8h0M437.3 142.9h0M431.3 132.0h0M434.4 141.0h0M433.4 142.0h0M436.2 134.1h0M427.6 141.6h0M420.8 122.3h0M431.9 129.1h0M425.1 143.4h0M425.5 126.6h0M417.2 135.3h0M431.4 130.6h0M434.6 108.9h0M431.2 140.6h0M437.3 143.5h0M433.2 136.4h0M427.3 139.6h0M433.8 139.8h0M430.7 140.3h0M437.9 123.7h0M430.2 140.3h0M437.8 107.3h0M434.7 134.0h0M435.7 133.0h0M435.5 119.6h0M432.0 136.6h0M437.1 96.5h0M426.1 133.3h0M434.7 136.3h0M421.5 124.3h0M436.4 124.5h0M424.4 137.4h0M425.1 124.0h0M436.1 106.6h0M427.0 95.8h0M425.9 137.3h0M431.5 138.5h0M430.9 141.1h0M438.1 137.9h0M432.1 130.7h0M435.0 139.9h0M436.2 104.0h0M434.6 138.6h0M435.9 134.1h0M423.0 139.1h0M433.9 136.7h0M436.0 130.7h0M426.4 141.7h0M437.7 143.8h0M426.4 141.9h0M423.0 138.2h0M427.7 117.7h0M437.4 127.0h0M430.0 133.6h0M425.9 137.5h0M428.4 124.3h0M433.4 137.2h0M430.4 131.4h0M435.5 121.2h0M437.4 128.0h0M432.5 118.9h0M429.1 141.9h0M424.6 131.6h0M436.5 141.2h0M423.3 142.0h0M428.7 142.8h0M437.4 137.4h0M430.6 131.7h0M429.8 132.9h0M438.0 140.4h0M437.5 139.5h0M428.3 116.3h0M435.8 140.0h0M437.5 129.2h0M432.7 127.6h0M426.9 141.2h0M435.7 139.5h0M435.3 127.5h0M436.5 139.9h0M435.3 142.6h0M430.9 141.8h0M437.1 138.4h0M430.3 143.4h0M424.2 137.2h0M435.6 134.9h0M436.6 139.3h0M434.3 139.5h0M423.0 139.4h0M420.0 126.4h0M435.0 124.6h0M427.6 141.6h0M436.6 135.8h0M430.7 127.7h0M428.2 123.9h0M429.6 135.4h0M437.2 140.7h0M428.3 142.9h0M417.0 133.4h0M434.1 113.8h0M436.3 128.7h0M435.0 135.9h0M430.6 127.5h0M436.3 143.8h0M429.0 136.2h0M424.8 115.9h0M423.2 114.7h0M428.7 140.8h0M432.4 120.9h0M436.3 134.8h0M437.5 133.2h0M437.7 110.6h0M433.8 141.9h0M432.5 142.3h0M434.0 133.9h0M425.9 135.6h0M430.9 113.5h0M434.6 129.4h0M437.7 132.9h0M436.9 98.6h0M431.3 130.7h0M435.9 143.6h0M426.7 139.4h0M433.4 106.2h0M429.5 129.4h0M431.3 119.2h0M422.1 127.3h0M433.4 127.8h0M436.0 135.2h0M437.2 85.4h0M428.1 127.8h0M433.2 138.1h0M435.1 112.0h0M428.8 121.4h0M425.4 134.4h0M418.4 141.7h0M427.0 141.2h0M438.0 142.5h0M436.8 143.2h0M426.4 142.0h0M438.2 143.4h0M437.1 107.9h0M438.0 143.9h0M425.4 131.9h0M435.9 128.0h0M436.9 142.0h0M419.6 140.0h0M424.1 132.7h0M438.0 122.6h0M435.7 143.8h0M437.8 126.4h0M433.9 141.9h0M427.6 139.3h0M417.4 139.9h0M436.6 140.9h0M431.5 121.4h0M424.9 132.0h0M418.3 140.5h0M434.0 131.4h0M425.2 130.7h0M437.2 121.1h0M433.2 100.5h0M438.2 140.0h0M431.6 135.6h0M435.3 121.3h0M437.8 130.8h0M436.7 132.2h0M433.0 134.4h0M420.7 135.3h0M435.1 143.0h0M424.9 123.4h0M425.2 137.3h0M424.9 130.7h0M435.3 143.5h0M433.6 130.3h0M436.5 133.8h0M424.6 118.0h0M424.4 136.5h0M435.6 82.5h0M434.0 121.2h0M426.6 135.9h0M424.9 130.6h0M433.1 141.6h0M435.9 94.7h0M435.3 136.6h0M437.8 134.5h0M437.2 139.1h0M427.9 142.1h0M423.4 135.1h0M435.6 140.6h0M422.2 125.1h0M425.5 129.0h0M437.0 127.3h0M437.0 132.3h0M438.2 122.9h0M437.3 142.7h0M428.6 106.9h0M420.8 142.6h0M418.7 124.0h0M436.2 143.4h0M438.1 132.3h0M431.5 129.8h0M432.3 110.4h0M431.0 135.2h0M426.0 143.3h0M423.3 142.7h0M421.9 124.7h0M430.9 134.4h0M429.6 143.5h0M428.7 141.9h0M436.0 139.1h0M436.1 126.9h0M436.1 141.1h0M436.3 116.8h0M430.6 128.2h0M429.2 103.8h0M437.2 136.0h0M431.0 133.6h0M433.7 126.4h0M433.1 142.4h0M437.3 131.8h0M429.8 136.1h0M430.5 137.8h0M437.5 139.1h0M432.0 125.2h0M433.8 137.2h0M422.2 133.8h0M433.8 128.8h0M427.7 134.6h0M433.7 135.6h0M430.9 123.4h0M425.4 125.2h0M430.4 130.6h0M431.2 134.4h0M420.4 140.4h0M425.0 128.2h0M434.7 107.2h0M428.0 131.2h0M436.1 132.2h0M436.3 133.7h0M429.8 141.4h0M423.1 135.2h0M434.4 101.9h0M427.4 142.4h0M431.3 142.8h0M427.6 131.3h0M425.5 120.7h0M426.8 129.8h0M433.5 126.7h0M428.1 118.1h0M434.4 110.9h0M432.8 132.4h0M431.7 124.1h0M435.0 101.4h0M436.5 129.1h0M435.2 112.7h0M433.9 132.3h0M433.0 136.5h0M436.3 135.8h0M420.7 134.9h0M433.9 134.3h0M436.3 138.6h0M426.2 111.1h0M419.8 127.0h0M437.4 143.6h0M432.9 143.4h0M436.8 142.6h0M429.9 142.8h0M432.8 106.9h0M428.6 131.4h0M432.6 135.6h0M428.2 140.9h0M432.6 140.2h0M435.8 99.2h0M424.3 143.3h0M437.7 124.4h0M425.6 134.0h0M431.5 118.3h0M428.7 135.9h0M434.5 140.2h0M437.7 136.0h0M436.3 122.0h0M428.7 142.9h0M425.7 115.8h0M437.0 143.9h0M416.5 143.4h0M423.5 138.0h0M435.1 135.9h0M438.1 140.5h0M427.4 132.7h0M434.5 141.1h0M436.0 140.6h0M436.2 104.7h0M437.8 137.5h0M433.1 135.7h0M417.7 137.3h0M422.9 123.8h0M423.6 142.1h0M434.4 137.0h0M418.7 141.1h0M437.1 141.7h0M437.8 141.3h0M436.7 134.3h0M431.8 111.0h0M435.4 133.1h0M426.9 139.5h0M438.2 130.1h0M437.2 136.3h0M437.7 128.0h0M419.9 123.7h0M422.5 141.9h0M423.6 142.3h0M435.8 138.1h0M431.4 113.8h0M435.5 107.4h0M432.8 136.4h0M433.3 137.4h0M438.1 87.2h0M422.8 128.1h0M431.3 121.7h0M423.1 136.8h0M435.0 139.5h0M434.3 137.3h0M436.5 106.8h0M420.1 135.0h0M432.4 136.6h0M430.7 115.3h0M437.6 134.2h0M424.5 120.6h0M430.4 132.5h0M437.7 141.3h0M435.2 110.9h0M425.4 137.7h0M429.2 138.8h0M435.0 121.8h0M430.4 139.5h0M427.7 140.2h0M431.0 106.9h0M436.3 141.3h0M434.3 135.8h0M436.8 119.0h0M434.5 137.3h0M433.9 128.9h0M437.2 137.4h0M434.4 133.0h0M427.5 103.8h0M431.2 143.7h0M435.1 143.9h0M434.7 137.1h0M428.7 136.9h0M433.9 141.8h0M434.4 110.9h0M425.3 135.6h0M438.0 142.5h0M435.0 121.7h0M433.8 117.3h0M424.4 135.0h0M431.3 142.1h0M422.6 130.2h0M434.5 142.8h0M427.8 124.8h0M435.2 122.3h0M429.5 129.1h0M436.1 136.4h0M436.1 136.6h0M430.9 128.6h0M429.8 135.0h0M430.6 114.4h0M426.2 117.9h0M435.9 123.3h0M425.9 141.6h0M438.2 142.0h0M437.9 142.1h0M432.3 123.3h0M435.2 141.7h0M431.0 141.2h0M431.7 143.6h0M437.0 117.9h0M428.1 141.9h0M437.7 132.7h0M429.1 133.5h0M437.5 112.8h0M427.9 139.8h0M426.5 134.1h0M437.8 136.8h0M427.3 141.9h0M437.2 121.8h0M434.2 141.5h0M423.0 143.1h0M430.5 124.0h0M429.2 142.6h0M437.0 143.7h0M430.2 136.9h0M431.2 142.0h0M418.6 124.5h0M428.2 127.0h0M429.8 126.4h0M437.9 101.6h0M435.8 141.6h0M435.9 135.4h0M436.4 126.1h0M437.6 101.6h0M436.6 132.4h0M436.5 139.9h0M436.6 139.0h0M437.7 120.5h0M435.9 129.2h0M431.5 136.2h0M424.8 139.4h0M430.7 128.1h0M424.5 139.1h0M433.1 122.7h0M436.2 134.0h0M437.8 141.0h0M432.5 142.1h0M423.8 126.8h0M433.6 132.9h0M430.4 135.6h0M437.7 143.6h0M427.5 103.9h0M430.6 131.1h0M434.3 134.5h0M437.9 138.3h0M433.0 133.5h0M436.2 131.0h0M437.7 134.6h0M426.4 134.2h0M428.1 122.4h0M437.8 109.0h0M430.8 141.7h0M423.9 101.2h0M432.7 141.0h0M427.6 115.8h0M418.8 139.2h0M423.4 130.3h0M436.8 136.7h0M430.6 143.9h0M436.2 132.2h0M433.3 123.7h0M437.9 108.8h0M425.1 141.7h0M422.2 143.6h0M435.5 137.2h0M428.4 32.6h0M437.0 45.8h0M431.2 87.9h0M425.5 80.4h0M432.5 50.5h0M428.8 84.8h0M433.4 60.0h0M429.4 61.1h0M431.2 77.4h0M428.4 48.7h0M427.0 67.9h0M437.4 32.7h0M433.9 47.7h0M427.5 62.6h0M432.3 38.0h0M432.4 86.4h0M436.3 62.2h0M425.8 51.8h0M433.4 28.8h0M428.4 67.2h0M433.5 54.0h0M428.2 30.8h0M432.3 26.5h0M425.8 69.9h0M426.6 27.6h0M437.4 65.6h0M437.3 41.7h0M436.5 37.3h0M424.8 77.6h0M431.3 61.9h0M420.3 114.6h0M413.3 126.1h0M412.0 117.3h0M411.1 131.6h0M420.7 135.3h0M409.5 127.1h0M417.2 118.3h0M411.5 134.2h0M412.0 114.7h0M418.8 128.9h0M420.4 135.2h0M414.6 120.6h0M413.0 114.6h0M408.3 137.7h0M377.9 138.7h0M381.3 135.9h0M383.4 137.3h0M388.9 140.1h0M391.6 138.7h0M400.5 138.7h0M403.3 123.3h0M407.4 92.3h0M415.7 22.1h0M422.5 22.1h0M423.9 22.1h0M425.3 22.1h0M426.7 22.1h0M428.0 22.1h0M429.4 22.1h0M430.1 22.1h0" stroke="#2E22D8" stroke-width="1.9" stroke-linecap="round" fill="none"/>
<path d="M453.2 123.7h0M452.8 142.3h0M454.6 104.6h0M454.5 135.3h0M458.3 112.2h0M454.7 135.3h0M462.3 141.5h0M457.2 136.7h0M453.9 133.3h0M458.1 124.7h0M461.0 141.8h0M452.3 143.5h0M463.7 137.5h0M468.0 125.6h0M465.8 132.1h0M453.9 119.9h0M471.5 131.6h0M453.5 129.4h0M458.3 127.3h0M463.3 117.9h0M453.7 131.1h0M462.3 143.9h0M453.7 121.5h0M453.1 122.7h0M455.4 92.1h0M455.5 105.2h0M457.5 122.2h0M456.1 125.9h0M465.0 131.8h0M465.9 120.7h0M453.7 122.8h0M457.0 118.8h0M456.2 142.3h0M459.8 118.3h0M455.1 92.9h0M454.0 106.4h0M455.9 80.8h0M458.7 143.2h0M458.1 143.5h0M460.4 123.3h0M453.9 141.0h0M453.0 138.6h0M455.3 77.7h0M460.6 108.0h0M462.8 140.8h0M470.3 137.6h0M466.1 140.2h0M453.5 141.6h0M462.7 140.6h0M471.4 135.0h0M454.4 103.9h0M458.3 125.9h0M472.5 138.7h0M454.4 136.1h0M458.3 141.7h0M456.3 128.4h0M468.0 137.4h0M453.8 141.2h0M454.0 124.4h0M454.2 116.5h0M464.9 118.9h0M456.5 136.1h0M455.9 138.0h0M453.9 132.1h0M461.9 125.7h0M453.3 143.5h0M463.4 119.2h0M456.7 140.2h0M466.3 135.8h0M452.9 132.3h0M453.1 141.8h0M459.1 132.4h0M452.9 95.9h0M455.3 88.2h0M452.7 140.6h0M455.8 105.0h0M473.1 132.5h0M456.3 136.8h0M463.9 99.8h0M467.8 118.4h0M453.9 138.2h0M455.0 124.5h0M454.5 113.3h0M454.6 133.9h0M455.4 127.8h0M455.0 127.1h0M462.1 140.8h0M464.6 133.2h0M468.0 143.2h0M452.4 100.1h0M452.3 126.1h0M456.7 136.2h0M452.8 141.5h0M461.8 110.7h0M454.3 130.3h0M454.1 140.9h0M455.6 128.9h0M471.3 137.1h0M465.3 116.1h0M456.1 137.5h0M456.7 141.2h0M452.8 131.4h0M460.1 140.9h0M455.8 115.9h0M459.5 138.6h0M452.6 129.8h0M465.7 104.7h0M458.4 143.1h0M457.8 134.3h0M455.0 136.5h0M467.2 142.9h0M465.8 80.3h0M454.1 143.7h0M452.8 121.4h0M463.9 132.2h0M454.1 140.3h0M453.6 143.6h0M457.1 115.9h0M453.5 102.0h0M461.4 139.6h0M453.3 135.5h0M454.8 119.4h0M455.5 139.8h0M454.8 126.9h0M461.9 138.4h0M455.1 119.6h0M467.6 141.6h0M462.3 100.0h0M469.0 94.2h0M466.5 134.3h0M462.3 128.1h0M453.8 133.4h0M458.8 132.6h0M462.6 119.6h0M453.7 89.0h0M453.1 93.4h0M458.4 130.3h0M459.1 130.2h0M465.8 133.8h0M455.2 117.4h0M453.9 131.9h0M455.9 141.8h0M456.3 94.2h0M456.6 90.3h0M456.1 141.5h0M461.1 134.4h0M455.2 107.4h0M473.2 112.8h0M463.1 134.0h0M453.0 144.0h0M470.2 139.3h0M453.8 142.6h0M458.1 88.0h0M459.2 125.5h0M452.4 90.1h0M455.7 133.9h0M461.9 131.3h0M474.5 144.0h0M466.7 139.3h0M457.8 121.7h0M458.1 144.0h0M456.9 125.5h0M459.3 139.5h0M463.1 111.8h0M458.1 133.1h0M466.7 142.3h0M452.5 130.5h0M468.7 132.0h0M454.0 142.7h0M457.3 138.8h0M460.9 127.1h0M453.2 110.1h0M474.7 120.7h0M458.9 86.5h0M456.4 113.1h0M467.0 125.9h0M471.1 138.4h0M455.2 99.7h0M466.0 107.3h0M462.6 138.8h0M453.2 138.0h0M463.1 131.1h0M452.3 110.9h0M460.6 124.8h0M459.9 139.9h0M455.1 136.6h0M455.3 139.4h0M454.2 143.8h0M455.9 143.2h0M470.0 131.5h0M460.7 129.0h0M458.2 130.1h0M452.5 131.3h0M463.3 127.1h0M455.3 129.7h0M468.3 133.6h0M455.0 132.2h0M454.8 119.3h0M465.6 115.6h0M453.5 125.2h0M454.3 134.4h0M456.8 125.4h0M453.6 137.5h0M456.1 141.2h0M452.6 143.6h0M456.3 113.7h0M453.3 121.4h0M465.3 138.8h0M453.4 105.3h0M462.3 75.6h0M458.7 107.3h0M454.2 119.3h0M460.2 135.1h0M463.7 138.6h0M454.8 143.8h0M455.8 97.0h0M464.5 116.1h0M453.6 103.1h0M454.9 142.1h0M470.1 139.1h0M453.0 142.7h0M466.2 125.2h0M454.3 143.0h0M458.0 138.2h0M454.6 120.7h0M452.3 134.9h0M457.4 99.0h0M457.2 134.5h0M457.2 111.0h0M452.7 123.5h0M452.8 106.8h0M452.8 88.2h0M456.3 124.5h0M454.4 112.2h0M474.0 128.7h0M458.7 127.2h0M473.5 115.3h0M453.2 139.0h0M453.1 128.6h0M460.3 129.6h0M454.8 133.0h0M458.5 86.7h0M457.8 137.7h0M466.1 101.6h0M452.6 120.9h0M462.3 106.2h0M454.6 137.0h0M454.7 137.5h0M457.9 123.7h0M454.6 120.9h0M459.1 129.3h0M455.1 138.7h0M466.9 128.9h0M452.5 105.4h0M452.6 113.9h0M453.6 142.6h0M455.2 119.5h0M453.5 138.8h0M461.8 120.8h0M459.1 138.8h0M460.3 132.2h0M461.6 137.2h0M455.4 115.3h0M470.4 123.2h0M452.3 125.3h0M456.5 139.8h0M454.5 131.9h0M453.9 130.8h0M454.3 94.9h0M455.1 104.4h0M457.0 132.9h0M454.2 137.4h0M456.2 116.7h0M454.7 136.6h0M467.6 143.7h0M460.7 128.6h0M453.9 136.8h0M456.4 119.3h0M458.6 120.2h0M456.8 143.2h0M456.7 136.1h0M457.1 132.7h0M454.7 120.5h0M461.6 136.3h0M459.2 140.5h0M455.7 84.8h0M468.1 128.2h0M461.6 120.0h0M472.3 112.0h0M462.1 137.7h0M475.7 135.9h0M468.2 121.8h0M455.9 142.6h0M452.9 137.1h0M458.6 139.5h0M455.7 123.9h0M456.9 123.5h0M459.1 123.2h0M455.1 112.4h0M459.8 124.9h0M453.0 124.7h0M459.5 140.1h0M455.2 139.7h0M455.6 125.5h0M453.1 102.6h0M456.1 143.6h0M455.8 125.1h0M455.7 132.0h0M462.2 100.3h0M454.9 123.7h0M456.7 81.5h0M457.9 110.3h0M454.0 105.5h0M463.9 79.5h0M452.4 142.7h0M455.3 133.7h0M456.0 120.1h0M463.4 100.1h0M466.3 87.2h0M466.0 135.5h0M458.3 138.7h0M454.7 139.7h0M454.2 133.6h0M459.0 140.5h0M456.1 142.4h0M459.4 99.5h0M452.4 139.8h0M466.8 134.1h0M455.2 139.6h0M453.3 136.6h0M474.9 126.9h0M459.4 102.8h0M460.7 71.2h0M456.1 144.0h0M454.6 87.3h0M469.8 117.3h0M457.3 92.7h0M463.8 107.1h0M473.4 108.1h0M452.5 131.8h0M457.6 141.0h0M472.6 138.3h0M453.1 109.9h0M463.0 119.1h0M457.8 137.0h0M454.8 129.5h0M452.8 137.4h0M456.7 137.6h0M455.0 103.1h0M457.8 124.5h0M453.8 111.5h0M452.8 124.4h0M453.7 139.6h0M465.7 132.9h0M457.0 139.7h0M459.6 134.4h0M452.5 99.9h0M459.2 128.5h0M454.6 103.3h0M458.4 140.9h0M460.1 141.1h0M454.7 92.1h0M458.0 80.9h0M465.6 124.4h0M455.6 137.0h0M457.9 132.5h0M463.1 118.1h0M463.7 112.1h0M455.3 142.0h0M459.9 72.1h0M459.2 139.5h0M453.6 134.9h0M462.0 86.3h0M454.6 113.4h0M460.7 138.9h0M453.9 123.2h0M461.5 134.9h0M454.4 122.3h0M456.4 103.5h0M465.5 139.5h0M452.9 138.8h0M452.2 136.2h0M462.3 131.6h0M461.9 129.5h0M458.3 143.0h0M474.3 126.5h0M453.0 140.5h0M454.6 127.1h0M469.0 107.4h0M454.0 135.7h0M453.9 123.0h0M469.4 139.2h0M460.8 138.1h0M471.4 141.2h0M463.5 123.0h0M456.0 130.2h0M452.9 126.2h0M454.5 137.9h0M463.9 141.5h0M464.2 111.9h0M452.2 120.2h0M454.1 143.1h0M455.7 103.6h0M459.1 111.8h0M452.5 137.2h0M462.6 139.7h0M466.1 125.1h0M462.1 133.9h0M456.5 137.2h0M452.3 98.5h0M452.3 126.4h0M453.9 142.2h0M454.7 105.2h0M457.9 143.3h0M458.9 130.5h0M458.2 139.2h0M453.7 122.9h0M463.5 136.5h0M458.3 143.2h0M452.8 134.3h0M455.7 94.1h0M453.5 101.2h0M453.1 124.6h0M459.8 94.1h0M475.4 142.4h0M453.2 140.2h0M460.3 120.9h0M455.0 126.0h0M462.3 111.4h0M454.7 123.1h0M454.5 140.4h0M453.6 119.5h0M467.4 121.0h0M453.2 115.7h0M471.5 138.5h0M470.7 140.2h0M455.4 138.9h0M452.4 138.1h0M458.0 141.0h0M476.2 137.5h0M463.9 143.6h0M455.7 136.3h0M462.5 100.8h0M452.6 118.6h0M460.4 91.1h0M463.1 140.1h0M453.4 132.3h0M457.4 110.8h0M458.6 92.9h0M458.4 120.1h0M456.0 112.1h0M455.3 135.0h0M452.4 143.9h0M454.2 119.7h0M456.9 139.9h0M456.6 127.6h0M453.2 135.5h0M461.0 128.3h0M457.0 113.6h0M469.7 108.3h0M461.4 142.1h0M466.5 137.2h0M459.3 122.8h0M461.8 101.4h0M453.3 133.9h0M465.9 127.8h0M454.3 135.7h0M457.6 137.4h0M456.5 80.1h0M455.2 139.1h0M455.7 122.1h0M471.2 130.6h0M456.4 100.4h0M456.5 136.2h0M457.3 130.4h0M458.9 137.5h0M453.8 131.2h0M456.3 127.1h0M453.9 87.6h0M457.1 117.4h0M452.6 113.8h0M455.6 138.2h0M455.7 141.2h0M461.4 139.7h0M453.3 138.0h0M452.3 135.0h0M473.9 137.4h0M456.6 114.8h0M459.2 131.6h0M457.3 143.6h0M458.8 143.8h0M457.6 94.9h0M457.8 84.4h0M459.0 126.6h0M455.7 135.9h0M458.4 119.7h0M455.6 140.5h0M457.9 128.3h0M455.9 129.5h0M453.4 135.6h0M453.8 128.5h0M465.3 91.2h0M457.0 92.2h0M455.8 124.3h0M458.3 140.9h0M453.2 114.9h0M465.4 141.0h0M455.8 127.5h0M472.1 120.2h0M452.2 123.3h0M473.1 126.2h0M452.9 118.2h0M453.6 126.7h0M461.2 134.8h0M452.5 140.5h0M458.6 133.4h0M454.1 136.1h0M459.7 140.9h0M452.2 96.5h0M461.2 120.2h0M461.7 98.4h0M463.2 135.6h0M456.7 116.7h0M458.8 137.0h0M462.1 138.9h0M462.1 133.7h0M455.1 118.7h0M457.3 135.1h0M462.5 111.1h0M455.2 135.4h0M477.2 141.2h0M453.9 112.2h0M456.7 99.4h0M457.6 140.1h0M456.5 121.7h0M453.1 142.6h0M454.1 137.5h0M461.6 120.8h0M457.1 128.3h0M463.8 133.9h0M452.7 141.2h0M454.9 139.2h0M454.0 125.7h0M454.4 107.5h0M466.9 100.2h0M455.9 80.0h0M455.5 137.7h0M458.6 120.9h0M452.8 110.5h0M452.3 118.3h0M457.1 137.1h0M471.8 128.6h0M475.4 135.7h0M461.4 127.6h0M459.3 142.2h0M456.9 101.4h0M452.9 115.9h0M456.4 108.0h0M457.4 142.4h0M453.8 136.7h0M453.7 111.0h0M452.9 120.5h0M453.3 105.0h0M452.7 127.9h0M456.5 135.9h0M454.7 129.8h0M461.2 116.4h0M455.6 121.5h0M454.4 121.9h0M452.9 134.7h0M453.0 130.2h0M454.1 143.4h0M453.0 105.0h0M453.2 131.7h0M454.5 116.9h0M464.5 113.5h0M462.9 115.8h0M454.4 104.2h0M457.7 124.0h0M452.9 109.0h0M462.5 142.6h0M452.9 128.5h0M469.1 87.0h0M457.6 114.3h0M459.5 114.2h0M457.3 88.7h0M457.2 82.7h0M464.1 106.2h0M464.2 138.4h0M454.8 140.9h0M454.1 129.3h0M453.5 137.2h0M459.2 97.1h0M456.7 140.0h0M463.3 109.8h0M458.3 140.4h0M461.1 142.5h0M453.7 134.2h0M458.7 143.5h0M470.4 134.4h0M454.5 135.9h0M457.5 132.4h0M461.1 131.6h0M459.2 115.9h0M461.4 143.8h0M457.4 135.4h0M460.3 107.3h0M454.6 126.0h0M456.1 142.8h0M458.5 127.0h0M456.6 137.1h0M454.1 125.3h0M456.4 117.9h0M459.2 142.1h0M453.0 106.1h0M455.1 122.3h0M459.0 132.6h0M467.3 114.9h0M459.4 118.4h0M465.9 118.2h0M454.5 120.7h0M473.4 143.8h0M452.7 120.6h0M460.8 139.4h0M456.5 142.6h0M458.8 120.5h0M452.5 141.6h0M454.3 113.0h0M459.5 118.4h0M457.8 138.5h0M460.4 118.0h0M454.9 140.5h0M459.4 105.4h0M457.4 135.9h0M466.1 102.4h0M458.6 140.8h0M455.0 142.7h0M459.6 129.3h0M457.4 131.9h0M455.9 113.8h0M453.9 135.6h0M458.5 132.1h0M456.4 129.2h0M453.2 120.8h0M454.6 132.8h0M456.4 135.6h0M467.6 86.5h0M453.2 140.0h0M455.4 95.6h0M473.8 139.2h0M458.2 138.0h0M461.0 111.0h0M455.5 141.9h0M462.6 142.8h0M454.5 113.2h0M456.5 133.9h0M453.3 119.8h0M452.5 134.1h0M459.1 119.2h0M457.8 134.5h0M456.9 125.8h0M459.2 116.8h0M453.4 138.2h0M456.0 140.0h0M464.7 126.7h0M457.3 137.8h0M466.9 111.7h0M454.6 120.5h0M454.2 138.8h0M460.0 141.4h0M455.4 143.9h0M455.9 121.3h0M455.2 105.8h0M460.4 126.7h0M452.3 102.0h0M464.7 142.5h0M471.9 139.6h0M453.0 142.5h0M453.9 131.9h0M454.1 142.3h0M459.0 126.9h0M458.4 118.6h0M465.6 86.1h0M457.5 141.5h0M455.5 124.1h0M454.1 135.2h0M462.7 142.7h0M453.5 106.8h0M453.7 123.3h0M454.5 135.3h0M459.4 137.9h0M463.8 82.2h0M473.8 134.7h0M453.4 138.9h0M461.6 142.7h0M452.3 141.3h0M453.0 130.8h0M453.8 141.8h0M455.6 105.8h0M463.2 139.2h0M459.3 137.1h0M459.0 142.2h0M475.5 135.3h0M454.2 135.5h0M456.2 136.9h0M476.7 137.8h0M453.3 98.3h0M455.7 119.7h0M452.7 126.1h0M460.0 105.6h0M452.9 75.4h0M452.4 123.8h0M457.9 141.8h0M467.1 133.7h0M464.2 124.5h0M457.1 142.8h0M455.6 133.2h0M456.5 107.0h0M466.3 132.1h0M458.2 94.6h0M454.4 141.9h0M453.3 122.4h0M452.5 101.5h0M455.1 143.0h0M456.1 135.3h0M459.0 143.8h0M452.5 106.1h0M452.3 116.8h0M456.5 128.2h0M472.8 138.7h0M452.9 130.2h0M472.8 114.4h0M461.3 130.8h0M462.6 101.3h0M454.6 136.5h0M453.4 135.5h0M455.1 112.3h0M456.9 142.2h0M458.2 136.7h0M456.0 143.1h0M453.4 131.3h0M452.3 142.2h0M462.2 130.4h0M456.5 124.0h0M461.1 134.2h0M462.7 94.4h0M456.0 103.9h0M457.3 134.1h0M456.0 137.4h0M459.0 103.2h0M459.9 120.6h0M465.7 120.8h0M456.7 131.8h0M454.4 102.6h0M462.4 141.4h0M452.4 142.2h0M462.7 142.1h0M471.9 127.3h0M455.1 125.6h0M468.8 130.5h0M460.8 124.8h0M452.3 122.4h0M452.7 116.6h0M461.9 120.1h0M461.2 127.8h0M460.2 140.7h0M453.2 121.4h0M462.4 84.4h0M455.4 133.7h0M454.6 139.9h0M466.8 110.6h0M455.3 134.6h0M453.5 132.9h0M457.1 96.5h0M462.6 136.3h0M454.8 81.6h0M461.6 107.2h0M455.0 139.2h0M466.1 142.9h0M471.8 133.9h0M463.3 136.1h0M458.1 114.5h0M453.4 115.9h0M459.5 107.8h0M456.7 132.7h0M453.3 136.3h0M453.0 134.7h0M452.8 98.4h0M460.6 120.3h0M460.3 137.4h0M455.6 106.5h0M466.1 120.6h0M457.1 143.9h0M459.7 82.1h0M455.4 143.1h0M472.2 108.1h0M453.0 117.7h0M464.8 138.3h0M463.6 141.3h0M455.5 142.1h0M456.6 130.0h0M458.9 94.2h0M460.8 139.2h0M457.8 127.4h0M453.3 107.6h0M462.6 143.3h0M471.4 123.7h0M467.5 85.4h0M456.9 135.5h0M455.1 131.6h0M471.2 132.1h0M457.3 127.0h0M462.7 80.8h0M452.7 142.8h0M452.3 131.1h0M456.4 137.3h0M459.1 137.4h0M452.7 141.6h0M456.6 109.1h0M460.0 133.5h0M458.5 104.8h0M453.4 98.2h0M464.3 136.5h0M452.2 118.9h0M456.6 132.5h0M464.4 139.5h0M455.5 127.2h0M463.4 128.8h0M452.7 126.0h0M474.1 139.8h0M461.6 101.2h0M454.3 132.8h0M463.8 123.5h0M459.8 133.4h0M452.3 129.0h0M454.4 107.2h0M453.4 127.7h0M465.5 141.5h0M457.4 134.3h0M458.4 102.9h0M452.8 106.3h0M469.2 137.7h0M458.0 123.3h0M453.1 107.7h0M455.8 124.9h0M453.5 141.3h0M454.3 102.8h0M455.3 93.2h0M454.9 142.4h0M459.2 138.5h0M462.1 140.6h0M455.1 142.2h0M452.4 107.1h0M466.2 139.9h0M455.2 138.7h0M459.9 138.0h0M456.8 141.6h0M452.6 134.6h0M456.4 116.1h0M454.1 126.6h0M462.5 106.9h0M461.7 140.8h0M453.0 107.6h0M457.6 118.1h0M456.6 139.9h0M455.3 126.5h0M456.6 122.5h0M463.5 131.3h0M474.5 137.1h0M453.9 141.5h0M460.3 120.2h0M455.2 137.5h0M471.1 135.5h0M461.8 117.7h0M460.7 105.2h0M455.4 129.1h0M456.0 143.9h0M459.0 99.4h0M456.0 89.9h0M453.6 139.7h0M453.4 130.0h0M459.2 97.9h0M454.6 114.6h0M454.4 105.1h0M454.0 127.3h0M452.9 94.0h0M453.8 135.1h0M461.9 84.5h0M462.6 131.8h0M452.2 133.2h0M460.8 142.5h0M459.8 142.4h0M452.9 140.3h0M455.2 127.3h0M472.0 118.6h0M465.5 144.0h0M458.1 141.9h0M452.5 132.7h0M473.7 142.2h0M461.5 136.9h0M460.0 83.9h0M468.3 140.2h0M460.2 120.5h0M454.5 136.8h0M469.4 134.8h0M453.6 126.1h0M453.3 141.1h0M456.0 140.5h0M457.4 139.3h0M465.2 125.8h0M455.7 132.2h0M455.2 138.7h0M458.9 114.3h0M455.5 120.0h0M455.8 143.5h0M456.1 112.4h0M474.5 133.6h0M453.2 136.4h0M469.4 118.3h0M455.8 124.2h0M471.0 141.9h0M453.9 133.2h0M456.4 139.8h0M453.1 83.7h0M461.7 123.4h0M452.4 138.4h0M454.9 87.4h0M454.4 136.3h0M452.7 119.8h0M455.8 140.4h0M454.6 93.2h0M460.2 132.2h0M462.0 109.4h0M466.3 133.7h0M464.5 110.7h0M453.9 124.4h0M457.7 120.5h0M458.5 139.1h0M453.2 141.6h0M455.6 138.3h0M462.2 106.4h0M456.0 141.0h0M459.3 136.8h0M472.0 140.4h0M452.8 142.9h0M454.1 134.2h0M453.6 135.2h0M459.1 123.2h0M453.4 142.0h0M454.7 131.7h0M485.8 54.6h0M475.0 43.2h0M459.9 46.9h0M466.7 42.7h0M481.4 55.1h0M462.1 63.8h0M482.6 37.6h0M456.2 55.4h0M488.4 63.8h0M477.3 38.4h0M479.9 69.3h0M481.0 70.7h0M483.8 46.2h0M479.4 61.7h0M480.5 57.8h0M472.2 73.0h0M489.8 66.1h0M475.8 59.7h0M458.7 38.9h0M456.3 56.5h0M483.0 60.3h0M477.8 72.2h0M476.5 45.2h0M471.0 38.6h0M483.5 43.6h0M464.8 28.9h0M483.3 32.1h0M480.9 38.2h0M482.5 88.1h0M490.4 142.8h0M478.4 135.5h0M477.2 134.2h0M487.9 135.2h0M490.6 136.0h0M478.4 120.1h0M494.5 111.1h0M482.7 95.0h0M483.2 114.8h0M496.8 98.9h0M494.5 97.2h0M500.8 114.2h0M505.8 91.1h0M502.3 132.6h0M477.4 89.1h0M511.1 120.0h0M511.0 87.4h0M486.5 102.6h0M495.2 142.2h0M479.5 100.1h0M497.1 120.3h0M479.6 136.7h0M481.3 104.2h0M499.1 129.2h0M492.1 99.9h0M494.9 125.9h0M496.7 102.4h0M500.9 133.8h0M511.2 123.9h0M507.0 102.6h0M492.1 130.5h0M509.2 103.9h0M483.7 108.2h0M481.0 93.9h0M505.4 103.5h0M505.6 90.1h0M491.1 119.8h0M455.5 22.1h0M461.0 22.1h0M465.1 22.1h0M465.8 22.1h0M467.2 22.1h0M468.6 22.1h0M469.9 22.1h0M471.3 22.1h0M472.7 22.1h0M474.7 22.1h0M485.0 22.1h0M493.3 22.1h0M512.5 89.5h0M512.5 99.4h0M513.2 114.8h0M511.8 123.3h0M500.2 131.7h0M496.7 112.0h0M503.6 137.3h0M489.9 134.5h0M510.5 140.1h0M493.3 81.1h0M513.9 61.4h0M501.5 99.4h0" stroke="#F42A36" stroke-width="1.9" stroke-linecap="round" fill="none"/>
<path d="M276.9 310.2h0M280.8 310.4h0M254.4 310.4h0M266.2 339.0h0M290.6 329.0h0M278.7 315.0h0M292.9 316.3h0M263.1 338.1h0M246.0 315.5h0M287.2 306.4h0M259.1 314.2h0M292.2 325.0h0M248.0 326.6h0M285.9 315.0h0M271.4 332.2h0M243.2 317.9h0M264.7 324.0h0M284.8 311.1h0M279.4 332.5h0M283.4 337.2h0M281.6 320.8h0M285.2 319.1h0M256.2 283.1h0M249.0 339.7h0M245.0 317.4h0M255.5 304.7h0M277.3 300.7h0M291.7 310.0h0M249.6 317.2h0M271.7 338.8h0M245.2 313.6h0M249.8 322.3h0M280.3 286.8h0M273.5 327.2h0M285.2 330.7h0M288.9 315.7h0M289.9 320.2h0M257.5 308.8h0M261.6 329.3h0M283.1 322.4h0M256.9 297.8h0M295.4 308.3h0M287.1 312.3h0M260.7 337.3h0M279.3 292.8h0M256.1 338.7h0M285.2 325.5h0M246.7 313.0h0M250.1 324.5h0M282.3 308.7h0M276.9 289.1h0M254.0 272.3h0M278.7 329.7h0M261.2 338.0h0M277.1 336.1h0M278.6 314.5h0M274.7 318.0h0M290.8 323.7h0M250.3 325.4h0M264.5 333.2h0M270.4 338.9h0M248.4 335.3h0M259.0 326.6h0M253.5 331.5h0M289.9 337.5h0M248.2 316.8h0M251.9 330.0h0M258.5 313.7h0M281.2 302.0h0M261.1 334.4h0M271.7 325.5h0M287.2 332.4h0M262.3 324.1h0M260.4 313.1h0M252.4 325.9h0M278.1 282.5h0M259.3 293.9h0M281.5 258.8h0M287.6 305.3h0M262.6 328.4h0M252.8 327.3h0M261.6 326.5h0M266.3 333.9h0M279.4 278.4h0M263.0 319.0h0M258.2 329.9h0M287.2 322.7h0M258.7 296.2h0M275.8 330.0h0M274.8 320.3h0M280.2 293.3h0M258.2 308.4h0M251.7 327.5h0M275.2 336.1h0M279.8 306.4h0M258.6 306.6h0M251.3 319.9h0M292.6 322.6h0M276.3 311.5h0M252.0 312.2h0M242.5 320.5h0M290.8 307.0h0M259.0 311.0h0M292.9 306.0h0M246.7 310.7h0M249.7 333.0h0M253.1 325.3h0M259.6 332.9h0M282.1 328.6h0M250.0 329.0h0M259.8 318.6h0M271.8 338.2h0M249.9 316.4h0M283.6 308.0h0M273.5 330.9h0M275.1 336.9h0M286.6 323.6h0M246.2 329.9h0M270.2 339.4h0M247.9 336.9h0M281.0 323.1h0M254.3 339.6h0M275.1 310.1h0M258.3 320.4h0M248.8 332.0h0M278.3 278.8h0M280.7 300.0h0M255.9 318.4h0M256.5 331.6h0M259.4 295.7h0M240.5 311.4h0M268.8 335.8h0M253.2 319.0h0M279.6 284.7h0M243.8 308.0h0M252.1 318.2h0M283.8 322.5h0M252.9 324.9h0M286.9 336.3h0M249.3 316.1h0M251.3 311.1h0M259.0 306.0h0M284.1 324.5h0M276.7 336.1h0M281.2 336.0h0M290.8 309.7h0M256.4 323.4h0M245.7 318.1h0M251.9 310.8h0M271.7 329.9h0M278.8 279.6h0M250.4 317.1h0M256.1 336.0h0M280.3 306.1h0M281.1 331.7h0M288.3 330.0h0M254.1 270.3h0M241.9 318.7h0M254.3 279.2h0M286.9 322.8h0M273.8 337.4h0M273.3 312.6h0M261.6 328.8h0M276.3 312.8h0M245.4 319.0h0M285.8 335.5h0M280.3 295.6h0M280.8 285.0h0M287.5 327.9h0M280.5 335.4h0M287.2 321.5h0M286.3 323.9h0M248.3 330.9h0M288.3 315.6h0M265.8 336.0h0M254.5 296.1h0M271.5 326.6h0M272.7 318.0h0M283.8 323.7h0M254.1 311.5h0M274.1 331.6h0M258.6 319.5h0M255.4 322.2h0M284.2 327.5h0M257.1 329.4h0M280.7 286.2h0M247.5 317.3h0M251.9 320.8h0M286.6 305.3h0M256.7 304.5h0M269.5 332.5h0M278.3 309.7h0M242.1 314.7h0M255.4 318.0h0M279.8 303.0h0M287.9 324.0h0M258.2 307.5h0M281.2 327.3h0M263.3 330.5h0M288.9 311.6h0M280.7 306.3h0M241.2 311.9h0M280.1 333.3h0M259.1 324.7h0M255.1 293.0h0M256.5 283.4h0M280.8 297.0h0M260.0 331.5h0M248.7 308.9h0M292.1 317.3h0M262.7 312.9h0M245.2 309.8h0M247.7 331.9h0M277.5 332.9h0M254.2 304.6h0M253.1 305.8h0M251.7 324.6h0M245.5 314.1h0M277.3 298.6h0M273.3 338.9h0M252.5 330.2h0M288.5 324.3h0M258.1 339.6h0M255.8 324.4h0M263.1 325.1h0M273.7 306.3h0M284.1 314.3h0M243.0 308.5h0M250.4 329.6h0M255.2 323.6h0M275.2 320.4h0M258.0 338.9h0M270.7 324.9h0M242.5 307.5h0M253.7 308.5h0M279.5 333.3h0M277.7 339.8h0M277.9 318.1h0M256.2 299.8h0M251.7 331.2h0M275.4 303.0h0M276.7 328.5h0M262.7 324.4h0M273.6 321.0h0M262.6 316.0h0M280.9 285.1h0M280.9 314.7h0M246.4 330.6h0M260.3 313.6h0M279.1 292.3h0M256.6 281.8h0M291.4 318.0h0M287.9 318.2h0M293.2 315.6h0M262.5 319.8h0M272.0 328.0h0M242.6 309.4h0M291.4 315.5h0M249.4 321.2h0M241.1 310.1h0M255.4 302.7h0M257.3 311.4h0M245.1 309.2h0M253.2 326.4h0M276.8 307.0h0M252.5 339.8h0M289.5 335.6h0M284.2 326.8h0M281.6 326.8h0M246.9 306.3h0M248.9 310.3h0M259.9 328.3h0M280.6 312.5h0M256.2 292.4h0M290.1 313.7h0M272.5 332.7h0M263.2 324.6h0M246.1 306.7h0M289.8 308.2h0M243.5 323.9h0M242.9 319.8h0M256.9 325.5h0M251.1 317.7h0M255.4 312.8h0M261.0 323.3h0M260.0 327.7h0M288.9 313.0h0M254.8 337.2h0M285.1 336.1h0M274.1 323.9h0M286.8 333.2h0M283.6 311.3h0M256.0 331.2h0M257.2 323.2h0M253.4 319.8h0M246.3 321.6h0M246.0 319.5h0M280.4 275.0h0M242.2 321.7h0M245.9 323.2h0M262.6 320.6h0M259.4 317.6h0M250.4 328.6h0M273.2 323.9h0M273.1 338.0h0M292.6 313.9h0M282.5 334.0h0M259.6 338.7h0M282.6 339.3h0M286.8 306.5h0M286.6 322.1h0M291.6 332.3h0M258.2 300.2h0M278.0 293.1h0M266.8 335.6h0M250.2 330.0h0M249.0 328.4h0M242.5 315.1h0M258.7 325.1h0M254.6 333.1h0M244.1 307.3h0M251.0 334.1h0M263.1 322.1h0M292.9 313.2h0M291.4 327.2h0M277.1 335.7h0M247.3 339.2h0M264.8 335.2h0M253.6 333.6h0M259.6 310.2h0M260.8 310.8h0M249.3 330.5h0M260.5 331.0h0M248.5 319.9h0M289.1 339.6h0M257.9 305.7h0M257.0 308.2h0M280.6 323.3h0M270.5 333.9h0M287.6 310.4h0M257.6 324.8h0M249.4 328.1h0M254.9 333.9h0M275.0 326.1h0M243.0 307.6h0M254.5 338.2h0M277.1 327.5h0M262.6 326.7h0M255.0 274.8h0M280.7 278.0h0M258.9 314.3h0M278.9 311.3h0M279.9 313.0h0M245.6 309.0h0M278.0 326.3h0M245.9 334.9h0M255.6 294.4h0M253.0 336.8h0M249.1 338.9h0M278.4 311.6h0M287.8 313.4h0M277.9 331.5h0M264.7 329.3h0M250.0 324.8h0M279.9 268.9h0M261.9 326.7h0M242.0 312.1h0M249.6 307.2h0M280.8 266.2h0M255.1 315.3h0M292.7 310.4h0M241.8 315.4h0M250.7 338.8h0M243.4 325.3h0M247.2 308.4h0M251.4 336.3h0M280.5 316.9h0M285.3 330.6h0M281.0 315.4h0M262.2 331.9h0M278.8 283.2h0M288.0 306.7h0M285.6 312.2h0M275.0 336.2h0M280.2 322.9h0M257.0 293.0h0M264.3 332.6h0M294.2 305.2h0M262.6 323.1h0M243.8 321.8h0M281.3 300.2h0M249.5 330.8h0M243.3 323.1h0M273.2 309.9h0M264.2 333.1h0M274.3 317.5h0M271.3 325.2h0M290.6 337.7h0M253.2 318.9h0M251.0 313.8h0M275.6 324.6h0M281.8 323.2h0M247.5 308.8h0M254.2 291.1h0M280.4 270.5h0M275.7 337.8h0M257.9 287.1h0M281.2 270.9h0M277.8 309.9h0M261.0 326.5h0M275.4 297.6h0M255.4 283.5h0M290.8 312.5h0M261.7 339.6h0M291.6 326.4h0M289.0 313.8h0M265.0 333.7h0M277.0 289.1h0M250.8 312.8h0M293.1 307.6h0M262.4 331.8h0M275.1 313.6h0M257.2 335.4h0M242.7 314.3h0M263.6 325.0h0M274.2 320.7h0M292.5 313.6h0M283.1 312.0h0M276.9 335.9h0M249.8 306.2h0M250.9 338.4h0M256.2 333.2h0M292.1 327.8h0M285.9 329.0h0M271.4 325.7h0M289.1 327.1h0M277.8 285.2h0M256.3 309.5h0M271.8 320.9h0M291.9 316.4h0M249.2 326.4h0M262.7 332.7h0M285.6 336.8h0M258.9 332.2h0M273.6 325.1h0M276.9 314.6h0M279.4 286.2h0M288.5 320.6h0M278.7 299.5h0M276.1 315.1h0M255.8 282.5h0M261.8 319.1h0M282.2 330.0h0M278.8 306.9h0M283.7 327.9h0M280.0 309.9h0M244.5 325.6h0M261.0 333.6h0M280.1 301.3h0M264.2 339.1h0M276.1 305.0h0M250.5 329.0h0M282.5 318.1h0M257.3 311.4h0M264.0 336.1h0M255.2 322.7h0M258.1 331.7h0M253.1 312.3h0M274.7 326.0h0M250.3 305.3h0M250.9 311.0h0M285.4 313.2h0M287.9 312.3h0M265.8 333.4h0M242.9 323.0h0M254.9 313.1h0M287.3 338.8h0M273.8 327.6h0M265.5 332.8h0M269.9 339.2h0M264.6 336.4h0M243.9 325.7h0M276.4 305.0h0M257.1 334.2h0M274.4 324.8h0M254.2 270.4h0M251.2 306.3h0M250.0 332.3h0M271.4 323.1h0M248.7 336.6h0M255.0 280.3h0M283.7 312.2h0M249.5 317.1h0M263.8 325.5h0M287.6 330.5h0M274.3 328.7h0M280.2 323.8h0M247.5 314.8h0M248.2 321.0h0M287.0 321.5h0M254.8 297.1h0M261.2 308.0h0M254.2 287.5h0M259.0 331.3h0M289.6 326.0h0M255.5 339.7h0M269.7 328.3h0M281.7 323.7h0M244.3 321.6h0M289.9 309.3h0M280.4 297.4h0M264.1 337.0h0M285.5 333.9h0M249.6 310.3h0M249.4 326.3h0M245.6 320.5h0M250.0 337.9h0M257.8 323.1h0M254.6 279.6h0M277.0 332.5h0M245.9 312.6h0M274.9 321.0h0M258.5 332.8h0M284.6 339.3h0M288.2 331.8h0M262.0 339.0h0M260.3 316.5h0M288.5 306.7h0M253.3 328.6h0M270.1 333.3h0M269.5 329.6h0M285.5 320.1h0M254.5 279.3h0M256.3 309.3h0M254.5 316.3h0M283.0 307.6h0M272.6 319.5h0M244.8 310.2h0M275.9 339.5h0M258.5 309.6h0M279.3 309.4h0M246.8 326.4h0M280.9 328.8h0M281.3 295.0h0M277.1 335.1h0M255.7 308.4h0M246.6 315.3h0M243.1 316.5h0M282.7 335.8h0M289.7 314.0h0M274.5 325.1h0M255.2 313.4h0M281.4 305.6h0M244.9 320.1h0M279.7 321.6h0M278.5 283.0h0M247.8 318.0h0M261.5 318.5h0M274.4 318.3h0M262.5 335.3h0M259.1 325.0h0M275.0 302.0h0M275.0 318.4h0M275.3 330.9h0M292.8 309.9h0M287.7 308.6h0M254.5 292.2h0M275.5 310.2h0M254.2 333.2h0M280.4 301.5h0M279.6 324.7h0M276.2 321.0h0M293.3 308.8h0M254.9 305.8h0M283.8 336.6h0M280.1 338.3h0M254.1 295.5h0M255.7 294.5h0M254.8 286.7h0M261.3 314.2h0M256.9 338.1h0M274.7 322.3h0M260.4 334.5h0M278.7 288.4h0M287.4 319.4h0M268.6 338.5h0M260.4 335.3h0M257.6 306.0h0M285.8 310.5h0M278.8 292.3h0M256.3 332.1h0M263.8 331.5h0M243.3 317.0h0M253.7 329.3h0M255.8 339.5h0M254.0 298.3h0M258.0 301.7h0M280.9 288.0h0M250.6 320.3h0M281.3 303.5h0M268.8 333.7h0M242.5 324.2h0M273.7 326.5h0M255.5 296.7h0M288.2 333.4h0M257.5 302.6h0M255.7 279.2h0M261.3 337.8h0M276.2 291.6h0M276.9 296.3h0M258.5 325.2h0M272.9 325.6h0M277.8 296.9h0M287.6 337.5h0M278.0 286.1h0M254.7 326.0h0M250.0 307.1h0M253.1 307.5h0M250.8 315.3h0M289.3 332.0h0M254.9 327.7h0M278.7 331.1h0M260.9 330.5h0M278.7 276.4h0M280.2 322.1h0M287.2 316.8h0M287.7 310.8h0M251.0 317.7h0M286.7 310.9h0M279.8 320.0h0M292.5 320.7h0M278.2 333.6h0M266.3 338.2h0M264.3 325.1h0M249.7 339.3h0M279.9 332.5h0M264.2 322.3h0M278.4 280.5h0M255.1 293.4h0M286.4 334.2h0M278.9 319.5h0M280.8 311.1h0M256.3 297.3h0M280.7 320.6h0M275.0 327.1h0M260.6 301.5h0M244.6 313.0h0M254.1 284.9h0M256.3 323.0h0M244.0 321.9h0M286.2 323.5h0M275.6 323.3h0M279.7 315.6h0M268.9 336.5h0M285.6 305.8h0M276.5 295.6h0M260.4 311.2h0M279.3 283.7h0M287.3 318.2h0M283.4 319.4h0M258.2 336.8h0M259.3 323.5h0M254.5 324.1h0M257.1 291.2h0M260.2 323.1h0M292.4 317.1h0M249.4 324.8h0M259.0 312.4h0M264.2 334.4h0M290.9 322.0h0M245.6 336.3h0M246.5 335.8h0M248.9 331.6h0M278.8 338.9h0M255.6 316.9h0M257.8 309.5h0M254.5 312.6h0M254.3 307.6h0M295.3 308.4h0M276.2 338.2h0M256.6 308.8h0M250.5 322.2h0M247.1 308.4h0M280.0 299.8h0M251.3 335.5h0M249.2 322.7h0M245.9 333.0h0M281.1 305.1h0M243.5 306.1h0M290.1 320.0h0M289.1 338.2h0M254.4 267.9h0M287.3 312.2h0M256.2 293.6h0M256.9 298.4h0M254.4 315.2h0M283.9 313.0h0M258.9 334.7h0M277.3 307.9h0M292.6 323.5h0M280.9 323.8h0M250.7 324.6h0M247.9 313.6h0M256.2 331.1h0M247.0 306.3h0M276.4 300.9h0M254.4 310.1h0M256.2 298.8h0M274.0 311.0h0M255.0 287.2h0M295.1 309.2h0M255.7 321.8h0M280.4 270.4h0M287.9 334.2h0M287.4 313.9h0M247.6 314.8h0M253.8 338.1h0M256.5 333.7h0M262.8 320.6h0M277.4 293.2h0M254.3 286.9h0M285.1 312.0h0M276.9 323.9h0M250.6 338.2h0M255.9 299.8h0M257.6 310.5h0M249.3 305.0h0M290.5 321.8h0M258.0 339.0h0M266.9 335.3h0M283.5 307.1h0M249.2 326.3h0M248.5 333.5h0M255.7 321.1h0M265.2 332.6h0M259.6 304.4h0M273.8 310.0h0M256.5 314.4h0M281.6 315.7h0M269.1 336.9h0M258.5 313.8h0M294.5 310.3h0M241.3 308.9h0M279.9 312.3h0M259.8 320.5h0M258.1 288.4h0M279.9 321.8h0M250.1 316.6h0M284.5 327.7h0M279.8 312.5h0M280.0 285.8h0M279.7 292.6h0M282.3 306.1h0M251.8 336.6h0M258.8 317.8h0M281.2 283.2h0M260.1 317.0h0M259.1 308.2h0M260.6 306.0h0M264.1 326.4h0M281.5 313.5h0M285.9 326.0h0M282.8 316.0h0M252.0 335.9h0M246.0 333.8h0M281.2 266.5h0M254.8 303.5h0M274.2 309.5h0M271.6 323.4h0M281.2 331.1h0M249.2 329.6h0M277.5 285.1h0M278.6 300.2h0M251.5 323.8h0M246.6 332.0h0M286.2 335.5h0M274.0 310.7h0M259.7 307.1h0M251.4 323.1h0M251.1 330.8h0M290.0 317.7h0M289.8 306.5h0M283.3 335.4h0M248.4 324.2h0M267.4 338.2h0M284.6 322.3h0M259.8 332.1h0M247.4 334.8h0M253.0 336.5h0M284.8 315.1h0M286.0 337.1h0M281.1 269.7h0M278.3 289.6h0M279.0 289.2h0M243.7 324.6h0M256.1 306.9h0M289.0 324.4h0M256.1 336.7h0M262.4 317.2h0M279.5 322.4h0M258.6 315.9h0M249.6 324.8h0M240.8 305.0h0M259.0 306.0h0M261.7 321.6h0M282.3 320.9h0M250.2 312.8h0M259.4 296.0h0M282.8 325.7h0M289.5 311.8h0M263.7 323.2h0M274.7 311.6h0M256.8 295.8h0M276.2 303.4h0M275.0 298.6h0M262.6 328.2h0M255.6 319.1h0M284.9 335.8h0M277.9 293.6h0M283.4 325.3h0M256.6 317.0h0M255.9 326.0h0M270.6 334.6h0M281.2 311.1h0M280.0 283.8h0M247.7 320.3h0M288.3 325.3h0M264.0 334.5h0M290.1 315.8h0M284.2 309.9h0M287.2 306.9h0M269.1 337.6h0M271.2 322.3h0M258.0 290.0h0M252.6 307.1h0M257.8 294.1h0M289.8 332.3h0M274.7 327.2h0M287.5 317.7h0M278.3 296.8h0M257.4 292.6h0M264.4 334.9h0M258.3 329.2h0M252.5 309.0h0M283.1 317.7h0M271.7 323.9h0M244.9 310.4h0M261.8 324.1h0M253.5 308.6h0M259.4 319.8h0M254.9 283.9h0M292.3 322.3h0M280.6 314.3h0M260.3 335.1h0M277.2 327.5h0M277.0 293.1h0M253.5 320.1h0M254.5 274.6h0M280.8 323.2h0M270.1 332.5h0M256.9 316.3h0M286.6 333.9h0M282.4 316.5h0M255.0 317.2h0M283.6 314.9h0M286.1 307.0h0M271.7 320.9h0M274.5 317.8h0M278.0 330.3h0M275.1 326.3h0M278.7 311.8h0M248.1 330.1h0M279.2 299.8h0M277.7 306.6h0M247.0 333.6h0M247.0 337.7h0M277.9 282.2h0M293.8 316.7h0M255.5 305.0h0M284.9 307.8h0M278.8 338.7h0M256.4 317.8h0M272.4 320.3h0M275.3 337.3h0M259.1 326.7h0M254.3 330.3h0M247.5 323.3h0M293.0 322.3h0M280.5 280.5h0M273.5 324.3h0M289.8 327.4h0M290.6 336.3h0M289.3 338.5h0M252.9 329.3h0M245.7 337.4h0M273.6 331.5h0M260.7 329.9h0M252.4 306.8h0M249.6 331.8h0M266.4 336.3h0M285.9 308.8h0M254.2 279.6h0M254.7 294.6h0M276.4 289.7h0M283.6 335.9h0M245.5 327.8h0M291.3 332.4h0M288.8 328.6h0M283.8 327.1h0M255.3 297.1h0M265.5 329.3h0M276.3 328.6h0M253.0 336.4h0M290.2 319.4h0M250.4 333.5h0M251.1 318.1h0M281.5 308.3h0M277.3 313.7h0M251.6 331.0h0M276.2 326.5h0M287.6 337.3h0M292.3 321.5h0M272.0 327.6h0M257.6 309.3h0M279.1 285.4h0M289.4 338.9h0M260.9 311.4h0M252.8 318.9h0M275.1 325.4h0M258.2 316.8h0M276.5 293.7h0M274.6 336.7h0M282.0 314.9h0M259.5 306.2h0M258.4 319.1h0M257.2 296.9h0M258.5 329.2h0M280.3 313.9h0M255.5 315.5h0M261.8 311.4h0M280.0 279.7h0M278.9 287.3h0M275.7 322.5h0M244.5 322.7h0M278.8 294.9h0M243.0 311.9h0M279.5 317.9h0M256.9 301.2h0M277.8 283.3h0M281.0 326.5h0M286.7 322.2h0M284.6 313.5h0M275.1 317.1h0M259.4 319.3h0M291.6 327.3h0M276.8 322.1h0M244.4 322.9h0M249.9 336.1h0M289.7 319.8h0M251.3 334.5h0M258.1 316.8h0M289.0 321.8h0M273.2 321.1h0M262.7 323.8h0M243.4 309.9h0M247.3 333.2h0M284.8 305.3h0M254.9 283.7h0M254.7 314.1h0M272.6 337.6h0M246.3 317.3h0M279.8 301.8h0M284.9 309.9h0M261.0 323.5h0M252.5 327.5h0M287.0 335.4h0M282.3 315.8h0M275.9 314.7h0M281.2 260.0h0M281.4 265.3h0M257.5 303.0h0M251.2 332.8h0M247.9 328.3h0M281.1 298.0h0M259.5 326.1h0M249.4 329.3h0M290.5 326.1h0M277.6 334.6h0M290.0 306.1h0M258.4 320.0h0M277.0 328.3h0M265.4 328.8h0M262.8 316.8h0M261.4 316.1h0M246.6 319.5h0M260.3 327.6h0M291.4 318.0h0M281.6 336.0h0M277.6 292.1h0M273.7 324.5h0M258.7 339.4h0M284.0 319.0h0M289.9 328.8h0M277.9 316.3h0M244.5 330.4h0M255.4 321.9h0M259.9 329.0h0M277.1 316.5h0M279.7 307.5h0M281.0 328.4h0M278.7 325.9h0M254.2 330.6h0M287.4 308.9h0M253.7 312.5h0M259.9 298.5h0M289.4 309.5h0M274.6 309.6h0M245.1 306.1h0M271.8 325.4h0M252.5 333.6h0M245.6 321.1h0M273.7 305.1h0M250.9 316.2h0M279.0 320.4h0M280.1 270.3h0M246.8 324.5h0M284.4 322.0h0M250.5 319.6h0M255.4 299.5h0M280.2 271.2h0M281.1 339.6h0M252.4 307.3h0M256.5 304.3h0M280.4 300.0h0M260.8 332.7h0M280.5 305.0h0M258.1 302.4h0M253.2 319.2h0M273.6 313.5h0M276.4 296.3h0M258.6 295.2h0M253.6 325.5h0M261.2 338.7h0M241.7 314.8h0M250.1 319.3h0M277.1 334.2h0M255.9 299.8h0M253.9 307.2h0M275.8 294.4h0M275.2 330.1h0M275.2 298.9h0M277.9 322.1h0M278.6 337.9h0M255.6 336.7h0M253.8 337.5h0M252.5 322.0h0M248.4 328.8h0M258.7 324.7h0M245.9 326.9h0M281.3 287.1h0M279.0 284.5h0M289.6 308.0h0M280.4 267.0h0M280.5 310.6h0M281.4 265.8h0M262.1 313.9h0M256.3 309.2h0M284.2 312.8h0M281.1 337.8h0M278.0 301.0h0M262.9 326.5h0M280.0 321.8h0M282.9 327.5h0M254.8 326.3h0M289.0 337.2h0M255.9 275.4h0M281.7 323.5h0M285.5 331.0h0M279.5 288.3h0M284.6 331.5h0M264.2 332.9h0M258.1 318.8h0M254.6 337.3h0M260.3 315.9h0M274.2 317.2h0M265.0 336.9h0M249.0 334.5h0M252.2 308.0h0M254.4 285.3h0M289.6 325.2h0M255.9 298.4h0M275.0 330.7h0M288.6 339.2h0M275.4 319.9h0M260.6 312.7h0M288.0 314.5h0M284.8 321.9h0M285.4 320.0h0M276.4 330.2h0M279.4 304.4h0M279.1 298.0h0M255.1 276.5h0M277.8 303.5h0M253.9 337.5h0M275.0 326.4h0M277.1 335.9h0M281.2 308.3h0M286.9 320.1h0M278.5 287.3h0M274.6 302.3h0M282.8 305.5h0M276.9 301.1h0M261.0 302.8h0M276.5 323.7h0M279.7 327.5h0M279.9 270.0h0M278.0 293.7h0M279.5 316.8h0M252.4 325.1h0M252.1 329.5h0M242.9 322.7h0M256.3 328.4h0M279.7 326.3h0M278.1 280.7h0M251.5 336.4h0M251.4 318.0h0M286.9 326.2h0M256.3 281.0h0M274.4 325.9h0M290.4 333.5h0M243.5 312.7h0M254.8 278.2h0M256.0 290.2h0M261.6 324.4h0M259.5 296.6h0M249.5 336.9h0M287.8 316.8h0M292.9 312.1h0M280.2 312.3h0M247.1 311.9h0M256.2 333.4h0M274.4 329.6h0M254.7 309.0h0M249.9 327.8h0M241.5 306.2h0M257.0 307.4h0M245.5 309.9h0M275.0 313.2h0M279.6 330.9h0M254.3 298.3h0M247.0 315.3h0M281.6 321.4h0M251.4 321.8h0M268.5 338.0h0M275.0 321.8h0M252.1 313.8h0M259.1 293.0h0M283.6 337.5h0M243.6 328.2h0M276.6 311.4h0M279.8 274.7h0M243.4 325.4h0M280.2 325.1h0M247.7 311.6h0M256.7 338.1h0M255.9 338.1h0M260.8 311.3h0M275.9 298.9h0M253.9 318.0h0M274.5 331.7h0M274.0 337.2h0M243.3 307.3h0M274.8 336.7h0M256.4 307.1h0M245.0 309.1h0M264.0 331.8h0M253.6 326.5h0M272.0 318.1h0M249.5 324.9h0M279.6 309.9h0M287.2 316.7h0M241.0 306.2h0M246.9 317.5h0M280.3 301.9h0M277.2 287.9h0M254.4 339.0h0M281.2 271.7h0M248.5 313.7h0M278.8 314.2h0M255.3 331.4h0M272.3 329.2h0M275.2 334.8h0M244.9 328.5h0M277.4 287.4h0M271.2 319.9h0M257.0 288.1h0M245.2 310.0h0M278.0 283.2h0M264.2 323.6h0M280.1 299.4h0M259.4 339.5h0M259.1 317.8h0M279.9 292.3h0M257.1 312.8h0M258.2 301.5h0M247.5 332.7h0M288.5 335.4h0M276.1 310.2h0M246.3 330.2h0M251.4 305.4h0M258.1 313.6h0M274.3 337.3h0M257.3 302.7h0M256.3 287.0h0M278.1 319.1h0M255.5 285.1h0M281.2 329.5h0M250.5 313.9h0M280.5 279.2h0M279.9 330.4h0M291.0 305.6h0M276.7 324.1h0M284.2 308.4h0M283.7 332.7h0M282.4 314.2h0M273.8 314.4h0M251.6 310.2h0M291.9 305.4h0M286.6 316.9h0M258.5 327.5h0M256.2 289.8h0M279.2 302.0h0M277.6 284.1h0M292.4 309.1h0M250.6 319.3h0M282.3 315.7h0M286.9 317.5h0M287.3 313.7h0M288.9 327.3h0M290.4 310.3h0M256.3 289.6h0M253.6 335.5h0M288.3 321.6h0M254.2 276.4h0M255.6 284.9h0M280.2 333.9h0M272.9 329.0h0M290.5 306.6h0M282.7 321.0h0M289.2 308.2h0M290.8 311.6h0M245.0 310.1h0M257.1 338.8h0M244.0 321.4h0M288.1 339.2h0M245.2 335.5h0M283.0 318.0h0M273.2 310.4h0M255.3 309.3h0M263.0 336.1h0M245.2 309.8h0M246.7 321.2h0M289.5 339.2h0M289.5 308.5h0M279.1 288.8h0M257.2 284.0h0M282.3 308.5h0M245.1 315.3h0M250.5 321.7h0M255.9 331.6h0M285.3 327.2h0M258.9 303.0h0M249.3 314.0h0M254.7 317.5h0M254.9 287.2h0M273.4 336.0h0M291.3 334.0h0M282.4 334.3h0M260.7 325.3h0M275.8 331.9h0M244.4 313.0h0M289.4 327.8h0M261.7 322.8h0M291.9 308.0h0M249.2 336.8h0M252.7 338.0h0M290.6 326.0h0M259.2 337.7h0M257.2 323.5h0M251.9 315.2h0M248.1 316.9h0M276.3 317.3h0M263.4 319.8h0M279.2 283.2h0M263.5 323.1h0M280.4 283.3h0M282.6 311.7h0M255.4 310.8h0M283.0 328.9h0M251.1 318.0h0M242.1 309.0h0M276.6 337.0h0M279.1 297.8h0M257.1 332.1h0M257.9 308.4h0M245.3 327.2h0M242.9 320.8h0M273.6 318.9h0M277.2 296.9h0M246.8 310.0h0M285.5 329.2h0M256.2 282.1h0M275.1 296.5h0M261.3 337.9h0M242.3 317.9h0M279.1 295.5h0M254.7 290.5h0M274.0 316.0h0M244.6 311.5h0M256.5 320.7h0M246.5 309.9h0M289.4 337.3h0M258.1 323.8h0M254.2 311.7h0M255.4 316.0h0M255.2 293.4h0M279.1 332.4h0M257.5 321.2h0M277.8 303.5h0M254.7 288.2h0M282.5 319.7h0M255.0 307.0h0M291.4 307.2h0M294.6 308.8h0M257.0 335.7h0M280.0 276.3h0M281.1 312.7h0M254.7 317.9h0M278.6 319.7h0M250.7 324.2h0M258.5 334.8h0M260.4 306.7h0M250.3 305.6h0M276.9 298.0h0M289.0 306.2h0M258.0 302.6h0M242.8 319.9h0M269.8 339.5h0M245.6 332.4h0M284.8 320.9h0M280.6 298.6h0M276.7 288.7h0M257.3 335.6h0M246.6 327.1h0M255.2 336.7h0M289.2 307.5h0M279.8 300.4h0M289.4 324.0h0M245.4 325.7h0M289.6 312.2h0M244.6 323.3h0M273.5 324.9h0M249.6 325.5h0M253.4 319.9h0M295.3 307.7h0M249.9 318.8h0M281.5 311.8h0M274.3 312.7h0M254.3 291.2h0M288.7 322.3h0M271.7 317.0h0M264.8 338.2h0M285.7 313.8h0M254.0 288.1h0M285.1 336.1h0M251.1 323.4h0M284.8 326.6h0M254.1 268.9h0M281.2 296.9h0M252.3 309.0h0M245.6 309.0h0M277.0 331.9h0M282.0 325.6h0M280.9 264.7h0M284.6 337.7h0M280.5 337.1h0M247.7 326.4h0M253.3 313.2h0M283.4 326.1h0M257.9 304.0h0M278.8 281.9h0M276.5 320.7h0M291.0 321.8h0M281.4 288.8h0M279.8 329.7h0M248.5 327.5h0M256.3 297.3h0M243.8 321.6h0M255.3 311.7h0M289.7 312.6h0M250.9 311.6h0M255.5 327.3h0M284.3 326.2h0M246.2 325.9h0M288.6 321.0h0M285.9 332.8h0M278.3 293.6h0M244.4 315.7h0M287.0 336.8h0M258.9 324.2h0M274.9 314.7h0M282.3 319.9h0M288.3 311.0h0M240.6 310.8h0M275.7 333.8h0M241.9 310.8h0M263.7 319.0h0M271.0 331.0h0M255.6 291.8h0M275.6 330.5h0M280.8 304.8h0M242.5 313.3h0M261.9 338.3h0M290.8 330.5h0M262.8 316.5h0M274.7 334.4h0M279.9 279.8h0M286.3 335.4h0M277.3 329.0h0M253.1 319.7h0M281.4 296.7h0M276.7 317.8h0M290.7 312.3h0M280.9 305.2h0M272.2 332.3h0M287.1 335.8h0M283.9 311.7h0M277.0 330.6h0M289.4 323.5h0M271.0 329.9h0M288.5 313.2h0M251.9 311.2h0M268.5 339.4h0M256.6 302.5h0M257.4 337.9h0M283.7 320.5h0M262.7 313.3h0M255.8 336.7h0M243.5 323.5h0M259.5 307.4h0M280.1 306.8h0M270.2 338.6h0M257.9 323.6h0M279.1 295.6h0M286.1 310.0h0M277.4 285.2h0M245.0 326.5h0M270.3 334.7h0M251.2 317.0h0M280.3 335.6h0M255.6 325.8h0M260.9 322.8h0M261.3 308.7h0M280.6 301.2h0M278.0 307.2h0M278.9 302.4h0M278.4 333.7h0M263.1 325.4h0M244.5 324.7h0M258.4 337.4h0M248.1 331.0h0M250.9 338.4h0M257.3 320.1h0M284.5 308.5h0M292.3 326.0h0M283.8 307.4h0M284.6 321.4h0M258.0 310.6h0M250.9 324.0h0M248.3 339.4h0M242.6 321.4h0M280.0 319.4h0M281.4 317.6h0M278.8 323.6h0M260.2 309.0h0M252.6 316.2h0M252.9 327.0h0M284.4 338.0h0M277.2 335.1h0M241.1 305.4h0M272.8 321.2h0M246.1 307.0h0M287.8 321.2h0M286.0 310.3h0M279.6 282.9h0M256.0 305.5h0M294.5 309.0h0M290.8 319.9h0M244.4 323.5h0M278.4 323.7h0M274.0 313.6h0M278.0 310.3h0M281.8 316.5h0M272.4 339.1h0M264.3 335.4h0M258.2 338.3h0M245.6 328.0h0M255.4 274.5h0M254.1 271.1h0M289.6 337.2h0M263.9 320.5h0M251.0 336.5h0M249.3 328.5h0M288.0 338.2h0M243.5 314.3h0M245.9 316.6h0M260.5 335.4h0M277.8 298.1h0M259.4 326.7h0M279.6 279.2h0M256.1 291.6h0M282.4 323.9h0M251.4 313.3h0M261.8 309.0h0M247.3 338.0h0M283.2 311.8h0M248.1 331.5h0M243.6 307.2h0M281.5 316.1h0M244.9 318.6h0M260.2 332.7h0M261.7 338.1h0M284.1 321.3h0M276.2 315.7h0M244.9 322.1h0M287.1 321.4h0M291.3 305.7h0M276.9 335.4h0M281.4 270.3h0M283.9 316.3h0M250.9 309.3h0M280.7 324.6h0M285.2 339.4h0M254.4 332.1h0M258.5 292.0h0M284.8 333.8h0M273.9 316.7h0M255.7 303.7h0M262.1 338.3h0M247.2 335.7h0M282.2 305.1h0M264.1 330.2h0M282.1 324.4h0M259.2 303.0h0M253.7 331.8h0M251.9 316.9h0M276.0 303.2h0M263.7 331.2h0M275.8 291.9h0M286.9 324.5h0M254.3 303.1h0M271.6 332.6h0M280.1 286.6h0M291.6 324.2h0M261.1 307.6h0M281.7 319.6h0M293.2 312.0h0M291.1 329.2h0M254.4 312.2h0M278.8 317.2h0M282.5 333.5h0M258.4 303.9h0M245.2 320.7h0M278.4 309.1h0M250.6 328.2h0M274.0 338.9h0M254.7 286.1h0M253.7 305.1h0M250.8 316.1h0M292.3 323.1h0M255.7 321.7h0M255.6 289.7h0M294.8 306.0h0M272.3 334.9h0M263.0 324.1h0M276.6 310.2h0M285.5 329.7h0M255.3 307.2h0M251.5 335.0h0M279.9 283.3h0M257.3 321.8h0M284.3 305.9h0M273.0 339.6h0M277.8 291.8h0M257.2 297.2h0M280.3 316.8h0M276.6 294.5h0M253.5 325.7h0M257.2 306.1h0M278.0 321.5h0M254.3 297.9h0M271.8 322.3h0M279.1 334.5h0M249.9 309.0h0M253.6 311.7h0M256.1 309.3h0M264.7 323.1h0M275.8 311.5h0M280.4 267.3h0M275.5 307.1h0M273.4 326.0h0M270.6 331.9h0M276.3 317.4h0M256.8 286.6h0M279.0 322.1h0M257.4 310.2h0M281.4 333.6h0M261.7 338.3h0M255.0 319.7h0M281.6 335.2h0M260.8 336.7h0M262.9 324.9h0M256.6 314.5h0M273.3 325.7h0M252.9 318.3h0M279.5 273.1h0M286.5 308.5h0M274.3 310.0h0M261.6 336.8h0M245.5 319.7h0M258.2 338.5h0M275.7 339.1h0M265.9 332.8h0M265.8 332.2h0M259.8 306.9h0M243.0 320.9h0M272.5 339.2h0M256.5 336.6h0M289.1 329.4h0M248.3 319.6h0M279.2 323.2h0M277.5 323.1h0M247.6 338.8h0M240.9 313.6h0M258.8 291.3h0M270.5 335.4h0M257.5 285.7h0M243.0 308.4h0M279.8 333.1h0M275.3 302.2h0M254.2 309.6h0M292.9 319.4h0M248.7 324.9h0M259.0 335.3h0M273.1 335.5h0M249.4 315.0h0M260.7 317.0h0M262.7 336.4h0M281.5 289.2h0M246.4 311.4h0M254.1 333.1h0M256.1 285.5h0M248.0 321.6h0M283.8 319.2h0M269.4 338.9h0M262.4 330.8h0M252.5 313.2h0M260.3 328.1h0M274.5 315.2h0M279.8 330.9h0M292.2 317.5h0M280.5 322.0h0M262.4 325.4h0M285.9 333.0h0M286.5 317.4h0M268.4 336.4h0M258.5 316.8h0M261.4 308.7h0M278.1 334.3h0M254.3 302.6h0M276.0 337.8h0M254.5 307.6h0M273.1 322.7h0M246.4 335.7h0M290.8 337.2h0M276.9 338.4h0M289.9 306.9h0M282.7 308.5h0M283.4 324.0h0M246.6 310.0h0M259.4 302.9h0M257.6 290.9h0M277.0 302.5h0M254.8 336.3h0M280.7 337.3h0M248.4 318.0h0M255.3 295.7h0M257.0 324.8h0M268.9 338.3h0M261.3 330.9h0M253.5 327.5h0M274.7 333.3h0M248.1 323.6h0M249.3 331.9h0M276.1 297.7h0M252.5 306.2h0M280.4 304.4h0M252.4 334.2h0M288.8 311.8h0M290.9 334.2h0M258.4 322.2h0M256.0 327.7h0M253.4 328.9h0M260.2 337.1h0M270.1 339.6h0M254.4 285.7h0M279.6 324.0h0M294.1 310.7h0M278.0 318.2h0M250.4 339.0h0M279.0 302.2h0M288.6 321.5h0M282.5 327.9h0M280.1 304.7h0M279.7 279.8h0M280.5 296.8h0M289.9 333.4h0M289.4 309.8h0M261.3 317.2h0M264.9 337.1h0M242.7 324.5h0M276.2 308.0h0M286.2 315.8h0M254.6 336.4h0M291.9 313.0h0M294.7 307.8h0M278.0 302.0h0M262.9 323.8h0M245.7 319.6h0M245.9 320.4h0M275.9 336.1h0M277.5 330.9h0M281.6 305.0h0M251.2 319.5h0M275.6 296.7h0M280.9 267.7h0M278.7 290.5h0M274.5 310.9h0M252.6 312.9h0M288.2 305.1h0M281.0 270.0h0M283.4 334.8h0M260.3 317.4h0M285.7 312.2h0M270.0 329.6h0M279.4 330.8h0M285.4 336.5h0M279.4 290.3h0M250.1 322.0h0M288.8 321.4h0M290.1 331.1h0M257.1 301.8h0M278.8 275.1h0M280.0 325.4h0M275.9 322.9h0M290.0 305.2h0M244.2 314.8h0M252.6 320.9h0M273.9 334.6h0M279.6 335.8h0M264.7 332.0h0M251.6 307.8h0M290.6 325.6h0M285.6 306.4h0M255.2 275.4h0M256.4 319.0h0M287.3 309.8h0M280.9 333.4h0M254.4 314.7h0M274.6 301.1h0M257.5 284.7h0M257.7 289.8h0M278.4 332.4h0M244.6 312.0h0M246.2 337.0h0M249.0 323.5h0M287.7 309.5h0M254.3 273.6h0M287.7 312.2h0M253.3 309.9h0M277.2 306.5h0M281.4 264.7h0M271.8 325.8h0M269.7 331.5h0M278.0 327.4h0M256.4 298.1h0M268.8 335.2h0M283.3 336.7h0M286.2 322.7h0M284.0 333.0h0M282.4 327.4h0M274.2 316.9h0M259.5 298.2h0M284.8 320.5h0M252.6 335.5h0M245.8 319.0h0M275.8 335.5h0M281.5 315.2h0M273.3 339.8h0M272.2 333.1h0M285.8 325.3h0M255.8 326.2h0M244.2 317.3h0M246.8 305.6h0M271.9 316.4h0M254.7 321.7h0M287.1 324.3h0M288.9 310.1h0M250.8 324.3h0M276.5 290.3h0M279.0 273.4h0M251.9 330.7h0M292.3 325.9h0M282.1 316.3h0M245.8 338.0h0M259.7 319.1h0M273.0 315.6h0M291.3 320.6h0M280.1 283.6h0M258.6 315.8h0M255.5 272.6h0M281.1 335.1h0M259.6 310.6h0M280.5 275.2h0M250.1 319.6h0M261.3 331.8h0M243.0 317.1h0M277.8 289.0h0M258.5 328.7h0M254.7 327.2h0M250.1 311.7h0M258.0 302.7h0M258.5 332.1h0M281.3 297.9h0M255.2 320.4h0M246.4 316.1h0M286.3 337.6h0M273.4 323.6h0M251.2 323.4h0M285.6 317.8h0M257.0 306.1h0M283.1 310.9h0M274.3 322.6h0M257.9 293.3h0M285.5 338.9h0M259.8 297.2h0M259.5 319.2h0M293.8 314.1h0M279.6 271.6h0M292.5 307.4h0M258.3 290.5h0M263.9 325.4h0M280.8 339.2h0M257.7 309.4h0M279.7 279.5h0M257.2 284.9h0M259.0 328.6h0M255.9 275.8h0M256.5 314.4h0M262.3 326.9h0M281.3 300.0h0M290.6 314.7h0M283.2 333.5h0M249.8 308.9h0M242.2 310.0h0M275.4 313.2h0M272.1 336.3h0M270.3 334.5h0M278.3 286.0h0M254.3 267.9h0M279.3 284.1h0M256.7 318.5h0M254.4 325.1h0M285.4 314.7h0M287.5 337.6h0M245.0 318.4h0M269.5 337.0h0M248.1 312.1h0M258.9 309.7h0M280.7 264.1h0M288.2 307.4h0M244.3 307.5h0M246.5 336.2h0M276.9 320.6h0M254.5 326.4h0M285.8 320.3h0M261.9 313.9h0M263.1 332.8h0M285.0 337.3h0M285.9 328.4h0M277.6 316.8h0M257.7 320.1h0M280.2 290.2h0M252.9 331.7h0M245.2 312.2h0M256.6 314.1h0M255.0 311.2h0M244.6 318.2h0M254.0 278.0h0M252.2 310.2h0M285.4 337.9h0M263.9 339.0h0M279.0 287.5h0M287.2 338.0h0M256.0 320.8h0M279.8 276.1h0M285.2 330.6h0M255.5 327.8h0M279.7 320.1h0M254.2 335.7h0M248.7 325.2h0M291.0 331.5h0M290.5 324.9h0M290.6 313.3h0M253.8 321.7h0M254.5 286.3h0M280.3 277.4h0M280.8 280.2h0M255.6 310.5h0M280.5 305.8h0M288.1 307.1h0M277.2 332.0h0M244.7 319.7h0M286.1 306.9h0M275.3 300.5h0M272.0 314.7h0M253.4 322.5h0M253.8 338.6h0M290.4 307.6h0M284.8 305.0h0M261.0 334.5h0M286.6 333.6h0M263.4 318.9h0M289.5 316.6h0M255.5 298.2h0M282.7 308.1h0M277.6 317.6h0M273.5 331.9h0M280.9 327.3h0M286.8 311.3h0M257.9 294.6h0M255.8 315.8h0M277.2 286.7h0M255.3 309.1h0M241.9 305.5h0M258.5 320.2h0M277.2 305.8h0M289.8 326.2h0M246.7 307.4h0M279.4 304.1h0M279.8 304.7h0M291.1 322.2h0M256.7 297.1h0M276.3 321.5h0M256.2 294.8h0M242.9 316.3h0M257.2 310.3h0M254.0 296.3h0M253.0 332.4h0M261.3 322.4h0M287.1 307.3h0M248.0 339.7h0M281.3 337.5h0M242.1 306.4h0M254.9 325.3h0M248.4 325.9h0M243.3 313.1h0M273.0 328.3h0M259.4 334.9h0M280.7 305.2h0M278.4 307.6h0M255.7 302.9h0M253.5 329.5h0M282.2 313.5h0M277.2 307.0h0M281.2 266.7h0M256.2 279.6h0M255.5 293.1h0M280.5 313.4h0M292.6 308.9h0M269.9 337.6h0M262.6 322.7h0M260.1 339.2h0M250.3 331.0h0M279.5 332.0h0M252.4 325.8h0M248.5 338.5h0M275.5 302.0h0M276.9 317.4h0M258.2 305.3h0M250.2 331.8h0M274.2 326.5h0M289.1 336.7h0M245.5 314.7h0M244.7 317.6h0M289.8 316.8h0M280.3 320.5h0M278.7 318.0h0M257.5 325.9h0M284.0 310.3h0M246.7 311.9h0M244.9 311.6h0M255.7 307.1h0M257.5 311.7h0M247.7 308.0h0M251.9 306.9h0M244.5 312.7h0M285.6 324.7h0M286.3 336.9h0M257.7 324.3h0M276.2 306.6h0M286.4 312.8h0M284.6 327.3h0M292.1 318.7h0M261.5 334.6h0M269.8 331.0h0M246.9 328.4h0M258.7 298.5h0M269.2 337.8h0M274.8 339.0h0M243.3 310.6h0M280.1 290.4h0M256.5 288.3h0M260.2 306.9h0M279.7 298.6h0M254.1 305.1h0M282.2 329.4h0M277.2 295.2h0M275.7 314.5h0M272.4 321.0h0M256.3 333.0h0M281.4 286.6h0M281.2 285.9h0M285.7 329.2h0M293.2 316.1h0M278.9 322.4h0M278.6 306.5h0M255.6 299.0h0M253.3 328.0h0M279.6 315.8h0M282.7 336.4h0M261.5 305.7h0M276.8 288.6h0M261.6 323.0h0M277.1 336.7h0M273.0 338.6h0M248.0 332.3h0M253.2 338.7h0M287.8 314.0h0M264.5 322.5h0M287.6 338.9h0M250.0 310.2h0M277.9 297.5h0M250.2 309.0h0M272.8 322.2h0M241.1 313.3h0M252.5 320.1h0M261.4 308.8h0M276.7 298.4h0M279.7 314.5h0M242.1 319.4h0M289.9 336.9h0M270.7 322.5h0M293.2 321.8h0M250.1 326.2h0M257.4 288.9h0M282.7 318.3h0M280.4 288.8h0M258.2 297.0h0M277.8 286.7h0M246.2 318.4h0M291.3 321.4h0M279.0 273.2h0M255.7 332.6h0M280.1 309.5h0M276.8 306.0h0M288.7 339.5h0M270.5 324.3h0M279.4 305.8h0M245.9 322.9h0M275.4 302.0h0M288.2 322.1h0M276.8 321.4h0M259.5 294.3h0M280.0 278.6h0M254.6 279.1h0M280.8 287.8h0M249.2 317.5h0M276.1 314.6h0M294.5 309.5h0M281.0 270.3h0M291.3 314.6h0M284.2 319.0h0M256.3 315.8h0M276.4 297.7h0M291.0 311.3h0M285.0 307.9h0M264.4 328.8h0M293.1 315.0h0M284.7 329.1h0M254.2 266.5h0M263.2 328.5h0M271.1 328.4h0M281.0 330.5h0M277.6 326.1h0M240.5 308.0h0M275.6 328.4h0M243.3 306.7h0M291.6 326.1h0M282.0 319.2h0M275.7 330.9h0M262.7 317.9h0M254.6 329.3h0M289.7 335.6h0M263.7 333.7h0M255.9 338.2h0M289.5 336.9h0M255.0 296.2h0M246.8 318.0h0M248.5 334.2h0M245.0 326.7h0M282.4 322.4h0M270.2 336.0h0M274.1 334.1h0M258.8 337.5h0M285.3 323.9h0M271.3 326.9h0M249.3 330.1h0M278.0 308.6h0M256.2 292.4h0M285.8 319.7h0M270.0 335.1h0M257.5 317.7h0M273.0 330.2h0M276.3 324.2h0M246.7 339.1h0M282.0 325.2h0M292.2 318.5h0M256.8 289.6h0M272.7 312.1h0M247.2 337.0h0M277.5 306.8h0M275.1 333.3h0M259.5 339.0h0M281.4 311.4h0M241.8 309.6h0M277.3 333.5h0M281.6 318.5h0M276.8 286.8h0M254.0 284.8h0M284.4 334.8h0M258.0 288.4h0M259.8 307.1h0M242.9 308.2h0M275.2 308.2h0M255.4 329.1h0M246.1 306.7h0M272.7 315.4h0M258.7 329.1h0M280.9 316.1h0M280.4 271.4h0M251.9 325.3h0M275.5 297.3h0M278.3 288.6h0M292.5 313.2h0M276.2 309.1h0M287.6 308.1h0M261.4 326.9h0M253.0 325.3h0M278.2 314.9h0M262.4 324.3h0M282.9 336.1h0M271.2 325.8h0M242.7 322.3h0M278.5 308.6h0M260.3 322.4h0M247.4 314.2h0M247.3 318.9h0M256.9 324.7h0M254.5 295.4h0M276.9 302.1h0M286.9 336.3h0M280.5 290.1h0M273.5 308.9h0M275.9 325.3h0M256.5 318.9h0M277.7 320.7h0M282.2 324.7h0M277.5 317.2h0M277.1 295.5h0M254.7 329.2h0M245.3 316.1h0M252.2 336.3h0M280.7 281.3h0M255.6 327.6h0M244.1 315.3h0M276.4 317.2h0M266.0 331.9h0M252.3 323.9h0M246.9 321.8h0M290.9 323.9h0M274.2 306.5h0M279.0 312.3h0M260.4 318.3h0M256.9 312.4h0M275.7 310.1h0M280.9 281.2h0M254.2 289.6h0M287.1 314.4h0M256.0 335.3h0M244.2 306.9h0M277.3 330.1h0M284.4 319.9h0M244.2 309.8h0M285.3 308.1h0M247.5 310.1h0M243.1 305.3h0M269.0 333.6h0M277.4 292.6h0M248.9 332.9h0M272.0 338.5h0M249.5 307.3h0M243.8 329.9h0M243.9 324.5h0M246.4 310.1h0M289.5 308.5h0M291.6 320.4h0M286.2 309.0h0M272.1 315.6h0M248.5 305.4h0M277.7 292.0h0M283.1 323.2h0M258.8 329.5h0M250.5 313.2h0M276.6 334.1h0M253.6 309.0h0M279.4 328.1h0M289.2 305.0h0M258.6 314.3h0M243.4 320.2h0M257.5 284.5h0M284.2 337.1h0M278.1 335.6h0M245.2 338.8h0M285.2 314.5h0M293.1 308.1h0M244.7 314.5h0M280.1 301.1h0M275.3 332.2h0M255.2 311.4h0M242.3 320.8h0M264.4 334.9h0M277.7 311.2h0M252.5 335.8h0M275.8 331.5h0M244.2 327.9h0M261.3 336.6h0M259.8 330.5h0M283.0 311.6h0M256.9 282.5h0M246.5 333.7h0M283.5 310.6h0M280.8 299.1h0M258.2 306.4h0M260.9 327.4h0M281.0 312.9h0M276.3 302.7h0M289.2 332.9h0M250.6 314.1h0M261.4 333.4h0M272.4 324.3h0M278.8 331.1h0M282.3 326.9h0M272.7 325.6h0M248.6 309.5h0M255.5 277.4h0M274.2 327.2h0M244.4 317.3h0M260.8 328.4h0M245.7 312.9h0M246.4 324.4h0M288.7 309.2h0M253.9 324.2h0M291.2 314.1h0M260.5 328.1h0M274.3 338.3h0M273.9 331.7h0M291.7 330.2h0M259.3 337.6h0M291.7 308.1h0M284.1 326.1h0M260.4 318.2h0M259.7 313.0h0M262.3 310.4h0M276.1 293.9h0M271.9 322.3h0M293.3 321.1h0M289.6 336.0h0M279.4 292.7h0M277.5 308.3h0M279.8 330.7h0M253.1 321.1h0M248.1 335.8h0M283.9 336.2h0M256.7 308.7h0M251.1 309.2h0M289.0 310.0h0M275.4 314.2h0M292.4 307.5h0M250.5 309.0h0M278.6 307.6h0M295.7 305.1h0M257.1 325.7h0M245.7 317.9h0M253.5 332.0h0M275.2 303.9h0M247.6 308.8h0M286.2 337.2h0M256.2 283.6h0M286.5 328.6h0M280.9 327.1h0M245.4 332.7h0M272.4 324.5h0M255.0 287.2h0M249.2 329.1h0M275.1 299.2h0M270.4 324.5h0M275.1 331.6h0M262.7 333.9h0M290.5 334.7h0M257.0 332.1h0M278.3 306.0h0M254.8 312.1h0M245.4 322.7h0M279.6 312.9h0M277.9 287.0h0M246.2 317.7h0M278.9 333.6h0M244.1 333.9h0M239.8 306.4h0M257.5 299.8h0M286.3 327.4h0M279.2 286.1h0M264.7 329.8h0M279.5 327.5h0M275.4 306.9h0M252.0 308.0h0M293.7 311.9h0M261.7 307.6h0M273.1 327.7h0M280.4 335.4h0M276.4 288.4h0M279.5 323.3h0M275.1 302.4h0M260.1 336.8h0M248.7 318.0h0M245.8 324.3h0M260.5 301.7h0M246.7 337.4h0M276.2 316.2h0M277.6 308.0h0M248.7 307.3h0M255.6 277.3h0M287.8 309.4h0M291.2 311.3h0M274.0 325.7h0M275.6 308.2h0M286.7 305.7h0M269.8 337.4h0M283.8 314.4h0M286.6 326.0h0M276.0 308.9h0M260.3 324.2h0M259.1 298.4h0M280.9 297.9h0M283.8 308.0h0M250.7 334.7h0M248.2 305.7h0M285.0 334.5h0M278.6 276.4h0M248.9 311.3h0M284.5 328.8h0M274.7 299.5h0M265.8 331.4h0M276.7 311.1h0M245.6 339.1h0M252.1 316.8h0M262.9 323.1h0M280.7 316.0h0M285.7 320.1h0M264.8 337.5h0M272.1 318.2h0M279.7 334.9h0M289.9 331.3h0M274.8 328.6h0M289.7 311.6h0M284.1 337.8h0M275.9 335.2h0M285.4 308.9h0M269.5 336.8h0M244.9 333.1h0M279.2 326.2h0M277.7 301.6h0M270.3 325.4h0M247.9 319.2h0M275.1 330.4h0M252.3 317.4h0M265.6 331.3h0M293.1 314.1h0M254.3 269.9h0M277.0 285.3h0M291.6 315.5h0M256.4 279.0h0M256.7 289.8h0M274.4 314.7h0M244.7 319.1h0M260.3 326.6h0M285.6 309.0h0M255.6 299.4h0M241.8 305.7h0M280.9 272.5h0M249.0 331.9h0M260.1 316.4h0M272.6 326.4h0M274.3 312.4h0M242.7 322.4h0M273.4 322.9h0M286.6 325.3h0M289.2 308.7h0M287.6 335.6h0M258.8 317.3h0M291.7 328.2h0M282.2 309.9h0M254.5 301.4h0M290.9 309.5h0M261.4 310.4h0M250.6 310.8h0M278.1 327.1h0M263.6 334.0h0M243.2 328.2h0M241.2 307.5h0M258.7 306.3h0M247.8 317.1h0M249.5 330.4h0M289.0 305.1h0M276.4 312.6h0M256.9 338.1h0M273.8 316.3h0M274.1 319.3h0M264.6 338.7h0M276.1 300.3h0M284.2 332.5h0M278.2 292.1h0M274.5 299.8h0M256.0 295.5h0M248.8 321.1h0M252.6 328.7h0M288.5 325.4h0M289.0 332.6h0M279.1 335.9h0M261.2 337.5h0M242.0 319.9h0M278.0 322.2h0M257.0 316.1h0M257.4 320.0h0M269.2 337.7h0M249.5 335.5h0M263.4 327.0h0M289.2 328.1h0M252.6 324.0h0M244.9 337.3h0M244.5 329.1h0M294.4 314.4h0M279.5 328.6h0M277.8 286.0h0M255.1 294.3h0M262.2 335.3h0M288.3 337.3h0M292.6 322.0h0M246.4 306.4h0M280.0 301.9h0M279.1 314.4h0M244.9 335.5h0M251.2 336.3h0M280.9 333.8h0M289.9 309.3h0M255.3 332.3h0M259.0 315.6h0M261.9 327.5h0M245.0 312.3h0M279.2 283.3h0M245.8 325.0h0M293.8 309.9h0M280.7 283.3h0M257.7 310.5h0M291.2 326.6h0M262.0 330.4h0M243.2 310.8h0M276.0 311.6h0M275.1 328.6h0M254.4 270.5h0M243.6 305.9h0M254.8 307.6h0M255.2 300.4h0M277.3 297.0h0M275.3 301.0h0M258.1 290.6h0M279.8 328.7h0M279.3 274.2h0M263.8 318.2h0M260.5 322.3h0M250.7 330.9h0M248.9 307.7h0M249.5 306.6h0M242.5 319.6h0M262.3 328.9h0M279.2 282.1h0M255.5 276.7h0M264.9 337.0h0M244.2 312.2h0M261.8 330.2h0M283.1 328.3h0M276.9 314.3h0M281.0 274.3h0M270.4 329.7h0M287.0 339.7h0M254.5 307.7h0M282.0 333.1h0M279.4 275.3h0M263.1 335.0h0M272.0 321.8h0M255.0 274.8h0M270.9 327.6h0M247.8 331.6h0M273.1 311.5h0M280.1 282.9h0M256.0 330.2h0M241.3 306.0h0M259.5 326.3h0M279.5 329.8h0M262.6 339.2h0M276.4 295.9h0M279.6 274.3h0M242.3 311.4h0M277.5 327.2h0M266.0 337.1h0M255.1 297.1h0M258.1 303.2h0M284.9 306.7h0M271.5 319.5h0M255.0 284.4h0M272.4 335.6h0M280.9 309.1h0M245.1 316.9h0M275.5 337.2h0M244.0 318.2h0M248.9 328.9h0M242.2 316.5h0M279.6 336.8h0M257.4 316.1h0M285.0 305.8h0M255.7 325.5h0M287.4 325.4h0M277.0 326.3h0M271.6 336.9h0M289.2 306.0h0M255.7 291.0h0M288.8 311.4h0M256.8 298.9h0M280.0 272.5h0M275.0 315.3h0M290.8 331.7h0M253.8 325.5h0M259.4 330.4h0M255.4 288.9h0M254.2 283.8h0M287.9 313.6h0M256.5 286.6h0M262.8 320.0h0M276.1 308.1h0M291.2 313.7h0M256.4 310.8h0M293.6 308.0h0M276.1 338.1h0M254.7 330.6h0M272.8 331.7h0M243.2 313.9h0M280.2 309.2h0M289.7 323.9h0M259.5 321.8h0M274.1 328.4h0M262.9 329.6h0M243.2 308.0h0M278.8 325.9h0M257.4 302.7h0M255.8 315.4h0M291.1 310.2h0M279.3 334.1h0M257.7 302.6h0M280.7 312.4h0M248.4 327.2h0M290.5 332.5h0M248.6 324.4h0M254.3 266.0h0M257.8 306.9h0M287.0 320.1h0M256.9 320.2h0M294.2 310.6h0M273.7 312.6h0M293.1 318.7h0M279.9 272.4h0M280.8 331.7h0M252.7 305.1h0M249.5 339.4h0M282.7 313.1h0M281.9 309.1h0M243.2 309.3h0M285.4 318.2h0M249.8 319.2h0M251.0 329.8h0M291.4 330.4h0M286.2 338.4h0M289.7 333.2h0M276.2 323.4h0M245.0 329.5h0M273.3 328.9h0M271.2 329.6h0M243.2 324.4h0M247.8 315.3h0M277.0 302.8h0M273.5 309.8h0M280.5 283.5h0M284.4 318.5h0M282.0 314.8h0M242.4 320.4h0M255.4 339.0h0M284.7 336.4h0M280.3 328.1h0M278.6 292.2h0M272.6 330.8h0M271.9 319.0h0M257.8 323.3h0M256.2 298.7h0M271.2 338.8h0M279.3 324.6h0M258.5 339.1h0M276.3 324.4h0M255.7 299.1h0M276.6 298.4h0M244.7 307.7h0M277.3 325.2h0M273.0 323.0h0M254.6 319.9h0M270.3 330.7h0M245.7 319.4h0M261.9 331.0h0M254.8 308.2h0M262.8 319.0h0M264.7 332.5h0M275.8 305.0h0M244.3 316.6h0M262.3 313.9h0M289.9 338.6h0M256.0 312.9h0M278.3 312.8h0M276.2 311.7h0M249.8 329.7h0M265.9 334.5h0M282.7 312.9h0M261.6 319.6h0M283.7 329.9h0M275.7 302.2h0M251.7 320.1h0M252.4 321.2h0M280.8 309.2h0M269.6 330.7h0M259.7 317.4h0M258.9 339.3h0M278.2 298.5h0M290.7 315.0h0M270.1 328.7h0M283.0 324.9h0M257.1 304.0h0M258.4 290.6h0M263.9 330.8h0M291.9 315.3h0M275.6 331.2h0M254.0 279.1h0M290.5 311.7h0M252.8 338.8h0M275.7 339.0h0M285.2 312.1h0M280.9 294.9h0M247.6 323.1h0M281.3 262.4h0M272.9 317.6h0M290.8 315.3h0M279.5 302.6h0M278.0 313.5h0M256.4 316.9h0M248.4 318.9h0M277.3 318.6h0M272.0 320.1h0M275.8 322.8h0M245.6 314.7h0M279.0 284.7h0M272.7 316.2h0M254.2 283.1h0M274.1 320.4h0M274.7 327.8h0M279.9 302.8h0M244.2 323.4h0M277.3 321.0h0M242.7 320.8h0M260.6 307.6h0M247.7 308.4h0M256.6 337.3h0M284.7 325.5h0M250.4 312.0h0M289.1 315.5h0M271.0 325.0h0M256.4 334.2h0M248.3 306.9h0M283.4 328.6h0M243.4 319.6h0M276.3 334.1h0M244.5 307.0h0M259.1 326.4h0M252.1 331.2h0M282.0 321.3h0M290.1 308.2h0M259.4 325.5h0M250.7 320.1h0M259.3 323.1h0M255.5 302.9h0M287.0 323.1h0M288.7 321.6h0M245.2 334.0h0M281.4 300.3h0M259.3 322.9h0M276.8 305.6h0M262.5 316.5h0M287.9 334.4h0M280.1 320.9h0M243.4 317.0h0M249.5 313.1h0M280.5 274.1h0M243.1 323.5h0M257.1 290.8h0M252.5 336.5h0M291.7 325.3h0M280.0 317.2h0M275.5 337.4h0M257.7 296.5h0M280.9 327.0h0M250.1 314.9h0M263.2 325.0h0M259.1 326.9h0M276.1 306.8h0M247.5 330.9h0M240.6 310.6h0M255.9 325.6h0M289.8 333.3h0M254.7 271.2h0M256.2 300.0h0M289.2 315.7h0M242.3 322.4h0M271.1 331.7h0M283.4 336.2h0M245.6 327.9h0M279.3 312.8h0M269.8 338.6h0M282.0 339.8h0M250.1 309.1h0M274.9 317.3h0M280.0 312.0h0M246.0 306.7h0M271.5 318.7h0M282.9 307.5h0M285.4 338.8h0M278.4 298.1h0M247.7 336.2h0M262.1 319.3h0M288.1 308.8h0M293.7 315.1h0M253.0 312.5h0M250.0 312.5h0M275.0 320.3h0M256.7 332.4h0M284.1 320.4h0M246.1 337.3h0M253.3 305.7h0M289.2 308.3h0M262.2 326.9h0M262.5 329.6h0M286.7 308.8h0M285.2 321.7h0M250.0 336.7h0M255.1 279.6h0M286.5 320.2h0M274.6 328.1h0M274.3 331.5h0M249.0 318.0h0M277.7 298.9h0M250.9 336.8h0M271.2 336.3h0M291.9 312.8h0M260.3 313.2h0M249.0 337.4h0M239.8 305.6h0M256.3 320.5h0M252.4 314.1h0M279.9 281.5h0M272.3 330.7h0M276.2 328.3h0M243.2 305.3h0M278.2 297.9h0M278.0 306.5h0M273.5 317.7h0M257.8 331.2h0M256.6 325.1h0M249.9 328.0h0M280.6 331.2h0M252.5 321.1h0M263.6 319.5h0M265.0 327.0h0M247.5 324.7h0M286.3 322.2h0M246.3 316.7h0M252.6 334.6h0M279.7 333.7h0M281.9 309.0h0M252.4 334.4h0M289.7 326.2h0M257.8 337.0h0M244.4 322.0h0M280.6 325.5h0M252.9 306.7h0M253.1 333.8h0M255.9 330.6h0M247.6 331.1h0M280.9 336.4h0M281.7 329.7h0M288.6 313.1h0M242.6 310.5h0M279.6 329.3h0M255.9 319.1h0M255.6 291.2h0M256.6 297.1h0M284.3 332.0h0M258.4 288.7h0M255.7 324.1h0M254.6 330.4h0M246.8 336.8h0M274.4 302.5h0M282.7 315.7h0M279.7 335.0h0M282.1 313.6h0M280.3 314.8h0M282.1 322.5h0M253.3 311.8h0M283.8 339.2h0M260.2 310.0h0M274.3 321.1h0M288.8 322.9h0M280.2 273.7h0M256.4 308.7h0M279.6 317.6h0M284.8 312.7h0M273.4 318.0h0M277.9 291.2h0M256.5 283.1h0M251.0 327.4h0M282.5 338.1h0M281.2 262.9h0M292.1 325.6h0M254.8 307.5h0M253.4 339.3h0M258.2 313.4h0M289.1 306.6h0M282.2 314.5h0M272.8 335.7h0M281.7 312.4h0M288.4 339.3h0M256.3 320.0h0M294.3 307.2h0M256.8 302.4h0M261.6 320.6h0M281.2 306.2h0M254.6 326.7h0M280.2 303.4h0M284.5 334.7h0M288.6 326.7h0M271.7 330.9h0M290.8 323.1h0M285.3 310.2h0M257.8 300.8h0M281.2 333.9h0M291.4 311.2h0M275.7 333.5h0M262.5 326.0h0M289.6 326.8h0M280.8 322.1h0M272.9 319.9h0M263.3 321.0h0M281.1 334.5h0M251.6 313.5h0M250.7 335.9h0M256.7 338.8h0M282.6 327.3h0M282.8 313.3h0M257.2 328.8h0M259.9 313.1h0M254.0 278.3h0M286.8 334.6h0M293.6 314.9h0M253.2 316.5h0M273.3 321.2h0M249.7 309.3h0M250.2 313.2h0M281.3 312.2h0M271.0 321.6h0M279.5 274.6h0M266.0 332.7h0M251.7 339.1h0M289.6 315.3h0M278.3 286.1h0M241.3 305.7h0M270.2 329.2h0M250.3 306.0h0M280.0 311.2h0M252.1 323.4h0M241.9 308.0h0M243.0 324.5h0M262.4 313.6h0M280.5 333.2h0M251.3 330.4h0M270.1 333.0h0M258.6 317.5h0M254.4 293.2h0M292.1 306.0h0M281.3 332.9h0M286.4 324.3h0M272.8 316.8h0M247.4 307.9h0M248.3 316.4h0M256.7 305.0h0M246.1 321.5h0M250.7 332.6h0M284.7 327.5h0M281.9 317.8h0M281.2 278.8h0M261.0 326.5h0M276.5 308.9h0M284.9 310.0h0M290.2 308.2h0M283.3 328.6h0M273.8 332.8h0M245.3 324.2h0M294.0 310.6h0M246.9 329.4h0M292.1 316.3h0M265.2 329.4h0M252.1 336.7h0M265.5 334.7h0M270.8 322.8h0M256.4 317.9h0M272.5 332.6h0M260.4 301.5h0M248.7 317.7h0M255.7 306.0h0M277.0 298.2h0M250.6 325.3h0M258.3 305.4h0M242.3 309.9h0M277.3 312.3h0M291.3 314.4h0M279.1 315.9h0M251.0 312.9h0M277.3 304.2h0M276.8 313.4h0M255.6 299.4h0M248.9 322.8h0M280.4 288.2h0M282.5 309.5h0M254.0 335.5h0M250.5 321.2h0M274.1 329.4h0M277.6 285.1h0M249.6 305.6h0M245.4 322.0h0M277.5 291.8h0M245.3 323.7h0M258.7 292.0h0M273.9 329.8h0M257.6 305.9h0M245.9 325.2h0M244.2 307.7h0M271.9 318.6h0M284.0 318.9h0M253.9 331.5h0M283.6 305.4h0M251.7 316.7h0M270.4 333.4h0M290.8 330.6h0M281.3 318.5h0M280.0 339.7h0M258.5 302.0h0M294.0 308.1h0M277.8 300.2h0M295.3 308.2h0M255.1 328.8h0M284.1 336.4h0M276.1 331.5h0M269.4 334.1h0M247.1 305.1h0M248.9 322.3h0M272.4 323.3h0M276.9 299.0h0M261.4 314.3h0M256.3 334.0h0M255.0 331.8h0M285.0 311.1h0M278.3 329.3h0M278.3 284.8h0M255.1 303.6h0M245.2 324.6h0M279.9 302.9h0M265.3 333.1h0M255.0 316.3h0M247.1 313.6h0M254.6 283.1h0M281.3 284.7h0M253.3 333.0h0M286.5 325.3h0M272.5 327.2h0M272.8 338.8h0M262.8 332.7h0M290.5 312.6h0M282.8 334.7h0M251.3 316.9h0M252.5 332.8h0M286.1 327.0h0M250.0 324.9h0M288.0 311.6h0M276.9 336.8h0M262.8 336.9h0M251.4 314.9h0M242.2 321.1h0M278.1 334.5h0M282.8 313.7h0M275.9 313.4h0M287.4 337.1h0M291.8 315.3h0M245.8 327.3h0M289.3 311.5h0M247.3 310.0h0M279.0 310.8h0M250.0 308.6h0M284.1 326.4h0M262.0 314.3h0M250.5 312.7h0M253.9 320.8h0M280.3 310.4h0M294.9 311.6h0M278.6 285.2h0M286.0 315.1h0M263.2 315.9h0M259.1 298.2h0M243.7 312.9h0M281.9 321.1h0M275.5 325.0h0M263.0 335.0h0M276.3 313.4h0M273.1 333.2h0M275.4 339.6h0M284.3 337.1h0M279.4 280.3h0M280.6 291.0h0M257.3 299.4h0M258.2 313.5h0M256.9 293.7h0M259.3 306.9h0M274.5 305.0h0M262.2 317.4h0M273.2 339.1h0M278.2 320.9h0M255.7 336.3h0M289.0 330.4h0M255.3 286.1h0M254.7 285.9h0M265.1 334.7h0M278.9 309.9h0M287.3 307.1h0M262.0 331.9h0M290.9 329.9h0M277.2 290.2h0M260.6 307.3h0M259.1 320.7h0M258.7 303.6h0M242.1 311.1h0M270.2 332.1h0M256.4 336.1h0M255.3 323.3h0M244.3 306.8h0M276.1 319.6h0M255.4 305.7h0M259.4 323.8h0M262.4 327.1h0M290.8 334.7h0M290.7 334.2h0M284.0 337.0h0M257.7 321.7h0M249.9 312.8h0M260.0 331.6h0M285.4 330.2h0M283.7 324.5h0M264.9 328.3h0M258.8 293.7h0M284.0 328.6h0M281.9 329.4h0M245.9 337.2h0M284.5 315.9h0M263.4 335.6h0M247.9 315.3h0M253.3 338.0h0M250.7 309.4h0M274.5 315.5h0M249.4 332.0h0M282.5 318.4h0M277.1 288.1h0M275.2 330.1h0M286.3 306.9h0M280.2 314.5h0M278.8 322.7h0M265.8 330.1h0M260.4 311.7h0M273.7 325.4h0M252.5 306.1h0M261.1 315.6h0M270.2 326.3h0M255.5 296.1h0M244.5 319.1h0M255.4 320.5h0M284.8 324.6h0M250.8 315.3h0M265.3 333.0h0M265.7 339.0h0M283.8 335.3h0M261.6 314.1h0M262.7 337.6h0M252.5 306.9h0M258.8 332.7h0M262.0 334.9h0M261.2 326.6h0M292.5 322.7h0M256.5 317.6h0M244.9 305.4h0M270.5 326.0h0M278.8 283.9h0M280.9 309.3h0M286.4 306.4h0M248.2 333.6h0M281.2 271.8h0M250.1 316.5h0M259.6 322.9h0M256.6 326.2h0M273.5 325.2h0M266.5 339.2h0M289.7 319.5h0M258.2 313.0h0M278.2 287.7h0M276.7 295.5h0M243.7 307.5h0M260.9 321.2h0M280.3 328.0h0M251.2 336.1h0M277.8 325.2h0M257.7 331.5h0M263.9 323.1h0M254.3 337.3h0M265.5 339.2h0M286.1 320.2h0M263.5 324.4h0M277.8 302.7h0M253.1 309.0h0M249.3 337.0h0M283.1 313.3h0M273.8 317.4h0M256.7 303.7h0M249.3 332.1h0M292.1 308.4h0M288.5 320.3h0M257.6 330.6h0M282.0 314.6h0M287.6 307.9h0M291.5 308.0h0M256.1 312.6h0M292.0 305.3h0M243.3 317.7h0M288.0 307.4h0M245.3 325.5h0M259.3 304.7h0M277.9 302.3h0M276.9 324.3h0M258.0 324.7h0M252.7 310.8h0M247.0 320.3h0M283.4 314.9h0M270.2 332.5h0M277.9 338.9h0M241.8 309.7h0M252.2 307.6h0M249.2 333.4h0M283.7 328.6h0M276.2 294.0h0M244.3 334.9h0M258.4 315.5h0M270.4 327.6h0M285.1 339.6h0M254.8 281.4h0M279.8 303.9h0M293.2 320.0h0M262.1 317.4h0M272.4 330.0h0M248.3 322.9h0M257.8 321.9h0M245.0 327.2h0M291.7 318.9h0M248.7 313.7h0M277.3 299.2h0M272.1 328.9h0M264.7 325.6h0M248.7 307.9h0M278.5 290.9h0M274.8 333.3h0M245.8 335.2h0M257.3 333.2h0M249.8 317.3h0M258.6 323.6h0M280.6 276.4h0M251.3 318.9h0M293.1 308.8h0M250.6 336.2h0M260.8 314.9h0M279.4 280.8h0M254.0 317.2h0M283.1 315.0h0M256.5 326.2h0M256.8 336.6h0M275.1 322.9h0M243.4 320.5h0M256.4 311.2h0M251.6 306.2h0M284.9 310.5h0M278.2 288.1h0M293.8 305.6h0M281.2 263.5h0M251.2 320.5h0M259.3 310.8h0M271.5 322.1h0M245.7 336.3h0M277.7 294.3h0M256.2 290.9h0M287.4 336.7h0M270.9 330.7h0M283.7 323.2h0M252.6 339.0h0M290.5 310.1h0M265.0 330.4h0M288.8 310.4h0M265.4 329.4h0M263.3 338.4h0M251.1 333.8h0M287.6 307.0h0M254.0 277.3h0M256.0 285.1h0M252.6 334.6h0M257.9 298.1h0M286.8 339.1h0M287.2 311.5h0M277.9 292.2h0M293.4 307.9h0M289.9 339.5h0M280.5 273.7h0M266.5 334.7h0M275.8 328.3h0M252.8 332.1h0M290.9 327.1h0M261.9 332.5h0M262.3 336.5h0M260.4 319.3h0M289.4 339.5h0M275.0 328.1h0M290.5 322.5h0M243.2 316.9h0M272.5 332.8h0M257.7 317.3h0M274.3 334.5h0M242.5 308.3h0M278.0 281.8h0M280.0 286.1h0M253.6 331.2h0M282.4 309.7h0M255.2 316.4h0M263.8 335.1h0M275.1 332.6h0M261.5 312.6h0M280.7 309.6h0M242.6 307.1h0M288.5 335.5h0M257.8 339.1h0M271.0 338.5h0M263.2 338.2h0M279.4 278.8h0M265.5 335.1h0M244.6 331.9h0M280.3 306.2h0M258.7 310.7h0M249.7 332.1h0M276.1 306.1h0M255.0 322.2h0M256.5 323.1h0M280.1 320.5h0M294.3 306.8h0M254.2 324.3h0M248.0 321.5h0M257.2 337.1h0M278.1 291.2h0M272.5 332.3h0M287.6 311.2h0M264.7 335.9h0M252.9 323.7h0M242.3 319.0h0M276.5 306.3h0M284.2 327.1h0M292.9 317.4h0M291.7 326.9h0M292.6 310.9h0M249.9 314.6h0M287.8 308.9h0M280.1 337.3h0M270.9 326.9h0M279.8 286.3h0M271.6 339.3h0M285.4 328.2h0M270.0 336.9h0M264.0 339.5h0M284.9 315.1h0M259.0 316.2h0M246.5 313.2h0M245.1 314.6h0M252.3 335.0h0M249.9 325.3h0M280.9 265.9h0M276.8 299.3h0M250.7 339.8h0M284.0 328.3h0M289.2 315.8h0M280.7 281.2h0M257.2 297.0h0M255.3 308.6h0M293.4 313.6h0M277.3 307.3h0M277.9 279.6h0M244.5 319.1h0M245.5 306.9h0M289.6 334.8h0M276.8 314.7h0M283.5 332.8h0M271.2 321.5h0M290.8 335.1h0M248.8 308.1h0M257.7 338.2h0M280.5 268.6h0M280.5 332.9h0M246.3 313.8h0M275.9 308.5h0M273.3 325.3h0M274.3 312.8h0M251.0 332.6h0M254.6 276.6h0M283.9 313.1h0M247.6 323.9h0M249.9 333.0h0M256.8 304.6h0M293.7 305.4h0M259.1 294.0h0M279.4 322.8h0M283.5 324.8h0M277.8 303.9h0M250.9 313.4h0M288.1 308.7h0M243.7 307.0h0M290.3 331.2h0M283.6 318.7h0M284.6 313.0h0M273.9 321.5h0M268.7 335.7h0M245.1 328.7h0M285.7 339.5h0M262.3 322.6h0M263.4 337.4h0M245.8 312.0h0M279.6 291.2h0M286.2 321.5h0M294.3 306.9h0M243.9 323.7h0M261.8 326.1h0M258.9 316.2h0M283.9 310.9h0M254.6 339.6h0M286.1 313.6h0M277.9 283.3h0M277.8 321.0h0M291.5 308.3h0M253.2 338.7h0M249.6 308.4h0M255.9 295.0h0M249.3 308.7h0M288.3 306.7h0M254.3 301.8h0M276.4 307.5h0M290.1 311.4h0M283.5 321.1h0M261.5 333.1h0M281.2 309.5h0M248.5 337.8h0M280.6 285.2h0M255.4 316.7h0M252.3 331.0h0M262.2 320.7h0M242.8 307.7h0M279.9 299.0h0M247.9 318.6h0M292.1 311.7h0M256.2 299.4h0M286.0 320.6h0M278.6 297.2h0M285.9 333.1h0M281.2 314.7h0M277.4 314.1h0M274.3 308.8h0M270.2 325.7h0M280.2 305.9h0M289.9 308.5h0M246.8 313.9h0M293.4 317.2h0M278.5 315.1h0M281.4 337.6h0M244.9 320.4h0M260.3 320.3h0M263.9 332.6h0M285.6 316.9h0M264.3 332.6h0M242.3 305.9h0M260.8 332.2h0M246.5 330.2h0M249.4 335.6h0M254.0 313.4h0M257.1 319.9h0M270.7 339.1h0M261.4 336.3h0M279.0 281.4h0M257.1 299.8h0M271.3 328.1h0M261.0 330.8h0M260.8 309.8h0M257.0 302.2h0M251.8 331.4h0M275.4 299.8h0M251.1 312.4h0M249.4 306.6h0M279.7 284.9h0M259.7 314.5h0M262.3 328.9h0M283.2 318.5h0M271.3 318.9h0M273.6 317.8h0M264.5 326.9h0M244.7 334.0h0M248.0 330.3h0M271.7 329.3h0M243.2 320.7h0M258.5 293.1h0M286.1 333.2h0M258.6 326.5h0M279.9 315.1h0M255.8 326.2h0M247.7 306.6h0M279.0 279.3h0M292.4 318.0h0M244.5 309.7h0M248.7 329.0h0M242.9 310.7h0M256.2 300.3h0M241.2 312.4h0M283.4 333.8h0M292.1 323.9h0M284.5 309.6h0M280.6 320.5h0M247.8 331.3h0M245.9 321.2h0M240.7 311.4h0M277.7 317.8h0M263.7 323.1h0M262.9 330.6h0M265.5 332.9h0M253.3 326.7h0M288.4 330.9h0M279.9 308.3h0M256.2 280.4h0M257.9 317.5h0M251.2 305.7h0M256.1 319.4h0M282.8 339.1h0M251.7 306.7h0M265.0 329.7h0M284.7 318.7h0M276.6 291.5h0M261.1 312.9h0M250.0 337.6h0M292.6 318.4h0M258.6 319.1h0M280.1 332.3h0M285.5 306.3h0M274.4 299.9h0M278.6 276.7h0M274.1 326.4h0M245.0 334.3h0M258.2 327.3h0M262.2 309.8h0M287.7 334.9h0M280.4 316.9h0M281.3 325.2h0M250.7 321.9h0M249.7 325.8h0M248.4 306.7h0M291.1 330.0h0M280.4 283.3h0M275.5 324.4h0M283.2 309.2h0M247.4 323.7h0M261.9 319.6h0M257.4 324.1h0M242.6 306.6h0M278.6 275.6h0M280.6 270.8h0M276.7 300.9h0M284.7 332.8h0M271.9 321.2h0M276.6 290.4h0M255.4 324.5h0M255.8 291.9h0M263.5 319.7h0M256.1 279.6h0M279.4 277.0h0M256.5 315.9h0M282.3 305.8h0M258.7 323.8h0M251.2 332.4h0M281.8 313.1h0M254.1 271.3h0M263.5 326.4h0M244.1 312.5h0M283.2 322.9h0M292.1 328.2h0M278.0 339.3h0M250.3 310.4h0M278.4 308.1h0M276.1 299.0h0M244.3 314.1h0M282.3 330.3h0M282.1 335.8h0M254.0 271.7h0M245.7 314.5h0M246.2 318.4h0M254.0 297.8h0M278.6 324.6h0M289.5 335.4h0M281.6 313.1h0M256.0 294.7h0M280.0 306.0h0M281.2 287.4h0M260.9 327.5h0M288.3 314.6h0M290.7 312.5h0M246.2 305.5h0M290.7 321.5h0M292.2 307.3h0M272.1 323.9h0M255.4 328.4h0M286.8 316.8h0M288.7 311.0h0M262.0 315.4h0M244.1 326.2h0M290.8 316.4h0M251.7 314.0h0M253.5 310.1h0M247.2 315.8h0M278.1 296.8h0M247.3 325.6h0M287.3 323.5h0M279.2 287.6h0M288.4 314.0h0M280.1 329.7h0M257.8 293.5h0M255.7 338.0h0M273.1 324.1h0M279.7 277.7h0M258.8 308.6h0M279.4 285.7h0M290.1 312.5h0M275.7 329.3h0M249.6 323.8h0M271.9 338.8h0M285.5 325.8h0M260.6 322.9h0M260.3 303.9h0M281.2 262.9h0M253.0 313.1h0M278.2 311.2h0M261.7 308.6h0M284.7 338.2h0M270.5 329.2h0M271.2 337.8h0M274.1 338.2h0M275.6 305.7h0M258.7 301.7h0M256.0 321.3h0M279.7 322.4h0M247.6 316.6h0M255.8 276.7h0M288.9 321.2h0M285.2 338.2h0M249.0 319.5h0M254.8 322.4h0M285.2 310.0h0M253.7 320.7h0M280.9 331.5h0M284.7 335.7h0M257.9 297.4h0M244.7 308.5h0M282.3 327.4h0M261.5 314.9h0M255.1 304.4h0M256.6 321.2h0M275.5 303.2h0M254.8 276.1h0M290.1 334.5h0M253.0 337.8h0M254.3 305.7h0M256.4 301.7h0M282.2 309.2h0M246.7 310.7h0M285.4 314.6h0M290.9 328.1h0M291.8 317.7h0M281.4 288.5h0M259.3 331.3h0M257.5 304.2h0M289.2 334.0h0M277.2 285.8h0M263.5 339.6h0M254.7 268.5h0M250.9 317.5h0M275.7 321.8h0M293.3 306.9h0M293.4 310.2h0M256.6 330.5h0M256.0 325.9h0M279.4 293.6h0M277.2 314.9h0M260.8 306.5h0M253.6 308.8h0M284.6 306.1h0M293.4 314.6h0M289.0 316.9h0M247.1 325.9h0M275.4 322.9h0M277.6 313.3h0M277.8 332.6h0M246.1 324.8h0M248.7 319.0h0M257.8 315.1h0M274.0 306.7h0M289.4 330.0h0M262.1 324.2h0M276.0 318.5h0M280.3 339.1h0M280.5 308.6h0M263.5 338.6h0M253.4 332.5h0M279.7 321.3h0M262.9 335.4h0M272.6 323.3h0M276.9 335.2h0M278.5 331.1h0M286.2 339.4h0M281.9 324.5h0M282.8 329.7h0M275.6 293.3h0M278.8 334.6h0M278.0 318.8h0M277.0 316.5h0M261.0 328.6h0M269.7 332.7h0M255.9 286.1h0M291.5 313.6h0M246.9 326.2h0M255.7 315.0h0M279.9 272.1h0M265.9 334.5h0M257.2 308.2h0M279.3 272.6h0M289.6 334.3h0M245.4 314.3h0M275.6 331.3h0M273.1 307.8h0M252.8 313.9h0M251.0 321.2h0M290.6 319.7h0M281.9 329.7h0M275.0 323.0h0M258.6 302.3h0M246.9 332.0h0M286.5 311.7h0M279.2 283.7h0M253.5 306.3h0M280.1 312.3h0M290.9 329.2h0M254.1 266.1h0M290.8 329.8h0M291.2 307.1h0M272.5 330.2h0M282.3 314.1h0M279.7 312.2h0M290.4 335.2h0M287.0 327.5h0M287.8 329.5h0M258.2 309.0h0M276.5 310.6h0M246.4 336.5h0M277.9 285.9h0M272.8 323.5h0M242.7 305.0h0M249.1 321.5h0M277.1 296.5h0M277.9 329.0h0M277.5 301.0h0M280.2 330.1h0M243.4 317.9h0M255.4 310.9h0M279.7 314.3h0M279.4 294.6h0M254.6 294.2h0M279.0 311.7h0M290.9 330.1h0M281.3 261.1h0M257.5 339.0h0M255.0 323.0h0M256.7 328.6h0M288.7 321.9h0M278.5 306.3h0M257.2 289.4h0M276.6 320.7h0M278.6 328.5h0M257.4 339.4h0M264.1 330.4h0M277.1 313.1h0M250.1 313.3h0M247.6 329.6h0M277.9 336.0h0M286.9 310.2h0M254.8 328.2h0M243.3 318.6h0M268.2 337.9h0M254.5 328.5h0M251.0 321.9h0M282.9 322.5h0M281.1 277.2h0M258.8 308.7h0M278.6 337.1h0M256.7 290.8h0M294.2 313.6h0M285.0 325.3h0M253.1 328.1h0M285.7 326.4h0M280.1 332.2h0M287.0 323.4h0M277.5 325.4h0M254.9 310.3h0M275.0 332.9h0M249.3 316.9h0M251.9 339.1h0M262.8 313.7h0M245.8 327.6h0M250.7 309.1h0M260.9 303.8h0M250.9 306.7h0M276.8 300.8h0M248.8 332.4h0M287.4 307.1h0M278.9 289.9h0M277.4 285.7h0M281.5 336.1h0M249.5 319.8h0M251.0 333.7h0M288.2 320.7h0M257.4 317.1h0M252.2 331.4h0M263.6 322.4h0M278.6 322.4h0M249.1 334.7h0M275.4 319.9h0M283.3 327.9h0M243.8 323.0h0M255.1 287.9h0M272.2 325.9h0M273.5 309.6h0M288.3 320.0h0M254.6 311.3h0M255.6 311.8h0M264.2 333.8h0M260.8 323.2h0M261.7 329.4h0M278.7 309.6h0M244.9 329.9h0M254.4 331.6h0M255.0 291.3h0M259.7 328.7h0M270.2 325.2h0M277.2 293.0h0M276.7 289.1h0M290.0 307.2h0M286.4 309.5h0M255.4 275.8h0M287.7 332.0h0M286.3 339.1h0M261.5 307.7h0M253.1 310.1h0M256.7 313.3h0M286.3 332.9h0M272.4 320.8h0M252.1 338.1h0M277.5 302.8h0M278.7 320.0h0M290.2 310.3h0M248.0 329.5h0M287.8 322.6h0M285.9 307.2h0M276.7 338.5h0M290.3 334.6h0M286.3 314.0h0M292.1 307.5h0M270.3 328.5h0M286.3 307.8h0M244.2 331.8h0M276.5 290.7h0M245.3 313.2h0M256.0 306.2h0M288.4 308.0h0M275.2 337.1h0M261.1 310.5h0M274.7 328.6h0M260.4 320.2h0M253.0 331.2h0M277.7 282.4h0M279.5 313.2h0M291.9 305.7h0M258.4 303.7h0M256.5 311.0h0M268.7 338.0h0M270.2 330.3h0M285.1 324.8h0M244.7 336.9h0M257.7 327.7h0M244.5 312.5h0M264.8 326.0h0M266.1 334.3h0M254.1 300.3h0M274.0 338.6h0M278.6 296.7h0M280.9 337.5h0M278.6 335.5h0M241.6 315.8h0M284.5 307.6h0M279.8 288.1h0M260.6 315.5h0M289.2 325.1h0M272.7 333.9h0M255.4 277.4h0M281.9 336.4h0M273.4 338.0h0M251.6 314.2h0M276.2 304.2h0M270.9 321.4h0M264.4 332.0h0M276.3 307.7h0M257.5 315.2h0M271.4 330.7h0M275.9 307.8h0M272.9 318.0h0M261.3 324.9h0M250.5 320.1h0M243.8 309.5h0M271.3 322.8h0M273.1 310.8h0M257.9 328.8h0M290.2 337.8h0M256.9 313.0h0M270.2 333.7h0M258.6 333.9h0M255.7 281.9h0M272.1 327.2h0M275.3 297.7h0M244.5 333.4h0M252.3 326.9h0M289.1 317.2h0M273.8 336.6h0M283.7 326.5h0M274.3 318.3h0M280.6 313.4h0M294.8 311.4h0M271.9 315.8h0M252.7 333.6h0M283.4 339.4h0M278.4 285.7h0M287.3 331.1h0M255.9 277.6h0M277.5 321.8h0M258.5 338.2h0M285.5 315.0h0M261.1 323.0h0M287.9 313.4h0M287.0 325.3h0M263.3 327.2h0M255.4 336.5h0M275.0 297.8h0M256.7 295.0h0M289.9 336.1h0M273.8 312.0h0M286.1 318.8h0M250.3 336.5h0M288.8 338.0h0M280.5 306.7h0M284.7 326.8h0M283.9 313.7h0M264.1 326.8h0M253.5 335.9h0M275.9 300.2h0M278.1 302.9h0M250.8 311.7h0M277.6 330.9h0M256.2 299.3h0M284.6 305.1h0M287.1 316.4h0M254.1 308.2h0M280.1 312.8h0M255.0 333.0h0M278.7 328.1h0M255.8 300.7h0M252.0 321.9h0M266.3 336.8h0M279.8 269.0h0M248.1 311.5h0M274.7 325.7h0M279.6 324.3h0M242.2 316.9h0M272.4 323.3h0M252.3 308.5h0M273.7 325.4h0M246.9 307.9h0M294.1 313.7h0M244.7 323.8h0M253.9 334.8h0M248.1 338.6h0M290.6 322.4h0M283.4 315.7h0M249.0 323.0h0M257.3 318.2h0M252.8 308.2h0M245.5 336.0h0M281.9 308.4h0M292.5 326.4h0M279.7 278.3h0M282.7 323.2h0M255.1 309.7h0M254.7 323.8h0M260.2 304.2h0M254.5 274.1h0M260.1 310.4h0M247.6 339.1h0M272.5 317.7h0M269.3 337.3h0M278.8 291.2h0M253.7 318.1h0M258.2 307.8h0M260.8 330.5h0M291.1 329.2h0M289.8 318.5h0M247.3 332.4h0M274.5 319.8h0M243.5 323.5h0M284.7 334.5h0M276.7 332.5h0M255.4 318.4h0M255.5 301.4h0M275.4 310.7h0M248.2 310.9h0M279.3 287.1h0M277.1 321.9h0M278.5 294.2h0M241.7 305.6h0M253.5 327.5h0M293.0 323.6h0M271.2 338.7h0M276.1 330.3h0M255.3 293.1h0M272.7 328.7h0M253.8 333.8h0M277.7 293.3h0M274.8 338.6h0M250.7 320.8h0M245.5 324.7h0M253.0 310.1h0M260.8 329.2h0M255.4 301.7h0M257.7 311.2h0M264.5 337.3h0M258.8 319.7h0M261.4 313.7h0M260.1 327.5h0M259.5 320.4h0M275.5 339.7h0M283.7 319.5h0M248.0 315.1h0M288.5 306.1h0M273.5 310.1h0M279.1 274.9h0M279.7 325.0h0M260.0 309.8h0M251.8 319.8h0M277.0 333.6h0M247.6 310.8h0M250.3 325.7h0M290.9 308.2h0M253.7 328.8h0M287.8 333.3h0M277.8 307.0h0M287.7 323.8h0M273.7 308.8h0M276.5 299.7h0M281.4 278.7h0M246.9 320.5h0M277.9 305.6h0M257.2 292.4h0M260.1 315.0h0M249.6 336.4h0M280.4 305.6h0M259.5 299.8h0M287.0 333.9h0M277.7 285.1h0M286.6 315.0h0M278.5 336.6h0M281.8 337.7h0M249.1 323.2h0M240.9 311.9h0M257.6 303.9h0M244.4 328.6h0M254.1 332.1h0M263.7 320.0h0M259.0 294.5h0M278.1 308.2h0M257.2 289.4h0M257.9 291.8h0M254.9 282.7h0M284.3 339.8h0M289.5 320.5h0M254.6 306.5h0M253.6 336.5h0M280.6 274.3h0M256.6 326.7h0M262.2 318.1h0M249.1 316.9h0M261.8 332.1h0M270.9 336.8h0M254.3 291.6h0M253.0 305.6h0M274.9 329.9h0M286.7 326.0h0M272.9 323.9h0M258.1 303.9h0M257.3 321.8h0M287.1 318.3h0M272.8 338.1h0M285.4 324.4h0M278.9 291.4h0M272.3 329.5h0M255.2 331.5h0M284.5 311.7h0M261.1 335.8h0M280.6 288.0h0M284.3 309.2h0M282.1 337.7h0M281.3 336.2h0M278.2 306.3h0M244.3 327.5h0M253.1 327.7h0M279.5 272.2h0M291.7 309.5h0M254.6 275.5h0M250.9 324.3h0M285.7 336.6h0M258.9 312.5h0M273.4 330.5h0M242.7 315.0h0M271.8 321.2h0M273.1 339.7h0M284.9 335.1h0M271.4 327.3h0M252.0 334.9h0M282.0 321.7h0M292.3 317.2h0M244.5 321.4h0M248.0 338.5h0M251.7 312.7h0M260.1 337.8h0M283.9 311.2h0M245.4 308.5h0M272.4 315.1h0M277.7 310.8h0M249.1 339.0h0M286.2 334.0h0M260.9 321.8h0M249.7 338.8h0M290.6 307.6h0M254.5 324.9h0M279.6 273.9h0M294.9 310.2h0M285.7 330.8h0M251.8 333.1h0M291.1 318.0h0M261.2 309.0h0M284.1 310.8h0M253.6 325.2h0M255.8 335.1h0M252.9 330.9h0M250.9 314.0h0M244.0 314.5h0M278.0 329.6h0M280.2 338.7h0M255.1 272.7h0M246.2 306.0h0M263.5 331.6h0M258.1 290.0h0M248.1 310.6h0M243.4 320.8h0M254.9 281.9h0M256.5 314.7h0M257.5 318.7h0M264.3 337.9h0M254.5 290.0h0M260.3 326.1h0M245.3 317.0h0M284.2 320.4h0M275.5 327.8h0M248.3 320.8h0M280.8 273.6h0M256.2 336.8h0M249.0 315.7h0M268.4 337.2h0M264.7 337.7h0M252.0 325.1h0M281.3 284.9h0M240.0 307.9h0M263.0 317.8h0M294.0 312.1h0M289.0 322.7h0M252.9 319.8h0M260.1 313.1h0M275.8 323.5h0M258.7 311.5h0M270.7 339.1h0M286.7 327.6h0M251.8 313.9h0M293.6 315.3h0M273.2 327.0h0M242.0 312.1h0M280.4 271.1h0M251.2 317.7h0M255.1 285.5h0M289.0 325.6h0M274.5 336.7h0M287.9 330.7h0M274.3 314.4h0M280.9 297.0h0M264.7 330.9h0M253.3 313.3h0M250.3 313.3h0M245.1 318.7h0M256.1 304.0h0M250.3 319.4h0M245.0 322.9h0M254.7 326.3h0M270.6 329.6h0M249.2 312.5h0M273.7 319.2h0M288.4 315.7h0M280.7 339.6h0M256.8 314.4h0M244.4 308.4h0M261.8 333.1h0M258.9 311.6h0M259.1 296.0h0M253.3 320.9h0M264.2 329.2h0M242.0 319.8h0M258.6 337.8h0M266.6 335.0h0M260.3 310.2h0M246.2 314.4h0M259.4 304.9h0M255.6 315.9h0M266.6 336.1h0M257.4 315.9h0M257.1 291.9h0M247.9 311.8h0M263.1 330.2h0M291.7 324.2h0M280.7 324.1h0M253.1 333.4h0M253.7 312.4h0M279.6 279.1h0M282.3 305.8h0M240.5 311.0h0M264.8 337.9h0M265.2 327.6h0M247.0 310.4h0M284.0 336.1h0M270.8 328.4h0M280.2 272.6h0M244.2 305.1h0M284.1 314.3h0M279.9 336.3h0M288.7 312.1h0M280.6 303.6h0M280.5 337.9h0M287.8 328.6h0M243.5 324.2h0M280.4 281.0h0M283.1 337.5h0M281.9 323.9h0M270.0 327.6h0M264.4 337.3h0M245.5 318.8h0M247.9 310.0h0M253.2 335.0h0M288.2 309.9h0M271.9 319.9h0M255.4 296.5h0M285.9 327.2h0M277.4 316.9h0M271.4 330.3h0M254.0 313.5h0M284.2 318.3h0M284.5 306.3h0M279.4 303.7h0M255.4 327.1h0M290.2 309.3h0M254.1 308.5h0M260.0 328.2h0M276.0 305.8h0M261.5 327.0h0M249.2 335.7h0M274.6 322.0h0M279.7 292.9h0M288.6 324.6h0M260.2 307.1h0M292.0 311.5h0M281.1 269.4h0M261.6 330.2h0M263.1 330.1h0M255.3 326.8h0M280.8 321.5h0M254.8 332.6h0M258.9 294.1h0M260.8 330.9h0M293.0 314.1h0M251.1 327.4h0M278.2 307.0h0M241.8 315.5h0M245.3 306.0h0M257.7 322.7h0M254.4 317.8h0M256.9 296.6h0M257.1 304.5h0M269.5 330.0h0M250.2 319.8h0M246.8 337.2h0M240.6 306.1h0M260.1 312.0h0M284.1 313.6h0M256.3 331.6h0M279.5 333.2h0M283.6 308.2h0M257.4 328.0h0M258.1 299.5h0M244.3 309.6h0M277.0 331.3h0M282.1 327.2h0M281.2 311.0h0M291.6 323.3h0M250.4 314.1h0M254.9 300.7h0M249.4 317.2h0M276.4 332.7h0M288.9 323.3h0M254.0 285.1h0M256.8 291.6h0M245.6 319.2h0M257.4 315.8h0M292.3 323.5h0M291.9 330.5h0M255.9 305.1h0M272.5 314.0h0M275.7 331.6h0M274.4 318.3h0M271.3 331.9h0M282.0 308.5h0M254.4 314.1h0M280.6 264.7h0M280.0 311.2h0M249.7 320.4h0M276.0 306.5h0M271.0 336.4h0M245.0 328.9h0M245.6 327.9h0M288.8 333.0h0M286.8 307.0h0M252.2 320.4h0M256.0 331.7h0M254.2 334.2h0M279.3 275.2h0M291.6 326.3h0M278.8 295.2h0M256.6 306.6h0M285.5 315.6h0M276.0 314.5h0M244.0 307.1h0M273.8 337.5h0M276.4 334.0h0M273.5 323.6h0M263.7 328.4h0M289.4 329.1h0M258.5 299.9h0M275.7 328.2h0M285.9 321.2h0M258.6 302.8h0M254.5 325.0h0M282.5 311.2h0M280.2 304.5h0M247.9 310.9h0M283.7 325.0h0M284.6 305.0h0M256.2 298.2h0M251.9 306.5h0M248.8 326.2h0M259.2 328.3h0M280.8 301.2h0M279.3 309.3h0M273.6 329.4h0M268.4 335.6h0M265.1 335.1h0M284.9 330.8h0M276.3 303.9h0M248.1 320.1h0M260.8 324.9h0M259.2 333.7h0M281.6 313.3h0M284.9 316.0h0M278.5 329.2h0M252.2 315.4h0M273.6 328.5h0M246.2 309.0h0M250.4 323.8h0M257.4 322.9h0M278.5 278.5h0M256.3 290.2h0M257.0 337.8h0M249.5 307.8h0M293.1 315.6h0M245.3 327.2h0M268.2 336.8h0M257.8 302.8h0M259.6 327.7h0M249.9 327.7h0M251.8 315.9h0M257.4 309.4h0M284.7 317.1h0M285.6 323.2h0M255.8 330.6h0M269.1 333.4h0M248.0 322.2h0M275.0 339.1h0M285.5 317.8h0M272.6 335.9h0M281.4 282.7h0M281.7 305.0h0M254.8 273.6h0M261.5 314.5h0M249.6 315.1h0M274.6 303.2h0M242.5 316.1h0M278.7 330.8h0M272.9 330.4h0M263.0 325.0h0M274.6 300.8h0M269.2 339.3h0M254.7 280.6h0M275.6 305.5h0M283.9 311.3h0M263.1 324.0h0M277.2 308.0h0M273.5 339.1h0M264.5 328.8h0M278.2 303.9h0M284.1 314.5h0M275.2 313.8h0M245.0 320.2h0M269.0 336.3h0M272.2 335.6h0M256.1 280.7h0M252.8 339.7h0M247.5 318.6h0M260.4 311.9h0M243.0 323.2h0M257.3 325.1h0M254.5 284.3h0M292.8 324.4h0M284.6 337.9h0M255.7 296.5h0M269.8 333.3h0M292.7 312.9h0M253.3 312.4h0M257.0 309.0h0M279.9 280.7h0M280.3 290.9h0M247.3 327.6h0M260.9 324.3h0M293.4 306.5h0M276.6 306.8h0M259.8 336.3h0M276.5 334.9h0M292.5 305.1h0M258.0 305.6h0M283.8 331.7h0M289.9 332.8h0M291.4 311.6h0M284.6 311.6h0M257.9 308.9h0M273.2 326.6h0M280.5 317.3h0M254.9 325.4h0M280.1 286.5h0M290.0 306.5h0M241.5 317.3h0M273.5 307.4h0M278.0 337.0h0M279.1 338.7h0M281.7 324.8h0M259.4 324.1h0M277.0 315.6h0M253.1 336.2h0M281.1 274.9h0M277.0 315.0h0M256.4 335.2h0M262.7 321.3h0M249.0 308.7h0M262.2 338.7h0M255.6 286.9h0M250.8 308.3h0M281.1 329.2h0M252.7 307.5h0M282.6 328.2h0M258.7 332.9h0M253.3 326.3h0M282.6 310.0h0M283.2 322.8h0M253.0 324.5h0M280.5 281.7h0M278.1 338.6h0M263.5 321.0h0M278.4 314.1h0M247.3 325.7h0M256.5 328.7h0M283.7 316.1h0M276.0 309.8h0M244.6 319.6h0M251.4 332.4h0M255.6 323.5h0M261.1 324.6h0M259.1 314.5h0M272.4 339.5h0M268.9 338.8h0M254.5 339.0h0M256.0 317.1h0M257.1 297.7h0M277.1 304.0h0M279.0 274.8h0M247.6 333.8h0M280.1 314.4h0M275.8 302.3h0M256.3 297.1h0M253.2 323.2h0M276.0 317.2h0M280.0 292.8h0M279.4 331.1h0M287.1 311.2h0M247.1 313.6h0M249.0 325.5h0M275.2 332.9h0M277.2 299.4h0M279.2 297.5h0M291.9 307.4h0M255.2 304.5h0M254.9 269.3h0M281.7 330.1h0M278.2 311.0h0M263.1 338.7h0M254.6 314.3h0M255.8 337.5h0M254.5 330.5h0M258.2 319.3h0M258.2 298.1h0M279.2 293.2h0M273.2 332.9h0M278.3 287.4h0M286.7 321.3h0M283.3 329.1h0M277.0 318.0h0M274.1 330.0h0M279.1 304.0h0M288.1 305.3h0M248.2 308.5h0M278.6 297.1h0M260.2 314.9h0M278.7 283.8h0M268.9 336.3h0M257.6 316.7h0M278.6 291.1h0M245.3 318.1h0M274.7 320.6h0M258.6 294.3h0M285.6 305.3h0M279.4 281.8h0M279.9 285.3h0M262.7 336.8h0M284.7 305.5h0M280.2 305.0h0M249.5 305.8h0M259.1 307.6h0M276.1 330.3h0M258.6 323.1h0M255.3 273.7h0M277.8 293.5h0M292.0 338.7h0M220.6 310.3h0M217.7 314.5h0M307.6 324.3h0M238.8 327.8h0M226.6 328.3h0M202.3 313.6h0M299.3 311.1h0M301.7 326.4h0M211.6 329.7h0M210.5 325.3h0M325.3 310.7h0M218.5 310.5h0M330.7 336.0h0M210.4 312.5h0M242.3 338.6h0M314.1 329.0h0M240.2 329.0h0M308.5 306.4h0M304.2 330.5h0M223.1 322.5h0M321.2 338.2h0M224.4 326.4h0M316.6 321.7h0M241.4 337.4h0M221.1 337.2h0M214.8 338.0h0M219.9 326.3h0M207.3 323.7h0M319.5 337.1h0M207.4 337.9h0M201.2 338.2h0M239.4 326.5h0M206.1 311.8h0M297.8 307.8h0M206.5 317.4h0M221.4 338.7h0M227.4 321.4h0M298.2 318.2h0M216.5 333.1h0M237.0 315.6h0M223.5 318.4h0M224.4 308.7h0M232.6 327.9h0M320.0 314.3h0M335.2 331.6h0M329.2 338.5h0M314.2 307.6h0M327.7 326.0h0M327.5 325.7h0M200.0 335.9h0M241.4 328.7h0M212.1 339.7h0M325.3 332.7h0M314.0 309.4h0M321.9 331.0h0M242.3 328.2h0M213.2 321.0h0M238.6 337.2h0M331.4 338.7h0M237.5 311.6h0M306.0 337.6h0M232.8 328.0h0M312.0 310.4h0M302.0 316.5h0M335.8 323.0h0M325.6 330.4h0M298.0 323.4h0M203.4 312.5h0M313.4 310.9h0M296.4 320.4h0M299.0 310.9h0M224.9 305.7h0M321.3 319.0h0M207.1 333.6h0M201.6 320.0h0M198.9 325.0h0M331.8 312.6h0M217.2 339.4h0M239.0 306.0h0M334.5 325.2h0M209.6 330.5h0M335.2 318.8h0M302.4 335.9h0M221.5 306.1h0M308.2 307.7h0M327.8 312.7h0M226.3 310.6h0M232.1 320.1h0M322.0 337.9h0M312.8 335.5h0M290.4 312.4h0M221.1 335.1h0M261.8 329.3h0M238.2 332.7h0M317.7 333.8h0M327.8 333.6h0M225.3 314.7h0M298.4 330.0h0M252.8 319.6h0M241.2 312.7h0M238.8 319.7h0M314.7 331.3h0M302.0 330.6h0M284.0 307.8h0M245.7 320.2h0M241.8 323.2h0M207.9 334.0h0M326.7 318.3h0M280.8 327.8h0M295.1 331.9h0M261.4 322.4h0M278.2 327.3h0M326.5 332.9h0M316.3 323.5h0M243.8 317.2h0M327.3 325.1h0M264.1 333.1h0M247.2 322.9h0M317.9 322.4h0M280.0 325.0h0M292.9 330.0h0M292.8 330.9h0M305.9 333.8h0M300.3 308.8h0" stroke="#BDBDBD" stroke-width="1.5" stroke-linecap="round" fill="none"/>
<line x1="197.5" y1="339.8" x2="337.9" y2="339.8" stroke="#b3b3b3" stroke-width="1.6"/>
<path d="M252.4 287.0h0M252.9 284.8h0M245.5 294.6h0M247.9 293.8h0M252.5 293.0h0M250.4 300.3h0M251.7 303.3h0M253.4 287.1h0M252.5 267.4h0M244.2 280.7h0M245.9 266.4h0M245.8 293.6h0M252.1 292.7h0M246.7 292.9h0M252.8 302.9h0M253.6 273.8h0M251.0 300.5h0M251.4 262.3h0M252.3 255.1h0M252.6 302.2h0M249.2 295.7h0M252.3 299.9h0M253.4 281.5h0M248.1 289.6h0M250.0 292.8h0M250.3 288.1h0M249.2 279.6h0M251.8 292.6h0M252.9 271.4h0M249.4 285.8h0M244.4 297.1h0M252.5 300.7h0M250.5 303.2h0M252.6 301.9h0M243.1 289.0h0M248.5 296.0h0M251.5 297.1h0M252.1 286.1h0M249.2 303.8h0M243.7 294.3h0M252.7 278.1h0M253.1 293.3h0M243.3 297.2h0M252.7 299.0h0M253.2 277.6h0M249.0 297.2h0M250.5 284.2h0M253.6 278.4h0M251.0 293.4h0M253.3 264.0h0M251.8 298.5h0M253.5 303.6h0M247.7 280.7h0M245.5 303.9h0M250.6 283.1h0M249.6 295.7h0M253.0 299.4h0M250.6 278.1h0M252.2 300.6h0M251.5 278.2h0M247.2 303.2h0M249.0 288.3h0M252.2 303.6h0M247.3 299.0h0M251.9 294.7h0M250.1 279.7h0M251.1 302.2h0M248.1 299.8h0M250.7 303.8h0M252.6 281.8h0M245.6 301.6h0M253.2 300.8h0M248.9 301.9h0M250.4 291.7h0M248.4 297.7h0M252.4 298.5h0M248.2 302.1h0M253.0 303.1h0M252.7 292.9h0M251.0 279.9h0M247.2 296.8h0M253.4 281.9h0M246.1 301.2h0M245.1 288.7h0M250.6 287.6h0M248.2 297.8h0M252.3 298.2h0M252.4 280.4h0M251.1 290.3h0M247.7 303.4h0M251.9 286.0h0M250.7 291.5h0M244.8 287.5h0M250.0 302.1h0M244.9 300.4h0M253.5 295.7h0M251.3 251.2h0M252.0 302.2h0M253.1 291.9h0M248.8 300.5h0M248.8 280.2h0M251.2 254.6h0M252.6 293.2h0M250.9 286.2h0M250.5 295.7h0M253.3 280.1h0M251.0 270.9h0M247.7 298.0h0M247.1 262.3h0M248.9 265.4h0M234.0 218.9h0M248.2 245.4h0M250.0 218.6h0M246.4 224.3h0M232.8 255.3h0M241.9 258.9h0M239.3 238.6h0M249.4 207.2h0M252.2 248.5h0M249.4 212.9h0M240.5 256.3h0M242.3 220.1h0M226.4 212.5h0M249.7 223.2h0M240.5 216.2h0M244.1 237.1h0M249.4 247.2h0M251.9 216.6h0M246.1 253.3h0M241.3 251.4h0M240.9 239.8h0M251.5 216.3h0M226.4 225.5h0M229.3 246.1h0M240.3 237.2h0M237.3 219.5h0M252.3 235.9h0M249.6 215.0h0M248.5 233.9h0M238.3 207.9h0M226.4 229.2h0M239.0 232.1h0M247.8 211.1h0M242.9 208.6h0M247.4 224.2h0M246.8 238.8h0M230.1 213.3h0M239.2 223.3h0M245.1 250.9h0M252.0 221.1h0M218.6 282.6h0M199.8 297.4h0M232.8 294.7h0M247.5 288.6h0M241.1 268.0h0M222.7 288.0h0M212.7 287.7h0M241.1 300.3h0M238.5 292.3h0M205.3 298.7h0M233.5 301.2h0M214.5 300.1h0M225.4 275.5h0M233.4 291.9h0M233.4 300.7h0M206.7 292.3h0M240.6 289.9h0M201.3 290.7h0M251.2 300.0h0M210.5 284.1h0M216.0 293.4h0M248.7 282.8h0M246.4 303.7h0M247.5 286.4h0M227.8 290.3h0M242.7 273.4h0M206.5 291.2h0M220.2 283.2h0M235.1 260.9h0M217.5 302.9h0M229.5 296.8h0M200.8 299.6h0M225.9 280.4h0M246.2 291.8h0M244.4 303.1h0M239.1 298.5h0M226.3 300.1h0M205.6 262.2h0M246.3 293.5h0M247.4 298.1h0M230.4 267.2h0M252.1 296.9h0M230.7 298.3h0M216.1 296.9h0M209.4 260.9h0M208.5 286.7h0M220.0 263.8h0M202.4 303.8h0M208.8 295.9h0M224.2 269.9h0M241.9 302.7h0M249.6 301.3h0M242.4 284.6h0M243.4 293.7h0M201.5 290.5h0M252.3 263.6h0M239.1 263.6h0M242.1 263.6h0M246.0 263.6h0M242.9 263.6h0M250.1 263.6h0M244.6 263.6h0M206.6 244.6h0M222.3 247.3h0M223.6 250.0h0M215.8 210.6h0M198.2 280.0h0M198.2 303.6h0M243.3 208.4h0M250.1 209.5h0M198.8 203.8h0M201.6 203.8h0M207.1 203.8h0M212.6 203.8h0M214.0 203.8h0M216.8 203.8h0M219.5 203.8h0M227.8 203.8h0M230.5 203.8h0M233.3 203.8h0M236.0 203.8h0M238.8 203.8h0M241.5 203.8h0M244.3 203.8h0" stroke="#2E22D8" stroke-width="2.0" stroke-linecap="round" fill="none"/>
<path d="M299.2 298.4h0M285.1 300.6h0M282.9 303.9h0M283.1 302.8h0M284.1 299.1h0M282.0 301.8h0M287.7 299.3h0M284.2 294.9h0M282.5 292.3h0M287.2 284.7h0M286.2 272.3h0M282.0 302.6h0M292.6 302.4h0M285.7 293.2h0M284.2 297.6h0M282.7 289.9h0M294.1 257.1h0M283.9 296.1h0M282.3 281.8h0M284.1 297.7h0M287.3 297.5h0M291.0 300.1h0M298.8 271.6h0M293.6 301.6h0M282.1 298.8h0M285.2 302.6h0M291.8 300.9h0M283.6 300.7h0M282.8 299.0h0M282.5 290.0h0M285.2 299.9h0M282.1 300.6h0M283.0 298.8h0M294.0 302.1h0M290.1 295.9h0M283.2 303.3h0M294.9 301.0h0M282.8 300.1h0M288.8 300.0h0M286.0 302.9h0M282.5 300.6h0M284.2 297.6h0M287.1 279.1h0M286.9 294.2h0M284.1 270.9h0M285.1 296.8h0M283.6 302.9h0M288.5 295.5h0M288.3 302.0h0M281.9 303.9h0M292.1 287.8h0M282.7 303.4h0M285.9 303.1h0M289.7 298.2h0M284.4 300.4h0M287.3 301.4h0M296.0 291.7h0M284.4 296.1h0M282.8 300.9h0M283.3 283.6h0M282.7 293.0h0M285.6 302.3h0M285.0 295.2h0M290.8 286.4h0M281.9 302.7h0M289.7 299.3h0M287.6 298.7h0M285.6 299.5h0M284.2 283.3h0M288.4 301.3h0M284.4 290.6h0M286.7 288.3h0M292.1 301.5h0M295.6 301.1h0M288.5 303.8h0M285.0 302.5h0M281.8 292.4h0M284.8 284.8h0M284.7 298.7h0M292.0 298.1h0M281.9 291.0h0M284.0 303.4h0M293.5 296.4h0M290.1 296.8h0M282.7 298.7h0M293.2 303.8h0M284.1 299.8h0M284.8 303.9h0M288.2 282.7h0M283.0 292.2h0M287.7 298.6h0M283.6 302.6h0M282.6 296.7h0M282.0 300.5h0M289.6 288.7h0M285.0 302.0h0M282.3 301.5h0M283.2 298.4h0M283.8 302.3h0M284.5 281.2h0M285.4 300.6h0M285.8 287.4h0M285.5 301.5h0M284.6 291.5h0M285.1 300.3h0M285.0 303.0h0M286.8 299.6h0M284.2 296.8h0M281.9 299.6h0M291.7 293.9h0M285.6 295.6h0M297.2 279.3h0M285.8 294.0h0M283.4 292.7h0M285.1 302.9h0M282.6 298.4h0M282.0 302.6h0M282.7 282.1h0M283.4 298.7h0M287.3 302.4h0M282.0 261.4h0M288.0 280.3h0M290.7 257.4h0M295.0 252.9h0M285.9 221.2h0M286.3 242.8h0M282.1 276.7h0M288.8 275.3h0M287.3 229.9h0M302.0 284.6h0M295.3 258.6h0M284.7 256.3h0M292.0 230.4h0M290.8 278.4h0M287.6 279.5h0M297.3 273.1h0M284.8 225.9h0M291.8 284.1h0M298.4 259.1h0M286.9 268.7h0M281.8 245.9h0M284.1 235.1h0M312.0 273.8h0M291.7 266.1h0M312.0 268.4h0M288.5 225.3h0M297.8 233.5h0M312.0 215.5h0M288.8 281.9h0M295.1 248.8h0M309.8 230.9h0M290.0 225.2h0M281.8 225.8h0M286.5 285.2h0M288.6 250.4h0M282.5 250.8h0M289.6 216.2h0M286.7 230.1h0M297.3 224.8h0M282.8 255.4h0M290.1 261.1h0M293.1 283.2h0M286.7 284.6h0M309.5 258.5h0M289.3 224.1h0M289.5 218.3h0M300.0 215.8h0M294.4 222.8h0M284.9 280.7h0M282.0 276.0h0M298.6 269.4h0M285.4 260.4h0M294.3 234.6h0M281.8 285.3h0M281.9 238.8h0M291.3 256.3h0M306.2 240.5h0M295.4 255.0h0M312.0 227.8h0M291.3 217.1h0M287.3 203.8h0M290.3 203.8h0M294.0 203.8h0M296.3 203.8h0M299.0 203.8h0M301.0 203.8h0M304.1 203.8h0M305.6 203.8h0M308.0 203.8h0M322.4 203.8h0M337.7 203.8h0M331.6 283.8h0M337.7 283.2h0M337.7 297.6h0" stroke="#F42A36" stroke-width="2.0" stroke-linecap="round" fill="none"/>
<path d="M421.4 330.9h0M435.3 331.3h0M432.6 316.5h0M454.1 325.6h0M457.6 323.1h0M436.2 320.3h0M457.9 328.2h0M442.2 340.7h0M434.6 326.3h0M465.5 330.9h0M449.7 337.8h0M440.6 331.5h0M432.1 333.2h0M438.9 334.0h0M452.9 340.3h0M443.8 341.6h0M431.7 325.0h0M420.5 326.0h0M437.0 328.0h0M467.6 334.4h0M449.1 341.0h0M459.7 334.9h0M474.9 328.5h0M430.8 324.8h0M453.7 333.9h0M431.7 329.3h0M465.5 335.5h0M439.5 338.6h0M462.2 329.1h0M472.5 325.9h0M427.6 339.7h0M421.9 330.6h0M417.9 327.1h0M463.1 335.5h0M457.2 328.5h0M420.6 324.7h0M452.7 331.8h0M458.2 327.3h0M465.2 332.7h0M436.4 339.1h0M421.0 325.3h0M456.6 323.0h0M459.7 324.7h0M459.4 337.4h0M457.2 330.7h0M433.1 339.6h0M438.0 329.4h0M450.6 336.3h0M460.4 331.8h0M440.1 333.4h0M434.4 314.1h0M451.3 333.7h0M435.7 338.1h0M420.8 329.2h0M437.1 341.4h0M457.9 335.6h0M434.7 338.0h0M459.0 319.0h0M425.9 336.9h0M460.0 331.3h0M458.7 329.8h0M456.4 326.9h0M453.7 334.4h0M431.9 308.0h0M433.0 313.2h0M425.0 337.6h0M415.7 324.9h0M433.6 318.3h0M467.7 326.3h0M421.8 324.4h0M462.2 330.1h0M440.4 329.4h0M435.8 330.8h0M463.6 330.9h0M469.6 332.3h0M473.5 330.6h0M418.3 332.3h0M437.7 342.1h0M459.5 324.9h0M435.7 327.2h0M428.4 326.0h0M432.8 331.0h0M457.5 331.7h0M471.1 335.8h0M430.0 337.8h0M466.7 335.9h0M426.1 334.3h0M461.0 341.2h0M420.7 335.9h0M433.8 329.8h0M421.2 338.6h0M458.4 335.7h0M436.2 324.0h0M431.2 340.3h0M463.7 333.7h0M467.1 327.6h0M457.5 335.3h0M464.5 338.3h0M435.3 335.0h0M456.4 341.2h0M462.4 328.8h0M467.5 325.1h0M426.8 330.1h0M463.0 336.5h0M453.5 332.0h0M427.6 338.8h0M439.8 335.2h0M458.1 334.3h0M461.8 327.3h0M428.6 327.4h0M445.8 342.0h0M457.7 326.2h0M461.6 341.9h0M467.3 342.0h0M452.2 329.5h0M439.3 341.6h0M429.5 340.0h0M470.7 324.5h0M434.3 321.9h0M466.4 339.5h0M424.3 326.8h0M449.6 341.9h0M470.8 330.5h0M458.6 325.2h0M459.2 331.4h0M458.3 338.1h0M438.1 324.7h0M460.6 338.5h0M426.5 335.9h0M472.7 328.4h0M432.1 330.2h0M438.9 335.7h0M427.6 337.6h0M450.0 333.6h0M478.3 324.4h0M452.3 338.8h0M469.2 328.2h0M424.5 339.6h0M456.9 331.9h0M433.3 327.6h0M426.7 324.8h0M460.0 333.5h0M462.6 325.4h0M448.9 340.3h0M423.4 336.0h0M464.0 325.1h0M442.4 341.2h0M418.7 325.6h0M439.5 341.9h0M433.4 339.9h0M431.7 341.6h0M444.7 341.1h0M457.6 327.4h0M429.2 336.3h0M463.6 328.8h0M451.3 335.6h0M436.1 327.7h0M440.2 334.9h0M455.0 332.6h0M423.7 335.5h0M466.3 338.3h0M466.5 337.0h0M434.9 323.4h0M470.8 331.7h0M433.6 311.9h0M454.7 333.5h0M438.1 339.7h0M431.7 331.4h0M425.2 329.8h0M467.2 330.2h0M460.9 340.6h0M440.4 338.4h0M471.9 332.7h0M433.0 312.2h0M434.2 320.3h0M456.3 328.2h0M470.4 327.5h0M454.7 326.9h0M432.8 339.2h0M468.5 334.7h0M421.4 331.1h0M442.1 339.7h0M435.1 329.9h0M467.2 328.0h0M470.2 330.7h0M471.2 324.8h0M441.2 333.0h0M461.8 335.6h0M472.4 328.1h0M464.9 339.0h0M433.4 336.6h0M419.3 333.2h0M462.1 335.6h0M438.8 339.1h0M422.7 334.7h0M433.8 323.8h0M473.5 328.6h0M471.4 335.6h0M422.3 338.5h0M419.8 333.4h0M429.8 335.1h0M461.6 329.4h0M418.6 330.5h0M428.9 331.6h0M431.0 334.9h0M459.2 332.6h0M423.2 340.1h0M450.9 337.5h0M461.4 338.6h0M465.1 331.5h0M455.4 332.4h0M437.2 332.0h0M437.0 329.3h0M458.2 341.1h0M467.2 330.9h0M434.2 329.7h0M462.7 333.6h0M464.0 338.3h0M440.6 333.8h0M463.8 341.9h0M437.9 334.0h0M432.4 320.1h0M460.1 339.6h0M435.0 323.6h0M433.8 335.7h0M431.0 324.9h0M452.0 337.3h0M452.7 331.5h0M460.1 339.1h0M431.9 336.0h0M455.2 333.6h0M435.4 324.4h0M423.5 336.7h0M434.2 331.3h0M423.5 333.0h0M453.6 340.2h0M414.2 327.2h0M467.4 337.9h0M441.0 340.1h0M427.2 327.2h0M457.0 332.2h0M435.9 326.1h0M471.2 327.3h0M432.0 317.2h0M460.7 335.2h0M461.3 332.6h0M434.9 318.0h0M419.1 336.0h0M458.9 325.7h0M474.9 326.2h0M465.1 341.7h0M455.5 332.7h0M430.2 331.3h0M464.2 327.8h0M425.1 330.1h0M473.1 331.4h0M450.3 340.7h0M433.6 320.3h0M431.2 337.3h0M468.5 331.6h0M436.4 335.4h0M437.5 338.3h0M454.0 341.2h0M455.5 327.4h0M416.7 329.5h0M431.2 329.9h0M461.4 334.4h0M458.8 337.3h0M448.7 338.6h0M433.6 333.6h0M425.6 335.8h0M469.6 329.4h0M464.5 326.0h0M432.8 328.7h0M463.8 341.6h0M474.1 324.5h0M437.6 323.5h0M426.8 337.0h0M473.2 324.9h0M415.3 327.7h0M459.0 319.7h0M462.3 333.8h0M466.6 327.4h0M459.2 340.2h0M469.9 327.6h0M458.8 326.2h0M425.3 327.2h0M421.1 326.8h0M432.4 311.4h0M418.8 328.7h0M425.4 334.5h0M428.2 331.2h0M418.6 330.4h0M453.8 335.7h0M433.7 339.8h0M463.2 335.0h0M474.5 327.4h0M417.9 333.9h0M428.7 340.5h0M471.5 325.0h0M471.0 324.5h0M439.5 331.4h0M440.3 339.9h0M452.6 329.3h0M462.7 336.2h0M462.8 341.9h0M476.4 324.5h0M419.3 325.1h0M464.2 341.7h0M467.5 330.9h0M468.5 326.1h0M462.4 336.3h0M437.5 330.5h0M426.2 329.6h0M419.7 336.3h0M433.8 341.2h0M433.1 330.4h0M419.6 328.2h0M424.0 338.2h0M466.0 329.5h0M432.4 321.1h0M476.5 326.9h0M438.8 337.9h0M429.0 337.0h0M428.6 331.4h0M432.1 334.9h0M457.1 327.3h0M443.6 341.6h0M446.5 341.1h0M454.4 332.6h0M443.3 339.3h0M434.0 312.2h0M465.1 340.7h0M470.0 329.8h0M417.3 324.8h0M425.7 334.0h0M436.3 339.0h0M431.6 337.4h0M457.5 321.2h0M423.7 342.0h0M421.0 337.1h0M458.4 336.1h0M470.4 331.9h0M427.2 328.6h0M450.7 342.0h0M422.9 334.0h0M452.9 338.7h0M469.8 328.8h0M433.2 333.3h0M434.7 341.9h0M440.1 334.5h0M446.9 340.7h0M432.5 313.3h0M476.5 326.3h0M435.4 337.9h0M433.9 337.3h0M466.4 334.7h0M428.0 337.0h0M461.9 328.6h0M458.1 332.5h0M432.8 317.6h0M456.0 336.7h0M435.8 341.2h0M461.2 328.5h0M444.3 341.0h0M436.7 325.9h0M415.7 330.4h0M422.0 334.5h0M429.1 329.6h0M436.8 337.1h0M474.4 324.8h0M433.0 314.2h0M441.6 338.9h0M475.0 326.1h0M428.5 329.9h0M458.5 334.6h0M432.7 312.7h0M421.4 336.8h0M464.1 339.4h0M431.0 324.9h0M428.3 341.8h0M474.3 329.0h0M470.2 334.4h0M433.6 323.9h0M471.2 329.8h0M439.2 329.9h0M420.3 328.2h0M423.0 331.1h0M434.1 315.8h0M431.6 325.8h0M455.9 337.3h0M453.6 330.2h0M457.3 327.4h0M459.4 333.6h0M428.6 333.3h0M436.3 319.9h0M429.4 338.8h0M458.5 323.8h0M439.5 341.1h0M453.8 332.2h0M455.0 327.9h0M434.1 319.8h0M461.2 325.5h0M432.2 336.7h0M460.8 333.6h0M420.0 327.2h0M436.2 322.8h0M455.2 335.3h0M451.1 336.8h0M437.1 328.0h0M458.4 324.3h0M431.8 342.3h0M427.5 334.5h0M460.2 328.6h0M457.2 330.4h0M427.7 340.6h0M473.7 331.3h0M466.1 342.1h0M457.4 329.0h0M425.8 332.3h0M452.9 328.2h0M467.4 326.9h0M456.2 324.0h0M477.3 327.4h0M423.6 332.3h0M433.2 314.0h0M428.5 341.9h0M426.8 324.4h0M437.6 334.7h0M437.1 338.9h0M472.1 333.9h0M465.7 341.7h0M415.3 328.0h0M420.3 334.6h0M439.2 333.0h0M474.8 328.3h0M424.0 331.1h0M437.4 323.6h0M451.8 334.6h0M467.3 339.7h0M455.8 342.1h0M453.5 327.2h0M428.3 327.3h0M469.1 325.3h0M469.4 334.5h0M453.4 337.8h0M452.3 342.1h0M441.0 340.8h0M418.8 335.0h0M452.1 337.4h0M441.6 334.3h0M434.0 327.9h0M417.8 325.9h0M429.6 332.9h0M439.7 328.5h0M431.6 328.5h0M431.7 337.8h0M418.0 327.3h0M425.2 325.2h0M457.5 330.8h0M465.1 333.5h0M433.7 324.9h0M434.8 341.0h0M428.3 331.1h0M435.1 327.1h0M467.0 330.1h0M430.8 328.6h0M420.4 325.3h0M466.5 336.6h0M455.9 333.2h0M435.3 323.8h0M463.3 334.0h0M429.2 331.1h0M423.0 325.8h0M439.2 328.9h0M473.4 331.2h0M458.9 328.2h0M456.0 339.9h0M428.2 326.6h0M456.1 323.2h0M436.3 318.5h0M440.3 333.5h0M428.7 338.9h0M436.4 324.9h0M457.9 340.1h0M458.7 330.0h0M457.7 338.3h0M434.9 341.3h0M433.2 322.6h0M429.2 335.5h0M437.9 335.7h0M461.4 328.1h0M439.9 332.2h0M420.6 331.8h0M428.1 332.3h0M424.8 338.9h0M450.9 332.5h0M452.7 335.6h0M434.5 319.2h0M432.5 321.7h0M419.7 326.0h0M462.6 335.8h0M467.9 339.3h0M457.6 332.2h0M425.8 338.2h0M453.7 332.3h0M430.3 331.3h0M455.3 337.3h0M472.0 327.7h0M454.0 326.4h0M457.9 320.9h0M414.8 329.2h0M447.4 339.7h0M425.1 334.2h0M467.6 328.9h0M452.7 333.9h0M471.7 329.5h0M426.9 338.2h0M454.7 329.5h0M436.3 320.4h0M433.4 337.9h0M425.6 337.8h0M437.4 325.8h0M443.1 341.3h0M468.4 338.5h0M479.3 324.5h0M458.2 340.0h0M445.9 341.6h0M457.4 327.1h0M441.3 337.6h0M472.1 333.7h0M465.6 327.8h0M435.4 321.4h0M429.5 337.6h0M467.5 334.6h0M424.4 331.8h0M452.8 340.2h0M437.1 338.1h0M423.1 333.0h0M467.5 330.1h0M431.1 332.6h0M461.0 331.7h0M461.3 337.5h0M449.7 336.4h0M426.5 330.4h0M458.4 320.1h0M469.6 329.5h0M474.8 324.6h0M443.4 338.9h0M419.6 327.8h0M461.9 325.5h0M450.0 340.4h0M425.9 334.6h0M418.9 329.2h0M438.8 336.1h0M462.8 340.6h0M438.3 324.1h0M421.6 326.1h0M435.2 321.4h0M433.2 334.9h0M422.8 324.8h0M464.6 325.8h0M463.5 335.8h0M450.0 336.1h0M469.8 328.4h0M435.5 316.4h0M460.3 335.5h0M423.6 333.7h0M431.5 313.5h0M461.6 339.9h0M423.7 332.5h0M437.3 325.8h0M449.4 337.3h0M464.4 335.7h0M437.4 336.2h0M456.7 325.2h0M471.7 324.9h0M420.7 326.8h0M431.8 329.0h0M468.6 331.4h0M432.3 334.3h0M441.9 337.4h0M469.3 327.0h0M419.2 328.7h0M432.3 335.7h0M462.0 331.9h0M429.0 324.4h0M425.1 339.6h0M456.7 334.5h0M458.8 329.1h0M470.8 328.3h0M459.5 324.4h0M461.5 330.2h0M432.3 311.4h0M475.0 329.9h0M432.4 331.4h0M428.0 333.5h0M435.0 326.3h0M423.0 338.7h0M469.3 337.4h0M478.1 325.0h0M455.7 329.5h0M465.4 331.4h0M414.6 327.0h0M456.9 323.5h0M467.7 326.4h0M422.8 335.8h0M430.3 341.0h0M472.8 327.9h0M470.7 332.9h0M466.5 330.3h0M457.4 329.5h0M441.3 333.9h0M463.2 329.0h0M426.1 329.6h0M475.9 324.6h0M475.6 326.2h0M458.4 319.4h0M427.6 327.4h0M437.0 339.4h0M473.2 332.9h0M466.2 334.2h0M419.8 329.5h0M467.3 332.5h0M431.8 338.5h0M453.9 326.5h0M427.4 340.6h0M418.6 333.6h0M433.5 330.7h0M469.2 334.9h0M433.6 321.1h0M426.8 331.9h0M461.4 334.8h0M471.2 335.4h0M435.0 339.4h0M457.5 336.8h0M430.6 331.9h0M465.0 328.2h0M418.9 333.5h0M468.3 324.7h0M418.0 334.4h0M471.9 333.7h0M463.3 331.7h0M432.2 322.6h0M435.3 337.8h0M472.8 324.8h0M467.5 335.8h0M463.1 329.2h0M440.0 334.6h0M435.4 338.4h0M417.7 329.7h0M462.5 335.4h0M430.5 336.7h0M450.6 339.0h0M454.8 332.3h0M476.5 327.0h0M436.2 339.2h0M471.1 330.8h0M461.7 327.9h0M440.6 334.2h0M432.5 327.1h0M460.0 336.1h0M433.7 328.0h0M425.3 334.4h0M443.4 338.7h0M463.1 331.1h0M420.6 324.5h0M451.5 336.0h0M424.9 339.5h0M435.2 329.7h0M464.3 337.0h0M461.9 335.0h0M463.3 340.9h0M428.0 334.1h0M432.5 314.5h0M468.7 326.5h0M432.2 340.4h0M466.6 340.9h0M442.7 335.6h0M467.1 331.6h0M465.2 332.9h0M451.9 332.1h0M469.0 339.8h0M427.7 336.5h0M429.5 329.1h0M419.8 325.6h0M432.0 337.4h0M461.2 330.9h0M431.6 335.8h0M438.3 324.8h0M456.4 333.1h0M429.3 337.2h0M472.8 329.7h0M428.6 331.1h0M458.3 319.6h0M421.4 324.7h0M423.8 337.0h0M433.4 321.0h0M420.6 332.9h0M428.1 327.1h0M459.9 338.5h0M457.5 323.4h0M438.2 336.0h0M420.5 327.3h0M462.5 330.8h0M475.2 326.1h0M472.1 326.3h0M432.7 322.6h0M464.5 330.2h0M432.6 318.5h0M470.1 327.2h0M456.9 324.6h0M465.9 337.3h0M424.1 339.9h0M449.2 338.2h0M448.9 336.6h0M435.3 325.6h0M434.2 325.7h0M458.5 334.8h0M431.9 324.0h0M429.7 335.7h0M458.5 326.3h0M438.4 330.6h0M466.1 330.8h0M432.0 331.5h0M416.7 331.1h0M457.0 323.1h0M456.5 329.1h0M459.8 341.3h0M434.7 334.6h0M430.6 328.4h0M421.0 337.7h0M468.3 334.3h0M457.6 340.8h0M468.0 332.8h0M468.0 338.6h0M461.1 330.4h0M422.4 335.1h0M419.0 333.3h0M465.8 341.2h0M439.8 332.1h0M427.7 336.0h0M465.7 341.8h0M448.6 340.3h0M425.4 340.4h0M469.0 331.8h0M425.3 338.4h0M469.1 339.5h0M463.8 339.5h0M426.1 328.2h0M432.0 319.6h0M426.9 333.0h0M432.6 333.4h0M443.4 339.0h0M459.7 330.8h0M440.7 331.4h0M437.2 322.1h0M462.2 327.5h0M425.5 335.9h0M468.5 336.2h0M436.3 321.8h0M463.7 329.1h0M430.2 327.3h0M414.4 328.9h0M450.3 338.3h0M434.0 341.4h0M414.7 325.0h0M470.8 325.9h0M465.5 339.7h0M433.2 332.8h0M433.2 335.2h0M467.4 326.2h0M462.1 329.4h0M466.6 337.6h0M459.3 341.3h0M429.8 338.0h0M444.3 340.1h0M460.1 336.1h0M458.7 330.5h0M426.9 337.6h0M456.3 330.9h0M426.6 330.8h0M466.7 334.5h0M422.9 326.1h0M456.8 328.3h0M459.5 332.2h0M434.2 327.3h0M433.8 318.2h0M426.2 333.7h0M461.8 327.9h0M440.8 334.7h0M467.4 337.0h0M418.7 331.8h0M435.9 334.9h0M411.6 324.5h0M456.0 334.7h0M469.6 337.6h0M470.4 325.9h0M435.7 337.2h0M460.3 328.6h0M451.6 333.1h0M451.3 341.8h0M472.2 330.0h0M453.4 334.1h0M427.7 337.9h0M433.2 326.7h0M434.8 318.7h0M477.3 327.3h0M458.9 341.8h0M456.7 336.8h0M440.8 339.5h0M423.8 338.1h0M436.0 326.2h0M442.0 341.0h0M438.3 324.5h0M428.5 330.0h0M434.1 328.7h0M421.9 330.5h0M432.4 311.6h0M416.7 331.3h0M460.3 330.5h0M451.9 335.4h0M434.5 335.6h0M435.8 334.1h0M436.2 325.7h0M420.9 334.9h0M461.1 330.2h0M456.4 327.2h0M474.0 330.9h0M456.0 332.1h0M466.1 341.9h0M430.0 332.9h0M437.8 333.0h0M462.1 329.4h0M419.9 326.0h0M438.9 326.3h0M424.5 328.0h0M429.2 332.0h0M456.1 322.9h0M435.4 322.7h0M437.0 337.9h0M432.2 325.1h0M439.8 334.1h0M454.0 330.6h0M443.7 340.6h0M440.6 341.0h0M434.3 324.4h0M463.7 333.5h0M434.8 335.5h0M433.1 316.7h0M423.4 330.3h0M432.1 307.7h0M462.4 329.0h0M468.6 339.7h0M471.5 329.9h0M469.3 326.6h0M429.2 336.6h0M426.1 337.7h0M468.0 325.8h0M462.3 336.1h0M450.3 342.2h0M432.0 339.3h0M455.7 323.7h0M465.5 328.2h0M469.1 333.7h0M431.8 314.2h0M436.8 341.9h0M467.8 339.1h0M476.4 327.5h0M449.3 335.2h0M441.3 340.6h0M432.6 334.5h0M464.0 340.6h0M459.9 326.6h0M436.8 339.2h0M470.4 330.0h0M422.2 340.3h0M437.0 335.0h0M463.2 337.9h0M469.3 325.3h0M415.7 327.1h0M464.9 334.6h0M460.6 341.5h0M457.1 341.6h0M461.0 332.7h0M425.8 334.2h0M412.9 325.4h0M432.0 310.3h0M418.5 334.3h0M434.1 321.6h0M439.4 328.6h0M417.5 328.8h0M454.6 330.1h0M420.9 326.8h0M433.5 311.5h0M462.5 329.3h0M431.0 324.7h0M436.8 338.0h0M470.6 334.9h0M426.0 340.1h0M466.2 326.5h0M464.3 330.1h0M463.6 335.6h0M453.7 335.1h0M462.3 330.6h0M433.0 326.9h0M419.6 328.1h0M453.8 333.3h0M435.7 322.0h0M422.0 335.6h0M472.9 324.8h0M457.6 336.4h0M420.3 327.7h0M454.7 329.1h0M417.0 324.4h0M421.2 335.4h0M451.6 333.8h0M423.1 330.9h0M457.8 340.5h0M468.1 333.4h0M474.5 330.8h0M461.6 326.3h0M435.6 338.9h0M459.3 338.7h0M431.7 325.3h0M470.4 331.8h0M467.7 327.9h0M436.4 319.5h0M435.2 319.1h0M462.9 328.6h0M434.2 319.2h0M431.4 339.4h0M471.5 333.5h0M424.9 338.4h0M460.3 339.3h0M425.3 326.2h0M456.2 321.3h0M436.3 331.2h0M421.6 336.8h0M469.5 327.9h0M421.1 327.7h0M436.6 326.7h0M473.3 332.3h0M460.2 325.8h0M459.1 326.6h0M431.6 330.3h0M415.2 327.8h0M461.4 335.1h0M434.2 324.5h0M433.5 323.1h0M435.6 323.5h0M456.6 332.0h0M456.0 334.6h0M458.4 340.6h0M453.6 330.6h0M447.8 340.6h0M438.7 340.3h0M453.1 331.5h0M435.8 334.4h0M432.3 317.1h0M437.6 336.8h0M432.9 317.0h0M457.4 339.0h0M417.5 325.8h0M430.5 339.0h0M422.4 334.1h0M418.7 331.9h0M427.7 334.5h0M427.0 327.1h0M462.9 340.8h0M464.6 330.1h0M435.4 323.2h0M456.1 321.9h0M446.2 340.9h0M459.9 332.9h0M425.7 327.9h0M462.5 325.8h0M431.6 318.1h0M455.2 329.2h0M415.6 327.7h0M473.8 328.3h0M469.0 339.2h0M430.0 330.7h0M463.8 326.4h0M429.8 328.1h0M440.5 335.7h0M458.8 316.5h0M469.7 334.7h0M456.1 322.2h0M436.1 328.5h0M442.0 339.1h0M424.0 336.5h0M430.8 339.5h0M456.1 338.3h0M415.4 328.9h0M424.0 326.8h0M423.3 338.3h0M476.8 324.6h0M432.0 330.3h0M428.4 338.6h0M422.1 336.3h0M419.4 333.7h0M464.8 326.8h0M462.6 341.4h0M456.3 328.6h0M456.5 338.0h0M464.7 335.6h0M447.5 339.4h0M464.3 338.9h0M462.4 327.9h0M437.1 324.9h0M420.9 326.0h0M416.7 328.9h0M424.1 328.5h0M467.1 330.3h0M431.6 315.3h0M465.5 340.8h0M439.1 327.6h0M438.9 335.0h0M426.4 338.2h0M432.5 316.7h0M434.6 326.6h0M433.9 313.2h0M471.0 330.3h0M469.7 326.8h0M422.0 337.7h0M436.0 341.9h0M431.4 331.6h0M441.4 335.4h0M460.6 338.4h0M428.1 337.9h0M462.6 341.2h0M436.3 324.7h0M424.2 339.4h0M470.3 333.5h0M414.5 327.0h0M431.5 322.7h0M465.6 340.8h0M457.6 318.9h0M434.0 335.3h0M467.0 329.7h0M475.6 328.5h0M437.2 321.9h0M426.6 333.0h0M437.6 328.1h0M469.4 332.3h0M431.5 328.3h0M457.4 341.5h0M458.8 331.1h0M440.5 337.5h0M452.4 333.4h0M440.8 334.4h0M465.1 334.6h0M472.5 326.3h0M461.4 340.1h0M433.4 324.4h0M436.1 338.5h0M464.7 342.2h0M471.3 335.7h0M427.2 334.2h0M442.1 338.3h0M423.0 335.6h0M441.3 335.3h0M422.0 330.1h0M425.8 327.0h0M432.1 319.7h0M439.0 331.8h0M430.0 341.5h0M458.5 319.9h0M433.8 328.6h0M455.2 336.2h0M433.4 316.5h0M418.8 333.5h0M454.8 330.8h0M449.1 336.8h0M458.3 321.9h0M435.9 336.1h0M457.9 338.7h0M421.3 325.6h0M459.1 337.0h0M435.8 331.6h0M431.7 315.0h0M427.1 325.0h0M469.6 336.4h0M459.5 326.1h0M439.0 336.2h0M439.4 335.8h0M427.9 337.7h0M422.9 330.9h0M461.1 338.8h0M435.0 331.0h0M434.8 326.4h0M434.3 324.9h0M419.3 327.1h0M471.1 336.1h0M461.4 333.2h0M440.0 334.8h0M470.4 336.5h0M472.4 329.2h0M453.0 339.3h0M413.5 326.5h0M430.7 334.0h0M457.4 320.8h0M463.3 325.0h0M433.7 340.2h0M435.6 330.0h0M439.6 332.6h0M459.3 328.0h0M422.1 332.3h0M422.1 331.5h0M447.7 339.1h0M437.6 341.9h0M433.8 330.1h0M428.2 333.9h0M469.0 339.3h0M434.4 316.8h0M465.2 331.9h0M434.1 315.1h0M436.9 323.8h0M472.5 327.6h0M465.3 340.8h0M434.1 333.2h0M474.7 329.7h0M427.4 324.9h0M431.4 335.3h0M422.8 325.5h0M448.4 339.2h0M450.4 332.5h0M429.7 335.0h0M420.6 327.3h0M432.5 318.6h0M436.5 338.2h0M469.0 329.5h0M472.6 326.2h0M453.8 326.2h0M435.7 323.4h0M418.2 326.6h0M430.1 328.0h0M461.4 330.3h0M458.7 340.3h0M461.9 338.6h0M423.9 341.0h0M470.3 333.2h0M465.6 341.4h0M459.4 329.2h0M431.9 341.0h0M434.5 327.9h0M439.9 337.8h0M430.8 342.2h0M424.6 341.2h0M473.7 327.2h0M464.2 341.2h0M437.2 324.9h0M442.7 341.0h0M441.5 339.6h0M466.4 324.6h0M442.0 336.0h0M455.4 332.9h0M449.2 334.8h0M429.8 334.3h0M453.2 328.0h0M411.7 325.0h0M454.8 330.7h0M432.3 312.9h0M449.5 335.9h0M430.8 325.1h0M453.3 341.1h0M432.6 316.1h0M432.5 319.2h0M458.0 317.9h0M469.1 336.5h0M464.9 336.7h0M455.5 339.0h0M434.1 328.8h0M435.8 328.2h0M435.4 323.2h0M432.7 323.1h0M451.7 331.3h0M431.7 316.7h0M457.9 340.5h0M468.2 329.6h0M421.3 338.4h0M434.9 320.7h0M463.7 325.6h0M422.4 338.7h0M427.7 339.3h0M447.5 338.3h0M473.8 332.6h0M437.4 332.1h0M456.6 336.0h0M471.8 330.7h0M467.2 325.3h0M433.9 320.7h0M428.9 326.3h0M418.6 333.3h0M437.4 321.8h0M467.5 328.7h0M452.1 339.8h0M461.1 336.8h0M461.0 341.9h0M460.4 332.7h0M452.8 329.6h0M469.0 332.4h0M422.4 325.2h0M424.1 326.8h0M418.9 330.7h0M426.0 332.1h0M428.4 334.8h0M425.5 334.9h0M438.5 327.1h0M452.6 330.3h0M456.8 330.3h0M437.5 333.6h0M420.8 333.0h0M444.0 340.9h0M433.6 320.9h0M465.1 341.3h0M465.9 337.8h0M435.8 340.2h0M431.7 313.4h0M468.2 335.5h0M417.3 327.2h0M438.0 328.9h0M418.2 334.3h0M441.0 341.4h0M464.4 339.8h0M464.8 340.9h0M474.3 326.6h0M464.0 339.0h0M474.1 325.1h0M433.0 340.8h0M467.4 332.6h0M430.1 342.1h0M435.3 323.4h0M460.8 327.0h0M458.7 324.8h0M433.5 336.9h0M422.9 327.7h0M432.1 331.3h0M427.4 336.1h0M414.9 328.2h0M469.2 339.2h0M459.3 327.2h0M457.6 334.9h0M476.3 326.3h0M435.8 333.2h0M474.9 328.9h0M432.1 335.0h0M433.6 319.6h0M425.4 338.7h0M438.0 336.7h0M424.8 339.1h0M437.2 321.5h0M440.0 342.2h0M457.8 331.7h0M473.8 328.9h0M432.8 342.1h0M458.5 340.6h0M427.0 341.4h0M433.1 318.8h0M427.1 331.3h0M454.9 333.3h0M425.3 333.1h0M459.6 333.9h0M422.1 337.5h0M469.7 330.0h0M429.4 332.2h0M459.0 342.0h0M458.6 318.8h0M432.0 329.8h0M432.5 338.3h0M423.8 331.1h0M469.9 335.7h0M446.4 341.7h0M466.1 339.5h0M426.4 326.5h0M467.4 336.2h0M461.4 326.3h0M428.8 328.3h0M416.3 331.6h0M443.1 337.8h0M431.3 325.8h0M431.8 323.4h0M465.6 332.9h0M454.6 328.5h0M436.7 341.3h0M417.0 326.9h0M437.6 337.7h0M467.3 329.1h0M437.2 337.4h0M467.7 325.7h0M452.7 329.5h0M431.5 328.3h0M449.5 340.2h0M453.2 339.7h0M435.8 331.7h0M462.7 327.1h0M426.1 332.8h0M456.5 329.2h0M465.8 338.1h0M467.6 326.2h0M471.9 327.4h0M471.8 334.7h0M456.9 319.9h0M430.4 326.0h0M460.0 325.9h0M439.0 338.1h0M461.4 328.6h0M432.9 316.8h0M436.2 334.5h0M464.2 332.8h0M432.8 338.8h0M429.4 331.6h0M440.5 339.3h0M435.3 335.0h0M434.3 317.4h0M456.2 339.7h0M435.0 316.4h0M429.1 338.4h0M423.9 330.3h0M451.4 339.1h0M435.4 318.0h0M455.1 324.9h0M432.6 314.1h0M465.9 326.1h0M424.8 335.0h0M421.3 336.9h0M464.2 331.4h0M439.4 333.7h0M456.7 338.3h0M455.8 323.6h0M460.8 330.0h0M442.4 336.7h0M417.3 328.7h0M424.0 329.4h0M452.4 333.8h0M455.7 322.9h0M416.2 325.9h0M432.8 337.0h0M475.3 328.1h0M455.2 333.8h0M459.7 331.3h0M426.3 334.9h0M425.2 339.0h0M437.2 335.5h0M458.7 316.7h0M438.6 341.9h0M437.3 327.7h0M429.1 339.5h0M443.8 341.3h0M457.2 338.5h0M429.7 327.2h0M465.9 324.6h0M433.8 339.1h0M471.0 336.3h0M440.7 331.4h0M439.4 336.9h0M421.9 325.4h0M463.8 330.3h0M458.2 335.5h0M461.9 329.0h0M454.2 342.2h0M420.2 326.3h0M474.5 331.8h0M425.3 333.7h0M456.1 324.4h0M427.7 334.2h0M474.0 328.1h0M456.5 333.4h0M470.4 337.0h0M466.6 339.3h0M463.1 326.0h0M425.8 332.3h0M427.9 326.0h0M422.1 331.3h0M415.0 327.4h0M433.8 312.7h0M423.9 337.4h0M425.5 328.1h0M415.8 329.7h0M457.6 336.3h0M456.9 336.1h0M441.5 333.2h0M453.1 329.8h0M458.2 318.1h0M416.8 327.3h0M427.3 337.4h0M424.3 341.0h0M434.9 319.3h0M453.2 339.9h0M459.9 339.6h0M455.4 332.8h0M438.8 327.4h0M414.9 327.3h0M433.2 341.8h0M432.6 313.0h0M436.9 330.7h0M459.9 326.2h0M458.2 329.4h0M458.1 337.7h0M434.7 333.9h0M461.9 335.1h0M455.3 338.8h0M470.7 334.8h0M451.4 338.2h0M463.7 334.1h0M476.3 326.8h0M453.5 332.4h0M414.9 328.0h0M434.3 336.9h0M412.0 324.8h0M464.5 341.8h0M427.1 325.0h0M440.4 333.3h0M431.3 336.0h0M429.4 341.5h0M439.3 337.0h0M435.8 340.0h0M436.5 332.7h0M459.5 325.9h0M434.6 340.0h0M426.2 327.1h0M436.4 326.8h0M471.3 330.2h0M434.5 340.6h0M456.3 328.5h0M452.8 332.0h0M478.4 325.2h0M425.8 329.0h0M448.8 342.3h0M434.4 319.0h0M439.5 334.5h0M447.9 338.2h0M459.2 337.6h0M457.2 330.1h0M433.7 340.6h0M421.8 336.0h0M415.5 328.8h0M424.5 331.5h0M434.3 327.7h0M461.1 334.1h0M454.3 328.7h0M459.3 329.4h0M429.3 340.3h0M421.4 333.2h0M437.8 328.0h0M469.6 325.6h0M434.7 337.4h0M456.2 326.1h0M428.9 327.6h0M461.1 341.5h0M436.3 330.6h0M456.4 341.8h0M468.2 333.9h0M456.7 337.2h0M473.3 324.4h0M450.0 336.6h0M446.0 342.1h0M433.1 325.1h0M443.9 339.5h0M469.6 333.5h0M461.8 339.5h0M429.1 329.6h0M422.1 327.7h0M433.4 341.8h0M421.7 324.4h0M429.4 325.6h0M459.6 331.2h0M433.2 319.1h0M423.1 328.3h0M437.1 336.0h0M464.0 331.1h0M434.4 330.5h0M448.7 337.6h0M438.5 339.8h0M433.1 310.3h0M434.9 333.8h0M419.9 334.4h0M424.5 338.1h0M421.9 336.1h0M474.1 327.7h0M458.6 319.9h0M463.7 332.5h0M455.7 334.4h0M462.8 338.0h0M434.8 316.6h0M422.8 333.7h0M425.7 337.5h0M463.0 332.6h0M467.7 334.1h0M455.4 332.5h0M433.0 320.2h0M435.8 337.2h0M422.4 328.6h0M433.8 318.4h0M425.1 333.6h0M429.3 337.9h0M477.8 325.1h0M471.2 336.0h0M460.7 332.1h0M438.4 331.9h0M448.6 341.6h0M427.3 326.8h0M413.9 328.6h0M429.7 336.2h0M475.2 328.3h0M456.6 322.4h0M430.8 335.9h0M430.4 335.4h0M457.8 329.0h0M461.6 342.2h0M413.9 326.8h0M428.3 328.5h0M424.2 325.0h0M462.8 332.4h0M448.4 340.2h0M455.6 329.1h0M448.3 338.2h0M421.7 326.7h0M426.5 335.6h0M458.0 337.6h0M455.3 327.8h0M423.7 334.1h0M448.7 340.7h0M455.0 324.8h0M428.3 325.2h0M468.2 325.6h0M463.2 334.8h0M440.4 334.9h0M434.7 315.2h0M467.1 330.7h0M417.6 325.4h0M433.3 312.8h0M432.1 308.6h0M465.0 336.6h0M434.9 337.2h0M461.2 327.7h0M469.9 330.2h0M468.0 340.3h0M433.7 326.1h0M424.0 336.6h0M458.6 323.3h0M471.1 336.7h0M415.8 329.5h0M425.3 327.0h0M434.5 330.3h0M468.8 333.8h0M426.7 333.4h0M462.7 331.8h0M420.5 333.0h0M428.3 332.2h0M423.5 342.2h0M466.1 329.9h0M418.1 330.5h0M422.5 336.3h0M443.0 337.6h0M418.8 332.6h0M462.1 329.4h0M458.8 334.1h0M440.7 335.2h0M426.2 329.7h0M468.7 334.9h0M454.6 326.2h0M465.9 342.3h0M456.6 325.5h0M462.9 337.6h0M420.6 325.6h0M455.6 333.2h0M468.6 337.1h0M435.6 330.8h0M458.1 331.0h0M462.9 328.0h0M463.3 337.6h0M436.4 326.2h0M429.0 339.4h0M416.1 329.2h0M412.9 324.4h0M430.5 338.6h0M436.9 321.9h0M454.7 325.3h0M450.5 341.0h0M470.0 336.4h0M456.5 331.3h0M432.4 312.1h0M429.4 338.5h0M451.9 334.6h0M463.8 335.7h0M419.7 324.3h0M463.1 326.9h0M422.4 327.8h0M433.1 311.9h0M457.3 319.6h0M466.6 341.8h0M466.3 327.9h0M434.8 336.5h0M452.9 333.1h0M454.7 326.1h0M441.9 338.0h0M449.9 337.8h0M432.2 317.2h0M467.3 327.8h0M456.7 333.3h0M417.2 328.3h0M465.2 340.0h0M420.2 332.7h0M427.1 328.1h0M454.1 333.9h0M453.3 329.3h0M432.5 316.0h0M458.4 334.3h0M424.2 335.9h0M455.4 335.9h0M424.5 324.6h0M432.1 331.9h0M431.9 311.7h0M433.8 338.8h0M472.2 329.1h0M452.1 337.7h0M433.6 327.3h0M472.1 333.2h0M423.4 326.1h0M439.7 340.5h0M461.4 333.4h0M468.3 333.6h0M434.9 335.4h0M452.5 337.6h0M416.9 329.3h0M461.3 325.8h0M439.6 330.5h0M420.1 325.2h0M419.4 325.7h0M438.3 340.1h0M466.3 331.5h0M465.7 327.0h0M469.1 336.5h0M464.9 332.0h0M432.9 314.1h0M431.5 328.5h0M436.5 329.3h0M469.8 324.3h0M430.3 332.7h0M473.2 325.7h0M428.5 335.0h0M457.6 321.8h0M432.1 313.1h0M464.2 325.8h0M436.1 319.2h0M477.4 325.2h0M468.3 340.1h0M433.6 333.3h0M418.3 330.6h0M414.4 329.0h0M440.7 340.5h0M458.7 340.5h0M414.5 325.1h0M436.7 327.8h0M462.9 331.6h0M437.6 339.4h0M459.3 333.6h0M464.4 338.6h0M438.8 325.9h0M459.9 337.7h0M456.0 333.6h0M432.0 328.5h0M434.2 313.2h0M435.1 324.7h0M464.5 333.0h0M458.0 338.9h0M434.1 320.7h0M455.0 340.1h0M453.7 329.2h0M464.6 333.9h0M438.1 337.6h0M474.9 329.9h0M461.9 339.8h0M437.2 322.3h0M437.0 334.8h0M435.2 319.4h0M431.7 332.1h0M465.4 340.6h0M437.2 337.3h0M421.5 326.1h0M459.1 332.7h0M440.8 334.1h0M470.8 327.7h0M426.3 332.6h0M432.8 312.8h0M421.7 330.4h0M456.5 336.6h0M464.7 329.6h0M435.9 327.6h0M462.6 334.7h0M424.5 338.6h0M468.3 336.5h0M462.5 329.4h0M466.6 332.8h0M441.0 334.7h0M471.4 325.9h0M455.1 330.8h0M435.0 328.8h0M457.6 327.9h0M458.5 323.6h0M462.9 329.0h0M466.5 327.7h0M468.3 324.3h0M444.7 341.9h0M432.6 342.1h0M433.9 322.4h0M446.8 341.4h0M472.2 327.1h0M459.0 334.2h0M440.4 341.1h0M449.5 337.1h0M415.1 327.8h0M464.5 339.7h0M433.5 318.1h0M440.9 331.1h0M440.8 332.4h0M475.6 324.5h0M421.7 337.2h0M463.4 337.8h0M434.7 338.3h0M435.2 320.8h0M431.4 333.5h0M432.5 324.4h0M463.5 336.5h0M413.3 324.9h0M424.3 335.9h0M463.6 334.1h0M470.2 326.4h0M440.1 334.9h0M473.6 330.1h0M479.2 324.5h0M439.6 339.2h0M438.3 333.3h0M460.7 332.8h0M423.6 329.1h0M430.4 337.4h0M432.7 319.6h0M455.1 340.5h0M452.8 342.2h0M465.3 338.5h0M464.9 326.0h0M469.9 335.6h0M434.4 323.8h0M457.8 339.5h0M424.4 338.9h0M435.5 316.6h0M426.4 325.6h0M430.3 330.3h0M432.8 315.5h0M463.4 338.8h0M417.1 331.5h0M453.8 339.9h0M451.4 341.9h0M463.6 332.4h0M463.0 332.0h0M438.2 342.2h0M424.5 335.2h0M456.4 328.7h0M421.2 334.8h0M459.3 333.7h0M433.1 336.7h0M464.9 329.9h0M422.4 339.6h0M429.8 329.7h0M431.2 330.4h0M463.2 334.4h0M438.9 335.9h0M439.6 336.5h0M425.5 335.0h0M448.8 335.8h0M465.3 341.9h0M453.8 336.2h0M459.1 341.9h0M421.9 335.4h0M424.0 330.4h0M471.9 327.9h0M463.9 341.6h0M438.2 335.0h0M425.9 328.4h0M425.3 336.4h0M449.7 341.9h0M441.0 331.1h0M423.1 339.0h0M467.7 324.8h0M468.0 340.1h0M440.1 337.2h0M457.5 336.7h0M424.0 327.8h0M456.7 336.6h0M434.7 340.6h0M420.4 337.4h0M421.8 330.1h0M417.2 328.6h0M433.6 329.1h0M431.3 328.5h0M434.0 321.0h0M453.7 341.2h0M435.9 319.7h0M432.1 319.7h0M475.3 329.1h0M432.3 327.9h0M428.0 337.5h0M464.6 326.1h0M475.7 329.8h0M428.8 338.1h0M465.2 339.3h0M449.4 340.3h0M439.1 339.3h0M438.8 332.2h0M469.3 326.8h0M470.7 333.7h0M433.0 338.0h0M452.5 331.3h0M423.0 331.9h0M450.6 341.1h0M439.8 328.3h0M455.0 333.8h0M437.5 334.2h0M426.6 332.1h0M422.0 336.9h0M434.2 328.9h0M428.3 331.0h0M431.2 327.4h0M455.5 334.8h0M445.1 342.2h0M422.4 332.9h0M429.3 331.4h0M465.9 330.4h0M428.1 338.7h0M427.2 340.7h0M453.7 337.6h0M419.0 324.9h0M452.5 341.3h0M452.8 336.4h0M434.7 318.3h0M425.8 337.0h0M456.4 340.1h0M417.1 326.6h0M427.3 336.3h0M458.7 332.6h0M432.1 337.6h0M463.6 329.7h0M460.3 336.4h0M419.7 335.1h0M430.5 337.4h0M468.1 329.1h0M462.5 325.9h0M474.6 325.5h0M471.5 335.6h0M464.7 331.3h0M455.1 334.8h0M466.9 337.6h0M421.1 330.5h0M417.3 327.6h0M465.9 339.8h0M456.3 335.9h0M467.0 338.0h0M441.3 338.2h0M442.1 337.1h0M453.1 337.7h0M454.9 330.1h0M475.9 328.4h0M438.0 339.5h0M421.6 334.7h0M431.5 331.4h0M453.7 327.1h0M425.6 331.2h0M437.3 335.5h0M437.7 328.8h0M441.7 333.3h0M465.0 332.2h0M459.4 337.6h0M426.3 339.1h0M431.7 327.0h0M439.9 332.2h0M432.0 320.3h0M446.7 341.1h0M458.4 339.9h0M428.8 327.8h0M423.1 329.3h0M476.3 326.6h0M471.0 328.3h0M438.4 323.9h0M423.6 338.5h0M422.2 325.1h0M439.3 328.4h0M439.0 338.6h0M462.4 329.5h0M465.0 328.3h0M455.1 323.3h0M429.6 325.8h0M422.8 339.2h0M422.5 326.6h0M451.0 339.7h0M419.8 333.3h0M473.9 327.4h0M438.3 323.9h0M462.3 332.9h0M411.3 324.5h0M463.5 335.1h0M457.8 322.5h0M433.5 312.1h0M422.5 336.4h0M459.3 336.7h0M452.7 328.1h0M455.7 336.1h0M472.4 331.9h0M448.0 341.1h0M461.4 335.0h0M427.9 331.8h0M436.0 338.8h0M477.3 325.6h0M423.2 327.3h0M455.5 333.7h0M412.9 324.4h0M464.7 339.7h0M448.1 341.3h0M463.0 336.6h0M429.4 339.2h0M465.6 325.4h0M423.8 328.3h0M466.8 330.9h0M431.9 323.0h0M436.9 333.6h0M422.9 338.6h0M462.5 341.8h0M430.0 329.3h0M460.4 341.7h0M472.3 328.6h0M428.5 338.8h0M430.0 336.7h0M433.1 333.5h0M465.0 326.7h0M433.5 312.0h0M428.3 334.2h0M432.4 340.1h0M467.3 333.1h0M456.0 325.4h0M434.5 323.2h0M448.5 338.1h0M417.4 331.7h0M430.2 339.1h0M438.3 334.7h0M422.1 327.4h0M441.4 332.0h0M420.5 327.3h0M473.5 331.3h0M436.5 319.5h0M414.2 326.0h0M440.4 339.8h0M433.7 332.7h0M437.0 341.9h0M470.1 327.4h0M427.6 341.5h0M465.2 339.8h0M455.6 324.6h0M466.0 341.5h0M473.8 329.0h0M434.2 341.5h0M460.4 333.5h0M454.0 326.0h0M459.4 341.5h0M424.5 325.3h0M415.8 327.5h0M460.8 326.4h0M469.5 324.9h0M475.7 324.6h0M421.8 328.3h0M464.9 325.5h0M432.3 332.5h0M440.3 338.2h0M439.5 337.7h0M433.4 338.4h0M453.6 333.7h0M432.4 313.4h0M454.8 331.2h0M455.0 339.7h0M433.4 330.5h0M451.5 336.2h0M427.0 326.8h0M430.9 338.8h0M433.6 334.3h0M432.9 324.0h0M433.5 326.3h0M452.6 334.5h0M427.7 339.4h0M427.3 334.0h0M462.5 324.7h0M420.3 334.8h0M455.4 325.4h0M425.6 342.0h0M433.2 330.3h0M431.5 332.5h0M465.2 337.6h0M429.7 326.7h0M438.4 330.8h0M455.4 342.2h0M413.3 324.9h0M437.5 332.2h0M469.6 325.7h0M466.5 327.4h0M455.9 337.8h0M463.2 329.6h0M457.9 341.9h0M449.1 339.7h0M448.7 339.8h0M420.6 329.9h0M416.0 329.8h0M422.1 326.0h0M436.1 336.2h0M465.9 339.0h0M459.0 332.5h0M454.3 340.7h0M466.0 341.8h0M425.8 339.5h0M450.9 335.3h0M468.7 325.6h0M440.2 341.3h0M439.6 327.8h0M465.6 325.5h0M455.4 341.1h0M432.2 319.1h0M454.5 332.9h0M441.5 335.5h0M470.1 325.6h0M431.8 333.2h0M421.6 336.0h0M451.3 340.5h0M456.9 324.7h0M450.6 333.3h0M429.7 331.3h0M434.4 332.4h0M437.0 336.5h0M465.5 342.2h0M421.7 336.8h0M435.9 332.1h0M457.7 337.1h0M413.5 325.1h0M476.4 328.1h0M440.0 332.0h0M427.1 336.0h0M422.8 324.6h0M441.6 335.4h0M438.5 332.7h0M470.4 329.7h0M424.4 335.7h0M475.8 330.1h0M413.1 326.0h0M434.1 332.2h0M417.6 327.0h0M422.5 340.7h0M468.3 327.2h0M460.0 332.1h0M465.2 341.6h0M434.2 324.6h0M456.9 338.4h0M429.5 326.5h0M436.2 331.6h0M431.9 331.9h0M421.2 330.5h0M454.1 334.7h0M431.5 337.3h0M428.4 336.6h0M438.4 326.6h0M433.1 313.4h0M425.8 330.7h0M466.7 329.8h0M460.9 336.8h0M451.2 337.0h0M419.3 332.4h0M418.9 335.1h0M457.9 323.9h0M440.9 338.4h0M428.6 339.7h0M420.8 331.4h0M429.9 333.7h0M472.9 326.7h0M434.7 326.1h0M455.0 331.2h0M438.1 327.2h0M469.1 333.8h0M470.6 326.2h0M447.8 340.6h0M437.5 330.3h0M423.1 337.8h0M434.3 325.3h0M438.8 327.5h0M468.7 324.8h0M448.8 342.0h0M432.1 307.8h0M463.6 328.2h0M425.7 332.7h0M414.2 326.3h0M426.0 325.1h0M469.5 326.5h0M457.1 322.0h0M472.8 327.3h0M429.2 326.6h0M428.8 338.8h0M459.0 339.0h0M453.3 341.3h0M433.1 334.2h0M425.9 330.7h0M432.4 338.2h0M435.8 326.8h0M464.2 334.1h0M422.1 340.4h0M457.8 334.1h0M426.6 330.3h0M423.7 341.4h0M433.7 329.0h0M459.6 341.9h0M428.6 341.7h0M437.0 333.6h0M420.5 325.4h0M436.4 334.1h0M469.3 329.2h0M442.8 341.0h0M457.6 322.6h0M470.1 326.5h0M414.4 327.3h0M461.0 325.3h0M449.2 338.9h0M451.4 330.9h0M474.5 331.5h0M422.5 333.9h0M428.3 342.3h0M457.1 335.1h0M459.3 327.0h0M462.0 338.8h0M414.9 328.1h0M435.1 318.3h0M450.3 340.2h0M423.8 337.4h0M461.4 326.6h0M432.6 314.0h0M432.5 335.0h0M437.2 329.8h0M433.6 311.8h0M419.3 334.3h0M451.2 333.8h0M434.9 336.0h0M418.7 331.6h0M434.6 315.7h0M466.8 338.4h0M428.2 336.8h0M426.6 335.1h0M421.7 332.9h0M432.7 325.4h0M432.9 324.0h0M431.7 323.8h0M419.1 331.2h0M458.2 338.6h0M424.3 328.1h0M463.2 334.8h0M436.0 334.8h0M437.5 339.6h0M451.2 331.5h0M471.2 335.6h0M430.0 331.8h0M458.7 329.2h0M437.4 333.2h0M425.5 339.5h0M428.5 325.6h0M447.7 338.7h0M451.8 338.6h0M431.6 309.4h0M462.6 325.6h0M453.1 333.9h0M465.9 335.9h0M423.9 331.3h0M436.7 323.5h0M466.7 338.7h0M412.2 325.7h0M473.2 327.9h0M466.7 342.0h0M432.6 338.5h0M468.8 327.3h0M441.6 332.6h0M416.5 330.8h0M421.5 325.9h0M459.9 325.4h0M457.9 332.7h0M434.3 338.4h0M457.8 327.1h0M416.0 326.9h0M422.2 339.4h0M458.4 329.9h0M468.2 328.2h0M454.7 337.7h0M439.4 332.4h0M458.1 321.9h0M437.5 337.9h0M432.5 310.7h0M433.4 320.3h0M420.3 332.2h0M464.3 334.9h0M468.0 336.6h0M417.6 327.9h0M457.7 321.7h0M415.7 327.4h0M432.2 313.8h0M428.7 338.6h0M423.1 327.5h0M440.6 338.4h0M470.6 324.9h0M476.3 327.0h0M457.2 329.7h0M467.4 324.4h0M415.6 324.6h0M419.8 337.1h0M415.8 331.4h0M465.9 336.8h0M433.4 337.9h0M430.9 329.0h0M451.5 339.2h0M472.4 331.2h0M432.3 310.2h0M435.3 337.5h0M452.8 333.5h0M451.8 333.7h0M456.0 341.7h0M433.6 316.0h0M469.2 336.7h0M450.2 338.4h0M473.5 329.6h0M472.2 325.0h0M461.8 325.7h0M461.2 328.6h0M455.3 341.0h0M435.8 327.0h0M423.4 338.3h0M426.0 333.7h0M452.6 337.4h0M427.6 335.3h0M465.6 338.1h0M459.3 339.0h0M442.4 337.6h0M470.0 336.7h0M433.5 339.5h0M437.0 326.2h0M466.1 337.0h0M435.0 339.2h0M457.1 323.4h0M451.0 339.7h0M472.0 333.1h0M433.2 321.3h0M455.9 338.7h0M469.5 334.4h0M447.8 338.0h0M457.6 329.9h0M429.7 334.3h0M470.1 332.7h0M438.9 331.8h0M467.5 337.9h0M431.8 325.3h0M473.0 330.9h0M455.0 336.1h0M418.9 329.2h0M435.4 340.2h0M460.7 342.1h0M416.9 327.5h0M426.6 338.5h0M436.5 321.3h0M465.7 335.4h0M453.6 334.6h0M421.0 338.1h0M425.2 328.1h0M427.4 335.7h0M453.8 329.1h0M457.8 333.7h0M457.0 332.6h0M435.0 326.6h0M454.5 331.2h0M421.1 325.5h0M421.1 327.0h0M418.2 331.1h0M434.2 314.5h0M426.9 333.8h0M435.5 340.8h0M468.4 330.8h0M458.5 328.4h0M451.5 336.0h0M437.7 328.4h0M438.9 333.0h0M441.1 341.4h0M414.4 326.9h0M434.2 337.9h0M442.5 337.0h0M466.5 328.0h0M393.9 336.5h0M484.8 341.1h0M510.0 325.2h0M514.6 335.1h0M507.6 340.1h0M496.2 331.0h0M506.7 337.1h0M514.3 342.0h0M515.5 326.8h0M498.8 324.3h0M376.0 326.2h0M491.3 326.8h0M381.6 337.3h0M513.8 329.7h0M407.5 340.5h0M488.3 331.8h0M505.3 324.7h0M379.4 325.6h0M495.5 338.3h0M408.3 325.9h0M513.5 325.0h0M376.7 328.2h0M394.8 329.6h0M487.3 333.7h0M408.1 336.5h0M499.5 339.4h0M502.9 332.4h0M489.5 328.3h0M385.9 325.5h0M387.3 342.1h0M495.0 326.9h0M412.0 338.4h0M409.9 326.2h0M377.2 340.9h0M515.3 336.4h0M494.3 341.4h0M400.9 340.9h0M416.4 339.9h0M380.6 338.8h0M390.2 325.9h0M484.7 341.7h0M374.7 324.7h0M505.3 340.4h0M384.5 332.7h0M497.4 326.5h0M510.3 337.5h0M389.9 331.8h0M488.3 330.4h0M513.9 329.9h0M487.6 334.0h0M501.1 331.4h0M489.1 334.2h0M384.0 326.0h0M386.8 331.6h0M409.0 335.9h0M402.3 331.9h0M375.1 327.3h0M512.3 331.9h0M486.4 341.1h0M393.1 328.7h0M480.1 324.4h0M487.6 340.1h0M480.1 337.1h0M391.6 337.1h0M379.4 341.4h0M404.0 328.9h0M512.5 330.8h0M395.3 327.0h0M513.0 325.0h0M388.4 342.1h0M482.3 335.0h0M395.8 342.0h0M486.2 332.2h0M381.7 331.2h0M504.9 339.8h0M503.7 330.5h0M505.8 337.9h0M503.8 325.9h0M503.3 325.8h0M477.6 328.0h0M490.1 340.0h0M452.4 332.6h0M468.8 335.9h0M392.4 329.4h0M440.7 339.1h0M425.9 331.2h0M423.7 331.6h0M420.0 329.6h0M421.4 326.8h0M500.1 332.0h0M428.6 325.9h0M401.6 338.5h0M413.8 338.8h0M393.4 339.9h0M446.3 329.6h0M476.0 338.1h0M432.4 340.3h0M446.4 325.7h0M483.3 339.7h0M377.6 327.9h0M457.7 328.1h0M487.9 330.5h0M457.4 331.1h0M466.3 337.6h0M391.7 338.2h0M396.7 339.9h0M448.4 332.8h0M513.2 330.6h0M482.2 325.8h0M477.7 339.3h0M424.1 330.0h0M383.9 334.6h0M426.5 336.9h0M416.3 332.6h0M425.7 337.4h0" stroke="#BDBDBD" stroke-width="1.5" stroke-linecap="round" fill="none"/>
<line x1="375.1" y1="342.3" x2="515.5" y2="342.3" stroke="#b3b3b3" stroke-width="1.6"/>
<path d="M417.5 300.0h0M420.5 311.6h0M412.6 293.0h0M414.7 313.2h0M428.8 297.8h0M427.9 321.8h0M414.8 316.9h0M430.6 322.4h0M429.9 323.2h0M430.9 318.1h0M428.1 313.4h0M424.4 310.4h0M405.1 312.9h0M424.7 287.6h0M413.6 322.7h0M423.2 274.6h0M410.6 297.9h0M400.0 317.1h0M426.3 314.7h0M426.2 313.6h0M429.2 321.6h0M409.2 319.6h0M425.3 322.6h0M427.2 310.2h0M408.0 312.0h0M404.3 316.8h0M429.5 316.3h0M428.1 319.0h0M424.1 315.2h0M413.6 322.7h0M421.6 321.0h0M426.6 307.6h0M429.8 318.5h0M428.7 320.1h0M424.8 322.8h0M416.8 285.9h0M425.2 319.8h0M422.7 321.4h0M414.6 300.5h0M431.2 315.8h0M422.5 315.5h0M423.4 317.8h0M423.0 323.2h0M430.5 319.1h0M427.0 307.1h0M411.3 322.0h0M423.7 311.7h0M398.5 321.4h0M421.6 316.6h0M426.2 309.0h0M427.4 323.5h0M424.6 321.0h0M409.7 311.9h0M428.5 321.4h0M430.3 315.1h0M429.4 314.3h0M426.0 314.0h0M408.6 307.3h0M415.9 322.6h0M428.2 299.7h0M418.6 310.3h0M424.2 309.4h0M395.5 323.0h0M429.3 294.3h0M425.2 319.6h0M429.1 321.2h0M428.4 299.1h0M417.9 313.4h0M418.7 319.7h0M421.5 320.0h0M427.1 321.4h0M420.2 298.2h0M425.2 308.6h0M430.7 311.8h0M428.1 314.7h0M422.8 319.0h0M421.9 311.1h0M430.7 307.6h0M427.9 322.8h0M426.8 275.6h0M428.1 295.6h0M418.6 322.4h0M427.8 312.3h0M429.0 321.3h0M415.4 300.1h0M423.5 318.0h0M417.3 322.1h0M421.0 318.4h0M418.8 319.5h0M429.1 315.8h0M421.8 304.6h0M429.1 320.8h0M421.0 301.5h0M429.0 302.6h0M402.8 316.4h0M426.9 307.3h0M428.4 265.8h0M426.9 310.7h0M430.2 316.3h0M413.5 321.4h0M430.6 317.3h0M415.1 300.5h0M419.4 314.5h0M411.3 315.9h0M405.2 300.0h0M424.5 310.4h0M425.4 307.2h0M419.1 295.1h0M422.7 315.3h0M427.9 318.1h0M428.1 314.9h0M406.3 315.5h0M407.0 319.1h0M423.3 322.2h0M429.7 291.1h0M422.5 308.5h0M429.9 315.1h0M428.2 319.5h0M429.7 315.7h0M416.7 317.9h0M430.2 317.9h0M407.1 308.3h0M428.1 309.0h0M424.3 321.2h0M417.4 323.6h0M430.3 321.3h0M427.0 295.2h0M426.2 321.3h0M427.3 289.8h0M404.1 321.3h0M425.8 314.1h0M424.4 318.3h0M426.5 311.7h0M428.7 296.1h0M428.9 314.6h0M429.8 304.2h0M416.7 320.9h0M429.6 320.0h0M421.1 316.7h0M429.9 323.2h0M428.0 294.4h0M406.5 318.3h0M422.1 322.9h0M427.3 297.9h0M415.1 317.9h0M401.6 309.5h0M414.3 320.4h0M425.0 313.2h0M423.8 322.8h0M425.0 306.6h0M431.0 315.8h0M417.2 317.7h0M427.8 318.9h0M429.9 316.6h0M430.8 314.4h0M402.9 319.3h0M404.7 320.2h0M423.2 314.6h0M415.7 301.3h0M415.4 317.5h0M430.5 281.4h0M425.9 295.6h0M426.8 315.2h0M401.7 311.0h0M404.4 312.1h0M428.4 316.9h0M419.1 280.5h0M426.0 310.2h0M421.7 320.9h0M411.1 296.3h0M400.0 320.1h0M423.2 293.8h0M429.0 315.4h0M430.3 279.9h0M416.8 321.7h0M426.3 294.6h0M429.7 322.7h0M408.5 316.7h0M424.5 294.1h0M428.2 319.4h0M424.0 316.7h0M421.8 296.0h0M420.8 318.7h0M417.2 311.6h0M425.0 322.3h0M429.2 301.5h0M427.4 305.2h0M430.1 262.0h0M394.0 319.1h0M426.8 321.5h0M420.8 314.4h0M428.9 317.0h0M423.0 321.0h0M412.9 300.5h0M419.9 306.7h0M420.5 315.3h0M424.9 310.8h0M419.2 300.5h0M421.7 308.3h0M420.4 320.9h0M427.8 320.9h0M398.6 310.2h0M426.9 302.3h0M426.3 314.8h0M429.6 322.1h0M424.3 308.5h0M427.8 299.9h0M427.8 322.8h0M430.9 297.6h0M430.0 319.9h0M424.4 321.5h0M427.8 319.2h0M430.3 319.6h0M429.8 318.4h0M414.5 311.0h0M429.9 322.9h0M420.9 289.5h0M429.5 311.8h0M423.2 299.3h0M417.7 318.8h0M420.0 320.6h0M424.4 319.0h0M413.7 298.7h0M428.7 321.7h0M425.3 299.2h0M420.5 321.9h0M400.1 315.6h0M424.0 299.7h0M423.1 311.3h0M430.5 319.9h0M422.4 317.1h0M427.6 319.0h0M422.3 318.0h0M428.3 305.4h0M427.1 319.1h0M428.1 320.0h0M430.0 310.4h0M428.4 312.9h0M397.6 317.8h0M427.0 307.5h0M422.9 311.2h0M415.6 321.4h0M426.5 285.8h0M425.2 312.9h0M395.8 320.4h0M425.8 317.9h0M430.6 323.6h0M431.1 306.1h0M429.8 296.7h0M425.6 307.0h0M420.8 313.3h0M418.3 323.0h0M428.7 304.0h0M429.5 319.5h0M413.9 306.3h0M430.9 321.9h0M420.1 298.2h0M429.0 312.7h0M409.8 297.6h0M414.2 297.8h0M422.5 312.6h0M422.9 305.8h0M418.8 306.9h0M428.4 259.2h0M418.3 321.7h0M429.1 317.8h0M429.8 315.6h0M430.6 317.7h0M426.2 308.3h0M430.9 321.1h0M430.3 308.0h0M426.8 320.4h0M414.7 323.6h0M421.7 300.8h0M427.2 318.1h0M428.5 299.7h0M430.5 304.0h0M414.8 309.4h0M427.3 317.3h0M426.1 273.8h0M426.2 306.7h0M423.7 318.3h0M421.5 284.9h0M404.3 316.3h0M429.5 304.6h0M416.4 308.9h0M429.1 312.0h0M412.6 315.4h0M422.9 306.1h0M429.8 288.6h0M416.8 306.8h0M422.0 296.3h0M401.6 309.0h0M430.1 318.4h0M427.9 316.7h0M431.1 320.1h0M427.8 303.4h0M412.8 313.6h0M410.1 309.5h0M415.2 314.8h0M419.8 312.1h0M423.5 306.3h0M430.4 312.1h0M400.3 323.0h0M424.7 309.6h0M427.1 314.9h0M421.6 313.9h0M416.9 319.4h0M401.9 311.8h0M431.2 305.0h0M427.8 321.8h0M416.1 316.1h0M430.8 321.3h0M419.5 288.7h0M416.8 317.2h0M410.5 316.4h0M426.0 308.7h0M428.7 306.8h0M416.3 308.7h0M423.9 317.5h0M428.2 322.1h0M428.9 307.4h0M427.9 306.3h0M426.9 304.8h0M421.3 303.1h0M429.8 321.2h0M425.0 299.6h0M413.3 306.3h0M416.9 322.9h0M427.7 313.6h0M425.9 318.8h0M419.9 308.3h0M422.9 316.7h0M419.1 318.1h0M429.2 303.5h0M430.4 323.0h0M426.6 323.4h0M421.2 299.0h0M428.0 315.9h0M417.0 323.2h0M421.6 306.1h0M423.8 321.6h0M411.7 317.4h0M419.8 304.0h0M421.3 310.3h0M427.7 322.2h0M409.7 322.5h0M422.3 323.2h0M423.9 305.2h0M412.7 323.1h0M426.9 322.4h0M429.9 296.2h0M424.0 315.4h0M416.6 317.0h0M426.7 269.6h0M407.3 307.1h0M422.8 323.0h0M426.1 306.7h0M430.9 315.5h0M429.8 268.7h0M430.1 281.1h0M429.4 294.7h0M430.6 323.3h0M430.0 322.9h0M424.4 323.5h0M429.2 316.0h0M418.3 309.2h0M430.3 311.1h0M422.1 314.5h0M426.6 323.7h0M430.1 292.2h0M431.0 322.8h0M428.5 309.8h0M430.1 308.3h0M425.9 323.6h0M423.8 296.9h0M417.7 282.2h0M428.3 315.7h0M426.5 315.0h0M430.1 321.2h0M426.9 293.3h0M424.9 299.1h0M428.8 320.7h0M423.1 305.9h0M424.9 309.7h0M427.3 301.2h0M429.1 297.0h0M426.4 315.2h0M431.1 307.2h0M403.1 323.7h0M410.5 318.6h0M418.8 318.2h0M421.6 316.2h0M426.5 318.0h0M429.7 323.1h0M431.2 317.6h0M423.0 316.8h0M431.0 314.9h0M417.6 310.1h0M423.4 320.2h0M417.2 299.2h0M422.2 284.9h0M430.8 316.4h0M418.7 319.9h0M416.7 322.1h0M430.4 312.7h0M417.8 297.2h0M430.4 320.7h0M426.5 323.5h0M420.3 304.2h0M426.9 317.6h0M430.3 306.3h0M430.9 314.5h0M422.9 302.5h0M399.9 313.2h0M427.4 319.8h0M430.1 300.6h0M425.0 317.0h0M416.1 322.8h0M427.9 320.8h0M425.5 311.1h0M400.3 322.2h0M408.8 315.1h0M428.6 314.1h0M430.9 315.3h0M413.0 309.5h0M424.6 316.1h0M429.6 319.7h0M430.8 320.7h0M416.4 282.0h0M415.4 311.4h0M425.2 312.7h0M428.3 277.1h0M408.8 319.6h0M418.1 323.2h0M429.7 312.0h0M423.2 318.1h0M420.8 320.9h0M426.6 309.0h0M425.5 310.4h0M425.4 322.3h0M418.6 306.0h0M428.6 314.1h0M425.9 305.2h0M429.2 306.0h0M415.6 314.8h0M424.2 320.0h0M425.1 291.9h0M422.4 307.1h0M428.4 314.2h0M417.4 321.5h0M423.1 313.9h0M430.9 318.4h0M429.9 289.9h0M430.4 323.3h0M431.0 302.7h0M424.7 322.3h0M424.3 314.2h0M419.5 318.1h0M430.3 306.8h0M431.2 301.5h0M419.6 287.7h0M412.9 309.7h0M417.1 303.2h0M428.3 318.1h0M428.8 323.2h0M427.1 311.0h0M430.2 290.8h0M429.9 313.2h0M412.7 314.7h0M429.1 309.1h0M428.4 323.1h0M408.4 312.2h0M430.9 301.3h0M425.1 317.9h0M423.8 308.5h0M422.1 323.4h0M431.2 315.2h0M395.8 320.9h0M416.9 296.6h0M429.0 322.0h0M408.9 323.1h0M429.8 308.5h0M430.6 321.5h0M420.0 304.3h0M430.4 320.6h0M424.2 318.0h0M429.2 313.9h0M408.7 322.1h0M424.5 316.0h0M428.6 315.3h0M427.7 309.0h0M421.2 314.0h0M426.4 310.9h0M427.1 322.1h0M414.9 309.0h0M423.7 305.0h0M398.2 314.5h0M421.2 309.8h0M415.5 318.4h0M423.4 319.2h0M417.6 306.7h0M407.2 312.1h0M403.9 320.4h0M431.2 314.4h0M420.7 306.3h0M427.8 309.9h0M431.0 319.3h0M421.5 317.2h0M428.5 314.3h0M418.4 302.4h0M431.2 323.1h0M428.5 318.8h0M423.3 314.8h0M428.8 302.9h0M421.6 321.2h0M429.3 316.7h0M414.2 318.5h0M416.7 323.2h0M426.8 317.1h0M428.5 308.6h0M429.7 310.6h0M430.8 318.0h0M425.8 293.8h0M430.2 320.1h0M402.8 316.2h0M412.3 323.5h0M431.2 305.8h0M426.1 323.2h0M430.2 304.5h0M430.9 312.2h0M426.7 323.7h0M409.6 316.9h0M429.7 322.4h0M422.3 317.5h0M404.1 320.5h0M425.5 296.4h0M431.2 321.2h0M416.2 314.5h0M418.2 310.9h0M430.7 254.6h0M429.5 323.5h0M408.2 321.8h0M411.6 318.3h0M413.5 318.0h0M426.4 309.1h0M404.3 321.4h0M410.4 300.8h0M428.9 322.3h0M424.1 309.3h0M421.2 320.9h0M428.6 286.3h0M417.5 319.7h0M424.7 300.3h0M428.1 312.3h0M430.7 299.9h0M428.0 313.3h0M413.9 316.0h0M417.2 313.6h0M428.6 322.0h0M429.9 319.2h0M429.6 318.0h0M429.6 318.2h0M418.1 318.5h0M427.2 322.6h0M419.8 311.6h0M431.0 306.4h0M425.6 307.5h0M425.4 319.9h0M431.0 319.5h0M428.4 323.6h0M422.7 302.0h0M418.2 303.1h0M417.8 286.5h0M427.7 279.0h0M424.4 316.4h0M430.3 288.6h0M426.5 320.0h0M425.3 315.6h0M429.1 292.5h0M417.3 318.1h0M429.2 308.5h0M430.5 287.6h0M431.2 310.1h0M417.0 313.4h0M431.1 299.7h0M422.0 284.6h0M417.8 300.5h0M424.5 317.3h0M427.0 322.5h0M423.8 297.2h0M412.9 317.4h0M427.3 318.8h0M427.7 317.4h0M423.4 282.2h0M404.8 320.3h0M428.4 299.7h0M429.5 300.9h0M427.3 320.1h0M413.8 317.9h0M417.7 281.8h0M417.9 300.4h0M422.3 284.2h0M413.5 284.5h0M403.5 257.7h0M425.5 266.1h0M390.6 238.3h0M428.2 308.8h0M425.6 307.6h0M411.9 322.7h0M427.7 318.5h0M431.1 316.8h0M431.2 320.2h0M430.1 316.6h0M426.7 319.6h0M412.9 309.5h0M401.8 253.1h0M415.2 319.8h0M426.1 313.3h0M408.6 318.9h0M402.7 289.1h0M429.7 263.4h0M414.9 239.3h0M402.8 275.2h0M430.2 224.3h0M422.9 256.9h0M428.2 264.7h0M410.0 320.8h0M405.1 257.6h0M420.8 302.6h0M421.2 311.5h0M427.1 231.1h0M428.2 279.8h0M403.7 296.9h0M408.0 302.9h0M429.1 277.0h0M431.2 294.2h0M427.2 305.0h0M418.9 322.9h0M413.5 300.7h0M430.2 278.1h0M408.1 300.4h0M420.8 319.2h0M429.6 310.0h0M399.0 251.3h0M407.8 298.6h0M427.6 295.9h0M408.1 289.2h0M430.3 286.2h0M429.4 315.7h0M419.4 318.2h0M427.3 287.0h0M419.4 323.5h0M431.2 316.7h0M420.0 321.6h0M409.6 306.3h0M428.9 314.7h0M414.0 321.2h0M424.9 322.8h0M416.1 254.8h0M427.6 290.9h0M429.3 315.4h0M406.6 303.9h0M408.3 321.6h0M410.9 311.9h0M417.4 319.0h0M418.1 224.3h0M423.7 242.7h0M430.2 287.2h0M429.8 308.5h0M429.4 270.2h0M408.6 312.5h0M408.2 289.1h0M407.5 290.0h0M402.5 321.9h0M419.4 308.0h0M430.3 282.0h0M405.2 318.3h0M423.1 273.0h0M416.7 311.6h0M420.2 265.9h0M425.0 303.0h0M429.0 293.5h0M427.9 316.8h0M408.9 316.3h0M418.0 321.6h0M401.8 298.0h0M424.9 319.4h0M427.2 317.4h0M431.2 289.5h0M431.0 294.6h0M423.1 281.5h0M420.5 302.6h0M430.9 262.8h0M426.3 306.0h0M429.8 322.7h0M410.1 301.4h0M408.1 315.9h0M423.5 299.5h0M428.5 318.6h0M420.5 272.5h0M415.0 312.6h0M430.6 323.7h0M424.6 306.8h0M413.1 288.0h0M412.5 308.2h0M419.6 305.9h0M428.2 278.5h0M429.0 319.1h0M431.1 287.6h0M426.8 267.8h0M381.1 262.6h0M388.5 285.8h0M384.8 215.9h0M389.3 208.9h0M425.4 214.2h0M385.7 214.3h0M388.9 282.4h0M408.4 211.5h0M384.1 285.0h0M406.4 292.0h0M406.4 229.6h0M406.3 250.3h0M379.9 286.8h0M391.3 258.1h0M400.8 284.3h0M419.0 221.0h0M410.9 266.5h0M424.6 291.1h0M408.1 258.1h0M413.0 236.4h0M393.1 256.0h0M397.1 249.8h0M389.6 270.6h0M410.4 267.4h0M412.2 292.3h0M427.0 277.5h0M408.6 237.7h0M403.6 266.9h0M395.8 251.6h0M387.1 270.1h0M383.4 235.2h0M395.4 268.5h0M397.1 238.0h0M409.3 228.6h0M384.6 272.0h0M381.0 225.4h0M392.9 289.3h0M413.0 283.6h0M379.6 278.7h0M388.1 215.3h0M421.5 209.7h0M411.0 242.3h0M396.4 256.4h0M406.4 241.7h0M407.1 239.8h0M406.0 265.3h0M421.1 217.0h0M424.3 214.0h0M400.7 222.0h0M418.7 230.8h0M401.8 287.8h0M397.3 289.3h0M396.9 269.6h0M427.0 232.2h0M415.4 218.8h0M387.6 248.4h0M388.8 227.5h0M423.7 242.9h0M404.8 292.1h0M417.6 235.7h0M425.6 269.0h0M389.7 284.0h0M398.2 261.9h0M396.4 247.9h0M419.6 245.5h0M385.2 268.3h0M420.1 235.3h0M383.0 283.1h0M393.6 239.2h0M398.9 277.4h0M409.5 238.6h0M414.3 278.8h0M383.4 272.7h0M403.7 237.7h0M377.9 226.3h0M421.2 235.8h0M425.7 223.1h0M413.0 238.1h0M388.0 211.6h0M383.8 274.7h0M421.9 229.0h0M398.0 284.5h0M393.4 248.2h0M414.4 277.2h0M411.2 216.3h0M401.9 239.6h0M424.1 228.1h0M426.8 209.5h0M408.6 239.3h0M389.0 223.0h0M404.6 249.9h0M389.2 264.7h0M387.4 269.4h0M391.4 236.9h0M402.4 259.5h0M420.5 251.1h0M403.4 269.7h0M395.9 262.9h0M394.0 224.4h0M395.1 238.2h0M424.4 232.1h0M383.0 253.5h0M408.7 289.8h0M385.2 279.1h0M393.4 251.0h0M394.0 251.0h0M411.7 255.1h0M380.7 273.5h0M397.0 241.5h0M376.5 243.8h0M376.5 267.0h0M376.5 315.5h0M376.5 288.5h0M376.5 266.0h0M376.5 271.6h0M376.5 241.3h0M376.5 280.3h0M376.5 254.6h0M376.5 306.9h0M376.5 300.9h0M376.5 297.4h0M376.5 269.0h0M376.5 293.8h0M376.5 283.3h0M376.5 290.8h0M377.1 201.8h0M378.5 201.8h0M384.7 201.8h0M387.5 201.8h0M390.2 201.8h0M393.0 201.8h0M395.7 201.8h0M398.5 201.8h0M401.2 201.8h0M404.0 201.8h0M406.7 201.8h0M409.5 201.8h0M412.3 201.8h0" stroke="#2E22D8" stroke-width="1.8" stroke-linecap="round" fill="none"/>
<path d="M464.8 311.2h0M461.1 314.0h0M460.5 321.5h0M461.6 299.4h0M465.9 311.0h0M461.9 322.1h0M459.7 308.8h0M460.0 305.8h0M459.4 319.2h0M459.6 317.0h0M474.9 320.1h0M463.6 321.1h0M460.4 315.7h0M464.1 323.0h0M460.6 323.5h0M464.3 308.0h0M468.6 297.0h0M460.7 322.0h0M463.7 320.0h0M464.1 323.0h0M463.2 322.0h0M472.7 322.7h0M465.7 316.9h0M460.3 296.6h0M472.3 321.1h0M466.9 317.7h0M459.7 319.9h0M460.6 321.1h0M475.3 323.5h0M460.1 314.9h0M465.8 313.2h0M465.8 300.9h0M474.0 299.1h0M460.4 312.7h0M468.3 292.5h0M462.7 313.3h0M465.4 315.5h0M460.9 291.8h0M464.2 318.8h0M474.3 320.8h0M467.5 306.5h0M467.0 316.4h0M459.8 322.2h0M465.1 318.1h0M466.5 320.1h0M460.8 317.3h0M472.4 298.0h0M466.5 323.0h0M470.5 306.7h0M463.8 312.2h0M465.8 303.3h0M468.1 316.0h0M463.7 315.9h0M459.6 318.1h0M466.8 314.7h0M462.3 323.3h0M466.2 322.5h0M460.5 313.2h0M460.2 307.4h0M460.2 323.5h0M465.8 290.5h0M461.0 304.7h0M461.6 323.3h0M463.7 321.1h0M463.2 317.7h0M465.3 295.1h0M459.9 308.9h0M459.8 317.8h0M464.7 318.6h0M466.2 323.1h0M479.8 316.4h0M462.8 313.8h0M464.4 320.4h0M459.5 307.3h0M469.2 310.3h0M473.1 312.9h0M463.0 321.6h0M469.9 314.1h0M465.7 321.5h0M463.7 323.5h0M460.6 314.0h0M461.4 323.2h0M462.3 312.9h0M459.9 318.9h0M463.2 321.7h0M466.3 322.7h0M460.7 301.6h0M466.6 302.9h0M460.5 322.5h0M466.8 323.5h0M461.9 312.1h0M459.7 302.1h0M461.7 301.3h0M464.3 306.8h0M466.0 318.7h0M469.6 314.2h0M462.1 320.9h0M465.2 311.6h0M466.9 315.9h0M466.0 321.6h0M465.6 317.2h0M462.8 319.1h0M462.8 299.1h0M460.6 316.5h0M460.7 316.8h0M460.7 308.8h0M463.6 322.2h0M471.4 315.7h0M460.5 318.3h0M471.7 308.2h0M462.5 317.7h0M472.2 312.3h0M459.7 316.0h0M462.5 319.0h0M463.7 315.5h0M461.9 307.3h0M472.6 319.5h0M463.2 315.6h0M460.5 316.1h0M464.4 319.3h0M467.6 320.8h0M464.0 320.6h0M459.9 320.8h0M462.6 314.6h0M465.0 323.5h0M468.2 310.3h0M466.2 321.4h0M460.6 320.2h0M460.9 318.1h0M461.3 283.1h0M460.2 317.3h0M467.9 296.2h0M472.5 322.1h0M465.4 294.0h0M474.3 313.0h0M481.5 321.8h0M465.1 322.7h0M469.3 314.5h0M465.0 317.2h0M465.0 315.3h0M475.1 308.2h0M467.8 321.2h0M464.0 322.9h0M468.2 319.3h0M468.7 323.2h0M468.8 318.5h0M462.6 314.5h0M461.0 320.8h0M470.6 297.8h0M473.2 322.4h0M461.6 322.2h0M466.1 314.4h0M462.6 313.8h0M459.9 311.6h0M462.6 319.4h0M461.9 310.4h0M475.8 322.1h0M465.6 290.3h0M467.4 312.0h0M477.6 313.8h0M463.2 310.6h0M459.5 307.1h0M467.6 319.4h0M462.2 308.9h0M466.6 322.1h0M464.8 321.2h0M461.4 323.7h0M470.5 315.0h0M461.4 319.3h0M470.3 292.3h0M462.8 309.7h0M467.3 323.3h0M467.3 323.1h0M478.4 322.8h0M467.3 322.6h0M473.7 299.3h0M463.6 296.9h0M476.8 314.2h0M460.8 310.2h0M468.1 322.8h0M461.2 319.9h0M468.6 313.8h0M479.9 322.0h0M465.1 322.3h0M467.5 315.2h0M462.4 314.9h0M464.7 319.8h0M466.6 319.9h0M466.8 314.2h0M467.4 300.5h0M460.0 307.9h0M460.3 306.7h0M461.7 319.5h0M468.7 288.0h0M465.4 318.3h0M472.4 322.0h0M464.0 319.2h0M476.3 307.4h0M465.2 320.1h0M480.4 321.1h0M469.8 323.6h0M461.5 320.6h0M459.9 322.1h0M471.8 312.9h0M462.5 312.3h0M460.3 314.9h0M461.7 300.9h0M471.9 323.1h0M465.5 314.3h0M464.1 320.1h0M463.7 305.5h0M476.3 323.3h0M478.0 323.4h0M463.0 302.4h0M462.9 319.2h0M460.3 318.7h0M463.9 316.2h0M460.0 298.1h0M462.7 319.4h0M462.2 291.3h0M463.5 320.7h0M471.4 320.2h0M462.7 313.5h0M468.8 317.7h0M463.3 314.8h0M466.3 311.9h0M460.1 309.5h0M467.6 323.6h0M462.0 314.1h0M465.0 317.3h0M473.1 275.2h0M461.0 300.5h0M467.5 267.0h0M460.1 303.8h0M461.8 316.4h0M492.0 307.0h0M469.4 300.9h0M459.7 298.9h0M471.6 300.1h0M462.0 304.8h0M484.9 297.8h0M478.1 290.8h0M467.5 288.7h0M471.2 307.3h0M469.1 308.2h0M482.0 320.1h0M474.2 264.6h0M465.4 306.9h0M459.7 287.8h0M473.9 321.0h0M466.1 272.2h0M465.4 303.8h0M466.0 298.5h0M461.7 306.8h0M471.2 316.7h0M467.7 308.8h0M465.3 281.2h0M482.9 289.7h0M459.5 318.5h0M466.6 304.9h0M488.0 316.5h0M479.5 299.8h0M462.6 253.5h0M462.4 310.1h0M463.4 315.7h0M473.1 304.1h0M469.7 253.9h0M485.6 306.6h0M485.7 306.0h0M467.1 319.9h0M490.4 289.7h0M471.2 247.5h0M490.7 271.9h0M464.5 305.5h0M494.6 295.0h0M465.7 310.7h0M468.4 318.9h0M462.0 285.7h0M462.9 318.2h0M459.8 306.3h0M483.3 254.6h0M460.0 299.6h0M463.0 320.9h0M463.1 321.2h0M484.3 310.2h0M488.3 298.7h0M465.0 314.9h0M461.3 318.1h0M462.1 322.5h0M470.9 316.0h0M463.7 319.7h0M485.1 310.5h0M484.3 321.0h0M482.5 287.8h0M462.4 296.3h0M461.8 268.1h0M476.5 315.5h0M460.1 318.8h0M462.2 322.6h0M462.6 273.3h0M464.2 319.6h0M467.9 271.0h0M486.2 322.9h0M461.5 292.3h0M459.8 307.7h0M460.2 319.2h0M473.9 256.2h0M465.9 307.9h0M472.9 298.3h0M463.7 323.3h0M467.6 301.1h0M463.9 295.9h0M468.8 293.2h0M464.9 256.7h0M460.2 319.6h0M459.7 304.9h0M460.9 316.7h0M460.1 311.7h0M462.0 294.0h0M468.8 313.9h0M463.1 256.9h0M462.8 322.7h0M484.4 321.6h0M463.3 286.7h0M459.5 306.0h0M474.5 290.4h0M480.9 310.6h0M467.7 317.8h0M473.2 317.9h0M476.6 304.2h0M464.0 295.8h0M464.8 290.6h0M461.2 279.6h0M462.4 274.3h0M471.7 289.5h0M470.1 302.6h0M479.2 308.2h0M469.0 319.2h0M477.4 311.7h0M465.4 293.9h0M471.2 320.9h0M461.3 265.3h0M493.3 317.1h0M463.3 312.1h0M462.8 250.2h0M469.5 311.9h0M482.3 312.9h0M460.1 295.8h0M459.3 305.2h0M476.8 282.9h0M469.4 293.1h0M480.3 320.7h0M477.3 323.6h0M470.0 306.7h0M472.7 316.0h0M477.2 303.0h0M460.7 295.5h0M467.6 322.6h0M491.7 313.3h0M462.0 323.2h0M463.3 321.4h0M470.2 294.7h0M462.5 249.6h0M465.5 313.1h0M464.9 298.3h0M469.4 302.6h0M491.9 317.1h0M468.5 312.6h0M462.8 317.7h0M466.2 313.7h0M466.8 269.2h0M478.6 319.9h0M464.1 322.3h0M460.3 283.2h0M468.3 317.0h0M469.7 286.6h0M465.3 288.8h0M463.2 314.9h0M466.6 294.3h0M464.2 281.0h0M473.2 293.5h0M471.2 304.4h0M486.0 278.1h0M474.6 267.8h0M460.7 276.3h0M462.1 295.6h0M459.6 307.1h0M461.2 289.7h0M494.3 308.7h0M476.4 322.7h0M463.7 290.2h0M469.9 316.2h0M492.5 321.1h0M459.9 291.2h0M463.4 277.1h0M460.8 322.5h0M479.7 288.6h0M467.4 307.9h0M464.1 305.1h0M461.9 312.4h0M477.4 318.9h0M464.3 302.0h0M473.5 259.3h0M460.4 268.4h0M468.8 315.9h0M460.2 297.1h0M463.9 323.1h0M473.4 320.5h0M472.6 313.7h0M473.3 322.4h0M470.1 302.8h0M493.2 310.8h0M459.4 270.7h0M474.5 296.1h0M461.0 307.7h0M459.7 317.4h0M477.4 247.6h0M467.5 290.7h0M463.0 282.0h0M461.1 312.1h0M482.5 201.8h0M484.5 201.8h0M474.9 208.8h0M474.2 227.1h0M484.5 236.9h0M514.1 276.3h0M503.8 290.3h0M514.1 301.6h0M514.1 311.4h0M514.1 319.8h0M499.0 279.1h0" stroke="#F42A36" stroke-width="1.8" stroke-linecap="round" fill="none"/>
<path d="M306.5 17.5L303.2 21.8M305.5 24.5L301.5 29.4M334.5 71.0L330.6 75.0M285.0 81.0L281.8 84.8M283.5 93.0L280.1 97.6M289.5 123.5L286.0 128.0M315.0 121.5L311.4 126.1M328.0 131.5L324.6 136.6M282.5 145.0L278.0 149.3M301.0 146.5L289.3 148.5M285.0 153.5L280.3 155.9M291.5 157.5L275.4 155.1" stroke="#3DD66A" stroke-width="0.85" fill="none"/>
<path d="M303.2 21.8h0M301.5 29.4h0M330.6 75.0h0M281.8 84.8h0M280.1 97.6h0M286.0 128.0h0M311.4 126.1h0M324.6 136.6h0M278.0 149.3h0M289.3 148.5h0M280.3 155.9h0M275.4 155.1h0" stroke="#3DD66A" stroke-width="2.5" stroke-linecap="round" fill="none"/>
<text x="306.7" y="19.6" font-family="Liberation Sans" font-size="5.75" font-weight="normal" text-anchor="start" fill="#1a1a1a" stroke="#1a1a1a" stroke-width="0.1">GADD45B</text>
<text x="306.0" y="26.5" font-family="Liberation Sans" font-size="5.75" font-weight="normal" text-anchor="start" fill="#1a1a1a" stroke="#1a1a1a" stroke-width="0.1">PCK1</text>
<text x="335.0" y="72.5" font-family="Liberation Sans" font-size="5.75" font-weight="normal" text-anchor="start" fill="#1a1a1a" stroke="#1a1a1a" stroke-width="0.1">fos</text>
<text x="285.3" y="83.0" font-family="Liberation Sans" font-size="5.75" font-weight="normal" text-anchor="start" fill="#1a1a1a" stroke="#1a1a1a" stroke-width="0.1">G6PC</text>
<text x="284.0" y="95.3" font-family="Liberation Sans" font-size="5.75" font-weight="normal" text-anchor="start" fill="#1a1a1a" stroke="#1a1a1a" stroke-width="0.1">TNFRSF10A</text>
<text x="289.3" y="125.1" font-family="Liberation Sans" font-size="5.75" font-weight="normal" text-anchor="start" fill="#1a1a1a" stroke="#1a1a1a" stroke-width="0.1">Idha</text>
<text x="315.5" y="123.4" font-family="Liberation Sans" font-size="5.75" font-weight="normal" text-anchor="start" fill="#1a1a1a" stroke="#1a1a1a" stroke-width="0.1">JUN</text>
<text x="328.3" y="133.8" font-family="Liberation Sans" font-size="5.75" font-weight="normal" text-anchor="start" fill="#1a1a1a" stroke="#1a1a1a" stroke-width="0.1">hsp70</text>
<text x="277.8" y="139.5" font-family="Liberation Sans" font-size="5.75" font-weight="normal" text-anchor="start" fill="#1a1a1a" stroke="#1a1a1a" stroke-width="0.1">MCL1</text>
<text x="282.8" y="146.9" font-family="Liberation Sans" font-size="5.75" font-weight="normal" text-anchor="start" fill="#1a1a1a" stroke="#1a1a1a" stroke-width="0.1">Aldoa</text>
<text x="301.6" y="148.0" font-family="Liberation Sans" font-size="5.75" font-weight="normal" text-anchor="start" fill="#1a1a1a" stroke="#1a1a1a" stroke-width="0.1">SLC16A3</text>
<text x="285.2" y="155.1" font-family="Liberation Sans" font-size="5.75" font-weight="normal" text-anchor="start" fill="#1a1a1a" stroke="#1a1a1a" stroke-width="0.1">CDKN2A</text>
<text x="291.8" y="159.2" font-family="Liberation Sans" font-size="5.75" font-weight="normal" text-anchor="start" fill="#1a1a1a" stroke="#1a1a1a" stroke-width="0.1">cyc-B</text>
<text x="281.1" y="164.9" font-family="Liberation Sans" font-size="5.75" font-weight="normal" text-anchor="start" fill="#1a1a1a" stroke="#1a1a1a" stroke-width="0.1">HK1</text>
<path d="M481.0 18.0L477.5 22.1M516.5 55.0L513.7 59.3M471.6 53.4L466.8 62.0M459.0 58.4L457.2 65.8M484.4 57.2L477.3 62.0M484.4 62.0L477.3 62.5M477.9 67.8L474.0 72.5M464.9 78.3L466.8 83.0M478.3 77.3L472.5 82.1M463.0 87.8L459.1 94.5M480.2 90.1L475.4 95.5M451.5 95.5L454.4 100.3M470.6 98.4L464.9 101.2M498.4 98.4L494.0 102.2M456.0 130.0L454.0 133.0M476.0 131.0L462.0 134.0M458.0 149.0L454.4 140.2M472.0 149.5L461.0 141.1M455.0 155.0L457.2 141.1M470.0 155.5L461.0 141.0M491.7 157.4L468.7 141.1M424.0 138.0L425.0 140.0M435.0 138.5L436.5 141.0" stroke="#3DD66A" stroke-width="0.85" fill="none"/>
<path d="M477.5 22.1h0M513.7 59.3h0M466.8 62.0h0M457.2 65.8h0M477.3 62.0h0M477.3 62.5h0M474.0 72.5h0M466.8 83.0h0M472.5 82.1h0M459.1 94.5h0M475.4 95.5h0M454.4 100.3h0M464.9 101.2h0M494.0 102.2h0M454.0 133.0h0M462.0 134.0h0M454.4 140.2h0M461.0 141.1h0M457.2 141.1h0M461.0 141.0h0M468.7 141.1h0M425.0 140.0h0M436.5 141.0h0" stroke="#3DD66A" stroke-width="2.5" stroke-linecap="round" fill="none"/>
<text x="481.4" y="19.7" font-family="Liberation Sans" font-size="5.75" font-weight="normal" text-anchor="start" fill="#1a1a1a" stroke="#1a1a1a" stroke-width="0.1">PCK1</text>
<text x="516.8" y="57.0" font-family="Liberation Sans" font-size="5.75" font-weight="normal" text-anchor="start" fill="#1a1a1a" stroke="#1a1a1a" stroke-width="0.1">hsp70</text>
<text x="471.0" y="53.0" font-family="Liberation Sans" font-size="5.75" font-weight="normal" text-anchor="start" fill="#1a1a1a" stroke="#1a1a1a" stroke-width="0.1">Aldoa</text>
<text x="451.9" y="58.2" font-family="Liberation Sans" font-size="5.75" font-weight="normal" text-anchor="start" fill="#1a1a1a" stroke="#1a1a1a" stroke-width="0.1">Pnpla2</text>
<text x="484.4" y="58.2" font-family="Liberation Sans" font-size="5.75" font-weight="normal" text-anchor="start" fill="#1a1a1a" stroke="#1a1a1a" stroke-width="0.1">JUN</text>
<text x="484.4" y="64.9" font-family="Liberation Sans" font-size="5.75" font-weight="normal" text-anchor="start" fill="#1a1a1a" stroke="#1a1a1a" stroke-width="0.1">cyc-B</text>
<text x="477.9" y="69.1" font-family="Liberation Sans" font-size="5.75" font-weight="normal" text-anchor="start" fill="#1a1a1a" stroke="#1a1a1a" stroke-width="0.1">Idha</text>
<text x="454.4" y="77.9" font-family="Liberation Sans" font-size="5.75" font-weight="normal" text-anchor="start" fill="#1a1a1a" stroke="#1a1a1a" stroke-width="0.1">PGAM1</text>
<text x="477.9" y="79.2" font-family="Liberation Sans" font-size="5.75" font-weight="normal" text-anchor="start" fill="#1a1a1a" stroke="#1a1a1a" stroke-width="0.1">Acsl4</text>
<text x="458.2" y="88.8" font-family="Liberation Sans" font-size="5.75" font-weight="normal" text-anchor="start" fill="#1a1a1a" stroke="#1a1a1a" stroke-width="0.1">gapdh-2</text>
<text x="480.2" y="92.1" font-family="Liberation Sans" font-size="5.75" font-weight="normal" text-anchor="start" fill="#1a1a1a" stroke="#1a1a1a" stroke-width="0.1">SLC16A3</text>
<text x="442.9" y="95.5" font-family="Liberation Sans" font-size="5.75" font-weight="normal" text-anchor="start" fill="#1a1a1a" stroke="#1a1a1a" stroke-width="0.1">Gyg2</text>
<text x="469.7" y="100.9" font-family="Liberation Sans" font-size="5.75" font-weight="normal" text-anchor="start" fill="#1a1a1a" stroke="#1a1a1a" stroke-width="0.1">aldocb</text>
<text x="497.8" y="98.9" font-family="Liberation Sans" font-size="5.75" font-weight="normal" text-anchor="start" fill="#1a1a1a" stroke="#1a1a1a" stroke-width="0.1">fos</text>
<text x="460.1" y="106.1" font-family="Liberation Sans" font-size="5.75" font-weight="normal" text-anchor="start" fill="#1a1a1a" stroke="#1a1a1a" stroke-width="0.1">ENO1</text>
<text x="449.2" y="111.9" font-family="Liberation Sans" font-size="5.75" font-weight="normal" text-anchor="start" fill="#1a1a1a" stroke="#1a1a1a" stroke-width="0.1">TNFRSF10A</text>
<text x="471.6" y="116.8" font-family="Liberation Sans" font-size="5.75" font-weight="normal" text-anchor="start" fill="#1a1a1a" stroke="#1a1a1a" stroke-width="0.1">HK1</text>
<text x="462.0" y="123.0" font-family="Liberation Sans" font-size="5.75" font-weight="normal" text-anchor="start" fill="#1a1a1a" stroke="#1a1a1a" stroke-width="0.1">GOT2</text>
<text x="446.1" y="130.6" font-family="Liberation Sans" font-size="5.75" font-weight="normal" text-anchor="start" fill="#1a1a1a" stroke="#1a1a1a" stroke-width="0.1">LIPE</text>
<text x="463.0" y="129.1" font-family="Liberation Sans" font-size="5.75" font-weight="normal" text-anchor="start" fill="#1a1a1a" stroke="#1a1a1a" stroke-width="0.1">PFKL</text>
<text x="476.7" y="132.9" font-family="Liberation Sans" font-size="5.75" font-weight="normal" text-anchor="start" fill="#1a1a1a" stroke="#1a1a1a" stroke-width="0.1">MCL1</text>
<text x="465.8" y="139.2" font-family="Liberation Sans" font-size="5.75" font-weight="normal" text-anchor="start" fill="#1a1a1a" stroke="#1a1a1a" stroke-width="0.1">G6PC</text>
<text x="450.5" y="154.0" font-family="Liberation Sans" font-size="5.75" font-weight="normal" text-anchor="start" fill="#1a1a1a" stroke="#1a1a1a" stroke-width="0.1">mdm2</text>
<text x="470.6" y="154.5" font-family="Liberation Sans" font-size="5.75" font-weight="normal" text-anchor="start" fill="#1a1a1a" stroke="#1a1a1a" stroke-width="0.1">Acly</text>
<text x="451.5" y="160.9" font-family="Liberation Sans" font-size="5.75" font-weight="normal" text-anchor="start" fill="#1a1a1a" stroke="#1a1a1a" stroke-width="0.1">BAX</text>
<text x="465.8" y="160.9" font-family="Liberation Sans" font-size="5.75" font-weight="normal" text-anchor="start" fill="#1a1a1a" stroke="#1a1a1a" stroke-width="0.1">CDKN2A</text>
<text x="492.6" y="160.9" font-family="Liberation Sans" font-size="5.75" font-weight="normal" text-anchor="start" fill="#1a1a1a" stroke="#1a1a1a" stroke-width="0.1">GADD45B</text>
<text x="421.0" y="124.3" font-family="Liberation Sans" font-size="5.75" font-weight="normal" text-anchor="start" fill="#1a1a1a" stroke="#1a1a1a" stroke-width="0.1">SPHK2</text>
<text x="416.0" y="137.8" font-family="Liberation Sans" font-size="5.75" font-weight="normal" text-anchor="start" fill="#1a1a1a" stroke="#1a1a1a" stroke-width="0.1">GIMK7</text>
<text x="433.7" y="137.8" font-family="Liberation Sans" font-size="5.75" font-weight="normal" text-anchor="start" fill="#1a1a1a" stroke="#1a1a1a" stroke-width="0.1">ost2</text>
<path d="M286.0 259.5L281.4 264.8M294.5 265.5L286.0 272.0M291.0 271.5L284.5 278.0M291.0 279.5L285.0 290.0M292.5 285.5L283.0 294.0M292.5 291.0L284.0 298.0M302.0 296.0L287.0 298.0M305.5 300.5L293.0 300.0" stroke="#3DD66A" stroke-width="0.85" fill="none"/>
<path d="M281.4 264.8h0M286.0 272.0h0M284.5 278.0h0M285.0 290.0h0M283.0 294.0h0M284.0 298.0h0M287.0 298.0h0M293.0 300.0h0" stroke="#3DD66A" stroke-width="2.5" stroke-linecap="round" fill="none"/>
<text x="286.3" y="261.5" font-family="Liberation Sans" font-size="5.75" font-weight="normal" text-anchor="start" fill="#1a1a1a" stroke="#1a1a1a" stroke-width="0.1">aldocb</text>
<text x="294.8" y="267.2" font-family="Liberation Sans" font-size="5.75" font-weight="normal" text-anchor="start" fill="#1a1a1a" stroke="#1a1a1a" stroke-width="0.1">GADD45B</text>
<text x="291.2" y="273.0" font-family="Liberation Sans" font-size="5.75" font-weight="normal" text-anchor="start" fill="#1a1a1a" stroke="#1a1a1a" stroke-width="0.1">Aldoa</text>
<text x="291.2" y="282.0" font-family="Liberation Sans" font-size="5.75" font-weight="normal" text-anchor="start" fill="#1a1a1a" stroke="#1a1a1a" stroke-width="0.1">gapdh-2</text>
<text x="292.9" y="287.4" font-family="Liberation Sans" font-size="5.75" font-weight="normal" text-anchor="start" fill="#1a1a1a" stroke="#1a1a1a" stroke-width="0.1">CPT1A</text>
<text x="292.9" y="292.6" font-family="Liberation Sans" font-size="5.75" font-weight="normal" text-anchor="start" fill="#1a1a1a" stroke="#1a1a1a" stroke-width="0.1">Idha</text>
<text x="302.4" y="298.4" font-family="Liberation Sans" font-size="5.75" font-weight="normal" text-anchor="start" fill="#1a1a1a" stroke="#1a1a1a" stroke-width="0.1">ENO1</text>
<text x="306.0" y="302.5" font-family="Liberation Sans" font-size="5.75" font-weight="normal" text-anchor="start" fill="#1a1a1a" stroke="#1a1a1a" stroke-width="0.1">Cgl5</text>
<path d="M415.5 213.5L412.6 218.2M384.5 236.5L380.6 241.7M380.5 243.5L376.2 247.8M402.5 259.0L398.8 265.0M410.5 259.5L407.4 263.2M401.5 271.5L398.0 275.5M379.5 275.5L376.0 279.0M411.0 283.5L408.0 288.0M378.5 289.0L376.0 293.0M424.0 290.5L420.0 295.0M427.5 305.5L420.0 311.0M404.0 312.0L405.0 316.0M427.5 313.0L422.0 316.0M426.5 320.5L420.0 319.0M430.0 328.0L418.0 318.0M410.0 330.0L412.0 320.0M422.0 333.5L416.0 321.0M485.5 308.0L479.0 312.5M467.0 316.0L463.0 318.5" stroke="#3DD66A" stroke-width="0.85" fill="none"/>
<path d="M412.6 218.2h0M380.6 241.7h0M376.2 247.8h0M398.8 265.0h0M407.4 263.2h0M398.0 275.5h0M376.0 279.0h0M408.0 288.0h0M376.0 293.0h0M420.0 295.0h0M420.0 311.0h0M405.0 316.0h0M422.0 316.0h0M420.0 319.0h0M418.0 318.0h0M412.0 320.0h0M416.0 321.0h0M479.0 312.5h0M463.0 318.5h0" stroke="#3DD66A" stroke-width="2.5" stroke-linecap="round" fill="none"/>
<text x="415.1" y="215.3" font-family="Liberation Sans" font-size="5.75" font-weight="normal" text-anchor="start" fill="#1a1a1a" stroke="#1a1a1a" stroke-width="0.1">Pnpla2</text>
<text x="384.4" y="238.3" font-family="Liberation Sans" font-size="5.75" font-weight="normal" text-anchor="start" fill="#1a1a1a" stroke="#1a1a1a" stroke-width="0.1">Acsl4</text>
<text x="380.6" y="245.0" font-family="Liberation Sans" font-size="5.75" font-weight="normal" text-anchor="start" fill="#1a1a1a" stroke="#1a1a1a" stroke-width="0.1">JUN</text>
<text x="402.6" y="260.9" font-family="Liberation Sans" font-size="5.75" font-weight="normal" text-anchor="start" fill="#1a1a1a" stroke="#1a1a1a" stroke-width="0.1">PCK1</text>
<text x="410.0" y="260.9" font-family="Liberation Sans" font-size="5.75" font-weight="normal" text-anchor="start" fill="#1a1a1a" stroke="#1a1a1a" stroke-width="0.1">cyc-B</text>
<text x="401.5" y="273.3" font-family="Liberation Sans" font-size="5.75" font-weight="normal" text-anchor="start" fill="#1a1a1a" stroke="#1a1a1a" stroke-width="0.1">cyc-B</text>
<text x="379.6" y="277.0" font-family="Liberation Sans" font-size="5.75" font-weight="normal" text-anchor="start" fill="#1a1a1a" stroke="#1a1a1a" stroke-width="0.1">fos</text>
<text x="411.3" y="285.1" font-family="Liberation Sans" font-size="5.75" font-weight="normal" text-anchor="start" fill="#1a1a1a" stroke="#1a1a1a" stroke-width="0.1">FKBP4</text>
<text x="378.6" y="290.8" font-family="Liberation Sans" font-size="5.75" font-weight="normal" text-anchor="start" fill="#1a1a1a" stroke="#1a1a1a" stroke-width="0.1">hsp70</text>
<text x="424.4" y="292.3" font-family="Liberation Sans" font-size="5.75" font-weight="normal" text-anchor="start" fill="#1a1a1a" stroke="#1a1a1a" stroke-width="0.1">Gyg2</text>
<text x="413.5" y="300.0" font-family="Liberation Sans" font-size="5.75" font-weight="normal" text-anchor="start" fill="#1a1a1a" stroke="#1a1a1a" stroke-width="0.1">SPHK</text>
<text x="409.1" y="308.7" font-family="Liberation Sans" font-size="5.75" font-weight="normal" text-anchor="start" fill="#1a1a1a" stroke="#1a1a1a" stroke-width="0.1">Aldoa</text>
<text x="427.7" y="307.6" font-family="Liberation Sans" font-size="5.75" font-weight="normal" text-anchor="start" fill="#1a1a1a" stroke="#1a1a1a" stroke-width="0.1">TNFRSF10A</text>
<text x="380.7" y="313.5" font-family="Liberation Sans" font-size="5.75" font-weight="normal" text-anchor="start" fill="#1a1a1a" stroke="#1a1a1a" stroke-width="0.1">SLC16A3</text>
<text x="427.7" y="314.8" font-family="Liberation Sans" font-size="5.75" font-weight="normal" text-anchor="start" fill="#1a1a1a" stroke="#1a1a1a" stroke-width="0.1">mdm2</text>
<text x="426.6" y="322.2" font-family="Liberation Sans" font-size="5.75" font-weight="normal" text-anchor="start" fill="#1a1a1a" stroke="#1a1a1a" stroke-width="0.1">G6PC</text>
<text x="429.9" y="332.7" font-family="Liberation Sans" font-size="5.75" font-weight="normal" text-anchor="start" fill="#1a1a1a" stroke="#1a1a1a" stroke-width="0.1">GOT2</text>
<text x="400.4" y="336.0" font-family="Liberation Sans" font-size="5.75" font-weight="normal" text-anchor="start" fill="#1a1a1a" stroke="#1a1a1a" stroke-width="0.1">aldocb</text>
<text x="419.0" y="339.3" font-family="Liberation Sans" font-size="5.75" font-weight="normal" text-anchor="start" fill="#1a1a1a" stroke="#1a1a1a" stroke-width="0.1">MCL1</text>
<text x="485.8" y="310.1" font-family="Liberation Sans" font-size="5.75" font-weight="normal" text-anchor="start" fill="#1a1a1a" stroke="#1a1a1a" stroke-width="0.1">GERS6</text>
<text x="466.8" y="317.6" font-family="Liberation Sans" font-size="5.75" font-weight="normal" text-anchor="start" fill="#1a1a1a" stroke="#1a1a1a" stroke-width="0.1">GCT2</text><path d="M194.7 21 V166.0 H340.3" fill="none" stroke="#858585" stroke-width="1.3"/>
<line x1="192.9" y1="164.6" x2="194.7" y2="164.6" stroke="#666" stroke-width="0.6"/>
<text x="191.7" y="166.6" font-family="Liberation Serif" font-size="5.9" font-weight="normal" text-anchor="end" fill="#333" >0</text>
<line x1="192.9" y1="125.0" x2="194.7" y2="125.0" stroke="#666" stroke-width="0.6"/>
<text x="191.7" y="127.0" font-family="Liberation Serif" font-size="5.9" font-weight="normal" text-anchor="end" fill="#333" >10</text>
<line x1="192.9" y1="85.4" x2="194.7" y2="85.4" stroke="#666" stroke-width="0.6"/>
<text x="191.7" y="87.4" font-family="Liberation Serif" font-size="5.9" font-weight="normal" text-anchor="end" fill="#333" >20</text>
<line x1="192.9" y1="45.8" x2="194.7" y2="45.8" stroke="#666" stroke-width="0.6"/>
<text x="191.7" y="47.8" font-family="Liberation Serif" font-size="5.9" font-weight="normal" text-anchor="end" fill="#333" >30</text>
<line x1="198.2" y1="166.0" x2="198.2" y2="167.8" stroke="#666" stroke-width="0.6"/>
<text x="198.2" y="173.4" font-family="Liberation Serif" font-size="5.9" font-weight="normal" text-anchor="middle" fill="#333" >−10</text>
<line x1="232.9" y1="166.0" x2="232.9" y2="167.8" stroke="#666" stroke-width="0.6"/>
<text x="232.9" y="173.4" font-family="Liberation Serif" font-size="5.9" font-weight="normal" text-anchor="middle" fill="#333" >−5</text>
<line x1="267.7" y1="166.0" x2="267.7" y2="167.8" stroke="#666" stroke-width="0.6"/>
<text x="267.7" y="173.4" font-family="Liberation Serif" font-size="5.9" font-weight="normal" text-anchor="middle" fill="#333" >0</text>
<line x1="302.4" y1="166.0" x2="302.4" y2="167.8" stroke="#666" stroke-width="0.6"/>
<text x="302.4" y="173.4" font-family="Liberation Serif" font-size="5.9" font-weight="normal" text-anchor="middle" fill="#333" >5</text>
<line x1="337.2" y1="166.0" x2="337.2" y2="167.8" stroke="#666" stroke-width="0.6"/>
<text x="337.2" y="173.4" font-family="Liberation Serif" font-size="5.9" font-weight="normal" text-anchor="middle" fill="#333" >10</text>
<text x="267.7" y="16.3" font-family="Liberation Serif" font-size="8.1" font-weight="bold" text-anchor="middle" fill="#222" >Hy0 vs. Hy1</text>
<text x="267.7" y="182.0" font-family="Liberation Serif" font-size="7.9" font-weight="bold" text-anchor="middle" fill="#222" >log2(FC)</text>
<text x="0.0" y="0.0" font-family="Liberation Serif" font-size="8.4" font-weight="bold" text-anchor="middle" fill="#222" transform="translate(184.3 92.5) rotate(-90)">−log10(FDR)</text>
<path d="M372.4 20.7 V166.2 H517.5" fill="none" stroke="#858585" stroke-width="1.3"/>
<line x1="370.6" y1="162.6" x2="372.4" y2="162.6" stroke="#666" stroke-width="0.6"/>
<text x="369.4" y="164.6" font-family="Liberation Serif" font-size="5.9" font-weight="normal" text-anchor="end" fill="#333" >0</text>
<line x1="370.6" y1="127.5" x2="372.4" y2="127.5" stroke="#666" stroke-width="0.6"/>
<text x="369.4" y="129.5" font-family="Liberation Serif" font-size="5.9" font-weight="normal" text-anchor="end" fill="#333" >2.5</text>
<line x1="370.6" y1="92.3" x2="372.4" y2="92.3" stroke="#666" stroke-width="0.6"/>
<text x="369.4" y="94.3" font-family="Liberation Serif" font-size="5.9" font-weight="normal" text-anchor="end" fill="#333" >5</text>
<line x1="370.6" y1="57.2" x2="372.4" y2="57.2" stroke="#666" stroke-width="0.6"/>
<text x="369.4" y="59.2" font-family="Liberation Serif" font-size="5.9" font-weight="normal" text-anchor="end" fill="#333" >7.5</text>
<line x1="370.6" y1="22.1" x2="372.4" y2="22.1" stroke="#666" stroke-width="0.6"/>
<text x="369.4" y="24.1" font-family="Liberation Serif" font-size="5.9" font-weight="normal" text-anchor="end" fill="#333" >10</text>
<line x1="376.5" y1="166.2" x2="376.5" y2="168.0" stroke="#666" stroke-width="0.6"/>
<text x="376.5" y="173.6" font-family="Liberation Serif" font-size="5.9" font-weight="normal" text-anchor="middle" fill="#333" >−10</text>
<line x1="410.8" y1="166.2" x2="410.8" y2="168.0" stroke="#666" stroke-width="0.6"/>
<text x="410.8" y="173.6" font-family="Liberation Serif" font-size="5.9" font-weight="normal" text-anchor="middle" fill="#333" >−5</text>
<line x1="445.2" y1="166.2" x2="445.2" y2="168.0" stroke="#666" stroke-width="0.6"/>
<text x="445.2" y="173.6" font-family="Liberation Serif" font-size="5.9" font-weight="normal" text-anchor="middle" fill="#333" >0</text>
<line x1="479.6" y1="166.2" x2="479.6" y2="168.0" stroke="#666" stroke-width="0.6"/>
<text x="479.6" y="173.6" font-family="Liberation Serif" font-size="5.9" font-weight="normal" text-anchor="middle" fill="#333" >5</text>
<line x1="513.9" y1="166.2" x2="513.9" y2="168.0" stroke="#666" stroke-width="0.6"/>
<text x="513.9" y="173.6" font-family="Liberation Serif" font-size="5.9" font-weight="normal" text-anchor="middle" fill="#333" >10</text>
<text x="445.2" y="15.8" font-family="Liberation Serif" font-size="8.1" font-weight="bold" text-anchor="middle" fill="#222" >Hy0 vs. Hy6</text>
<text x="445.2" y="182.0" font-family="Liberation Serif" font-size="7.9" font-weight="bold" text-anchor="middle" fill="#222" >log2(FC)</text>
<text x="0.0" y="0.0" font-family="Liberation Serif" font-size="8.4" font-weight="bold" text-anchor="middle" fill="#222" transform="translate(361.6 92.0) rotate(-90)">−log10(FDR)</text>
<path d="M194.7 200.5 V345.8 H340.3" fill="none" stroke="#858585" stroke-width="1.3"/>
<line x1="192.9" y1="339.8" x2="194.7" y2="339.8" stroke="#666" stroke-width="0.6"/>
<text x="191.7" y="341.8" font-family="Liberation Serif" font-size="5.9" font-weight="normal" text-anchor="end" fill="#333" >0</text>
<line x1="192.9" y1="312.6" x2="194.7" y2="312.6" stroke="#666" stroke-width="0.6"/>
<text x="191.7" y="314.6" font-family="Liberation Serif" font-size="5.9" font-weight="normal" text-anchor="end" fill="#333" >1</text>
<line x1="192.9" y1="285.4" x2="194.7" y2="285.4" stroke="#666" stroke-width="0.6"/>
<text x="191.7" y="287.4" font-family="Liberation Serif" font-size="5.9" font-weight="normal" text-anchor="end" fill="#333" >2</text>
<line x1="192.9" y1="258.2" x2="194.7" y2="258.2" stroke="#666" stroke-width="0.6"/>
<text x="191.7" y="260.2" font-family="Liberation Serif" font-size="5.9" font-weight="normal" text-anchor="end" fill="#333" >3</text>
<line x1="192.9" y1="231.0" x2="194.7" y2="231.0" stroke="#666" stroke-width="0.6"/>
<text x="191.7" y="233.0" font-family="Liberation Serif" font-size="5.9" font-weight="normal" text-anchor="end" fill="#333" >4</text>
<line x1="192.9" y1="203.8" x2="194.7" y2="203.8" stroke="#666" stroke-width="0.6"/>
<text x="191.7" y="205.8" font-family="Liberation Serif" font-size="5.9" font-weight="normal" text-anchor="end" fill="#333" >5</text>
<line x1="198.8" y1="345.8" x2="198.8" y2="347.6" stroke="#666" stroke-width="0.6"/>
<text x="198.8" y="353.2" font-family="Liberation Serif" font-size="5.9" font-weight="normal" text-anchor="middle" fill="#333" >−5</text>
<line x1="233.3" y1="345.8" x2="233.3" y2="347.6" stroke="#666" stroke-width="0.6"/>
<text x="233.3" y="353.2" font-family="Liberation Serif" font-size="5.9" font-weight="normal" text-anchor="middle" fill="#333" >−2.5</text>
<line x1="267.7" y1="345.8" x2="267.7" y2="347.6" stroke="#666" stroke-width="0.6"/>
<text x="267.7" y="353.2" font-family="Liberation Serif" font-size="5.9" font-weight="normal" text-anchor="middle" fill="#333" >0</text>
<line x1="302.1" y1="345.8" x2="302.1" y2="347.6" stroke="#666" stroke-width="0.6"/>
<text x="302.1" y="353.2" font-family="Liberation Serif" font-size="5.9" font-weight="normal" text-anchor="middle" fill="#333" >2.5</text>
<line x1="336.5" y1="345.8" x2="336.5" y2="347.6" stroke="#666" stroke-width="0.6"/>
<text x="336.5" y="353.2" font-family="Liberation Serif" font-size="5.9" font-weight="normal" text-anchor="middle" fill="#333" >5</text>
<text x="267.7" y="196.6" font-family="Liberation Serif" font-size="8.1" font-weight="bold" text-anchor="middle" fill="#222" >Hy0 vs. Ro12</text>
<text x="267.7" y="362.0" font-family="Liberation Serif" font-size="7.9" font-weight="bold" text-anchor="middle" fill="#222" >log2(FC)</text>
<text x="0.0" y="0.0" font-family="Liberation Serif" font-size="8.4" font-weight="bold" text-anchor="middle" fill="#222" transform="translate(188.0 272.0) rotate(-90)">−log10(FDR)</text>
<path d="M372.4 200.5 V346.2 H517.5" fill="none" stroke="#858585" stroke-width="1.3"/>
<line x1="370.6" y1="342.3" x2="372.4" y2="342.3" stroke="#666" stroke-width="0.6"/>
<text x="369.4" y="344.3" font-family="Liberation Serif" font-size="5.9" font-weight="normal" text-anchor="end" fill="#333" >0</text>
<line x1="370.6" y1="307.2" x2="372.4" y2="307.2" stroke="#666" stroke-width="0.6"/>
<text x="369.4" y="309.2" font-family="Liberation Serif" font-size="5.9" font-weight="normal" text-anchor="end" fill="#333" >2.5</text>
<line x1="370.6" y1="272.1" x2="372.4" y2="272.1" stroke="#666" stroke-width="0.6"/>
<text x="369.4" y="274.1" font-family="Liberation Serif" font-size="5.9" font-weight="normal" text-anchor="end" fill="#333" >5</text>
<line x1="370.6" y1="236.9" x2="372.4" y2="236.9" stroke="#666" stroke-width="0.6"/>
<text x="369.4" y="238.9" font-family="Liberation Serif" font-size="5.9" font-weight="normal" text-anchor="end" fill="#333" >7.5</text>
<line x1="370.6" y1="201.8" x2="372.4" y2="201.8" stroke="#666" stroke-width="0.6"/>
<text x="369.4" y="203.8" font-family="Liberation Serif" font-size="5.9" font-weight="normal" text-anchor="end" fill="#333" >10</text>
<line x1="376.5" y1="346.2" x2="376.5" y2="348.0" stroke="#666" stroke-width="0.6"/>
<text x="376.5" y="353.6" font-family="Liberation Serif" font-size="5.9" font-weight="normal" text-anchor="middle" fill="#333" >−5</text>
<line x1="410.9" y1="346.2" x2="410.9" y2="348.0" stroke="#666" stroke-width="0.6"/>
<text x="410.9" y="353.6" font-family="Liberation Serif" font-size="5.9" font-weight="normal" text-anchor="middle" fill="#333" >−2.5</text>
<line x1="445.3" y1="346.2" x2="445.3" y2="348.0" stroke="#666" stroke-width="0.6"/>
<text x="445.3" y="353.6" font-family="Liberation Serif" font-size="5.9" font-weight="normal" text-anchor="middle" fill="#333" >0</text>
<line x1="479.7" y1="346.2" x2="479.7" y2="348.0" stroke="#666" stroke-width="0.6"/>
<text x="479.7" y="353.6" font-family="Liberation Serif" font-size="5.9" font-weight="normal" text-anchor="middle" fill="#333" >2.5</text>
<line x1="514.1" y1="346.2" x2="514.1" y2="348.0" stroke="#666" stroke-width="0.6"/>
<text x="514.1" y="353.6" font-family="Liberation Serif" font-size="5.9" font-weight="normal" text-anchor="middle" fill="#333" >5</text>
<text x="445.3" y="196.6" font-family="Liberation Serif" font-size="8.1" font-weight="bold" text-anchor="middle" fill="#222" >Hy6 vs. Ro12</text>
<text x="445.3" y="362.0" font-family="Liberation Serif" font-size="7.9" font-weight="bold" text-anchor="middle" fill="#222" >log2(FC)</text>
<text x="0.0" y="0.0" font-family="Liberation Serif" font-size="8.4" font-weight="bold" text-anchor="middle" fill="#222" transform="translate(360.8 272.5) rotate(-90)">−log10(FDR)</text>
</svg></body></html>
